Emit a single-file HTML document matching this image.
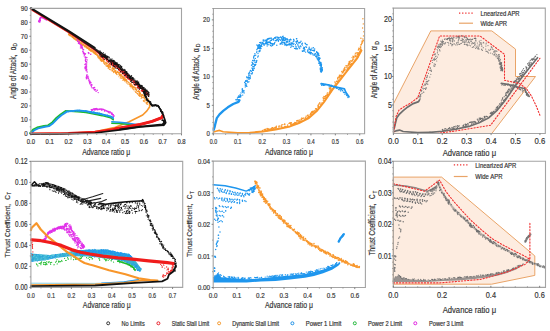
<!DOCTYPE html><html><head><meta charset="utf-8"><style>html,body{margin:0;padding:0;background:#fff;overflow:hidden}svg{display:block}text{stroke:#333;stroke-width:0.18px}</style></head><body><svg xmlns="http://www.w3.org/2000/svg" width="550" height="331" viewBox="0 0 550 331" font-family="Liberation Sans, sans-serif">
<rect width="550" height="331" fill="#fff"/>
<path d="M393.4 133.5 L393.4 103.9 L430.8 30.9 L491.8 30.9 L515.5 49.1 L515.5 76.5 L535.5 76.5 L491.8 133.5Z" fill="#fdece0" stroke="#e9a468" stroke-width="1.0" opacity="1"/>
<path d="M393.4 131.8 L395.8 130.9 L399.5 130.1 L403.2 131.5 L417.8 132.6 L430.0 132.4" fill="none" stroke="#6e6e6e" stroke-width="1.6" stroke-linejoin="round" stroke-linecap="round" opacity="1"/>
<path d="M430.0 132.4 L442.7 131.2 L455.7 129.2 L470.1 126.1 L479.1 122.7 L488.4 118.1 L497.4 110.1 L504.3 101.6 L513.3 88.5 L528.4 69.1 L537.5 57.7" fill="none" stroke="#6e6e6e" stroke-width="1.6" stroke-linejoin="round" stroke-linecap="round" opacity="1"/>
<path d="M471.8 123.6h0M487.2 117.1h0M508.4 89.7h0M444.1 130.6h0M474.1 121.3h0M536.9 54.6h0M524.6 70.5h0M509.3 89.0h0M509.2 93.6h0M500.9 104.4h0M511.8 84.8h0M518.5 79.2h0M479.2 118.2h0M526.9 67.5h0M515.4 85.0h0M515.1 85.7h0M489.6 116.3h0M494.5 112.5h0M527.8 63.8h0M459.3 125.8h0M534.7 57.1h0M508.5 91.1h0M499.7 104.2h0M484.9 118.1h0M505.7 98.8h0M512.6 89.0h0M526.2 71.9h0M511.8 85.4h0M526.6 71.3h0M530.0 64.2h0M515.1 81.2h0M524.1 71.8h0M477.3 119.2h0M525.9 72.2h0M453.5 129.0h0M491.4 112.2h0M478.4 121.9h0M527.5 63.8h0M507.6 90.8h0M515.4 81.6h0M528.1 69.4h0M499.7 107.3h0M480.1 118.0h0M506.4 92.4h0M466.7 124.6h0M507.3 91.9h0M447.6 130.1h0M480.7 121.7h0M529.3 63.7h0M496.1 109.4h0M509.8 91.0h0M503.7 100.0h0M532.7 60.2h0M493.2 112.8h0M471.8 122.6h0M535.6 56.5h0M502.8 97.7h0M491.7 113.5h0M445.0 130.0h0M509.0 88.9h0M508.5 92.1h0M512.4 85.8h0M514.5 85.3h0M444.7 128.8h0M512.4 89.6h0M473.2 122.6h0M506.0 94.8h0M486.4 116.3h0M487.2 117.1h0M479.2 119.8h0M519.6 74.1h0M504.5 99.6h0M480.1 118.7h0M522.0 72.3h0M465.6 125.0h0M513.8 82.1h0M481.8 118.4h0M524.4 70.5h0M526.0 66.7h0M483.4 119.1h0M528.4 65.4h0M470.4 122.4h0M501.4 100.8h0M522.2 76.0h0M465.1 124.5h0M522.3 74.6h0M522.3 72.6h0M458.4 126.3h0M521.2 73.6h0M484.5 117.5h0M492.3 112.4h0M531.1 59.8h0M443.2 131.0h0M527.8 69.8h0M493.3 113.5h0M531.7 59.5h0M517.5 82.0h0M511.2 88.5h0M477.8 120.2h0M470.4 122.2h0M505.7 95.0h0M522.6 70.2h0M529.7 65.3h0M531.2 64.8h0M529.5 64.9h0M444.1 130.5h0M463.6 125.0h0M511.2 88.5h0M491.4 115.2h0M507.4 92.9h0M473.7 124.1h0M497.5 109.0h0M485.1 116.4h0M501.8 103.6h0M463.6 126.8h0M531.2 64.2h0M523.6 68.7h0M508.9 94.0h0M448.3 128.5h0M475.5 122.0h0M492.6 112.4h0M519.9 73.5h0M449.1 128.0h0M457.9 125.7h0M535.3 59.4h0M453.1 128.2h0M480.9 118.7h0M484.9 118.3h0M505.6 95.6h0M466.1 124.4h0M457.5 127.4h0M515.2 82.1h0M452.0 127.4h0M487.7 116.9h0M520.3 75.5h0M521.8 75.1h0M493.4 111.3h0M499.1 106.6h0M492.3 113.5h0M496.2 108.2h0M501.9 102.9h0M451.1 128.3h0M492.6 113.9h0M532.4 59.7h0M529.3 66.5h0M474.6 122.1h0M457.6 128.2h0M511.2 90.8h0M521.2 76.1h0M516.6 81.5h0M455.1 128.0h0M442.8 129.4h0M519.6 74.2h0M453.5 126.9h0M528.1 63.9h0M445.2 130.5h0M457.6 128.3h0M512.0 89.3h0M533.7 59.5h0M521.7 71.3h0M519.1 77.9h0M515.1 80.6h0M517.9 82.2h0M449.8 128.3h0M504.0 100.8h0M472.3 121.9h0M473.2 123.3h0M518.1 78.4h0M486.8 116.4h0M485.0 117.3h0M452.6 128.3h0M535.3 56.1h0M517.5 77.7h0M513.2 87.1h0M512.0 87.4h0M497.9 107.9h0M529.3 62.1h0M454.1 128.7h0M530.9 62.7h0M494.3 111.8h0M465.6 124.3h0M467.0 125.2h0M480.9 118.4h0M513.2 88.3h0M478.5 121.6h0M491.5 114.8h0M505.4 95.3h0M469.5 122.4h0M497.6 107.0h0M463.8 125.1h0M481.7 120.4h0M460.1 128.2h0M497.6 108.1h0M496.7 110.0h0M523.4 72.7h0M497.8 108.3h0M526.3 67.8h0M516.6 84.0h0M496.7 107.4h0M471.4 124.5h0M512.1 90.0h0M526.0 67.1h0M465.7 124.3h0M465.5 126.0h0M526.2 71.2h0M473.7 124.1h0M480.6 119.4h0M516.3 78.8h0M454.1 129.0h0M478.1 120.1h0M505.3 98.0h0M442.9 129.8h0M493.9 111.3h0M468.5 124.8h0M533.8 58.0h0M502.5 98.7h0M476.0 122.4h0M456.6 128.7h0M530.2 60.6h0M532.7 59.3h0M519.7 78.7h0M478.5 121.4h0M510.6 91.2h0M475.1 123.1h0M534.4 59.2h0M502.0 99.5h0M498.9 105.3h0M515.4 83.8h0M504.2 96.6h0M510.0 91.0h0M464.5 126.9h0M510.7 86.8h0M532.0 58.5h0M482.6 119.7h0M506.5 95.5h0M510.1 89.7h0M480.6 118.3h0M451.0 129.2h0M518.1 79.3h0M516.9 79.8h0M475.1 121.6h0M527.5 63.8h0M499.8 103.5h0M519.3 76.5h0M482.9 118.2h0M502.4 102.6h0M485.3 119.0h0M456.1 126.8h0M454.5 126.7h0M520.0 78.1h0M465.2 124.2h0M491.9 114.0h0M522.9 74.6h0M505.9 93.9h0M490.2 113.3h0M501.3 103.0h0M467.5 123.8h0M520.2 73.3h0M521.9 76.7h0M533.3 58.5h0M503.3 100.4h0M509.2 94.3h0M513.0 84.6h0M526.4 68.2h0M506.9 96.1h0M442.6 130.8h0M511.1 88.5h0M501.0 102.8h0M466.3 125.1h0M446.9 129.4h0M509.9 89.9h0M504.4 101.2h0M529.0 62.4h0M521.2 75.9h0M448.6 128.7h0M471.3 121.9h0M502.2 103.8h0M481.7 120.9h0M513.5 82.7h0M526.3 69.2h0M531.6 63.1h0M516.9 79.7h0M522.2 76.6h0M526.6 67.7h0M518.4 78.6h0M455.9 126.2h0M452.1 127.5h0M462.4 126.0h0M513.8 84.9h0M492.3 113.3h0M479.7 120.0h0M518.4 78.0h0M465.0 126.8h0M515.4 81.8h0M487.2 116.8h0M506.2 93.9h0M442.3 129.6h0M520.5 73.7h0M496.1 108.1h0M468.1 123.3h0M490.9 112.6h0M445.7 128.7h0M463.4 125.7h0M449.6 127.6h0M495.1 110.0h0M514.1 81.4h0M490.7 113.7h0M445.7 130.7h0M469.5 122.6h0M497.4 106.4h0M508.2 91.8h0M457.4 125.8h0M516.0 80.4h0M520.7 75.4h0M532.1 59.6h0M473.2 121.8h0M522.9 73.8h0M484.2 116.3h0M512.7 89.2h0M505.8 93.1h0" stroke="#6e6e6e" stroke-width="1.20" stroke-linecap="round" fill="none" opacity="1"/>
<path d="M393.6 129.7 L394.6 126.9 L395.4 123.3 L396.8 117.8 L399.5 114.1 L403.2 110.6 L407.8 106.9 L413.2 103.6 L418.6 101.6 L419.5 99.9" fill="none" stroke="#6e6e6e" stroke-width="1.7" stroke-linejoin="round" stroke-linecap="round" opacity="1"/>
<path d="M416.8 98.6h0M421.2 91.3h0M420.1 97.3h0M437.1 49.5h0M440.1 45.3h0M438.3 54.7h0M437.4 47.2h0M426.5 83.7h0M437.8 46.7h0M427.4 84.2h0M420.8 94.3h0M427.5 81.8h0M437.8 47.6h0M436.4 58.6h0M437.3 52.8h0M438.4 48.1h0M427.3 77.1h0M436.0 56.1h0M423.9 85.6h0M435.5 59.5h0M434.2 60.5h0M428.5 73.3h0M432.6 60.5h0M430.8 74.3h0M432.4 62.5h0M426.1 87.5h0M435.3 64.4h0M437.6 50.9h0M439.5 49.5h0M426.2 81.8h0M419.5 96.4h0M438.1 46.2h0M430.3 68.7h0M420.9 96.0h0M422.8 87.0h0M423.3 92.2h0M430.2 67.7h0M426.5 88.0h0M424.5 88.5h0M429.8 77.1h0M434.2 66.3h0M429.9 70.5h0M421.5 90.8h0M435.1 53.7h0M420.4 99.0h0M425.6 89.4h0M420.4 95.6h0M425.7 88.5h0M433.8 65.8h0M437.4 57.1h0M427.4 81.3h0M427.4 75.7h0M437.5 52.8h0M435.3 54.2h0M431.3 70.1h0M433.3 59.1h0M426.8 81.3h0M420.2 96.4h0M434.8 59.1h0M434.2 63.9h0M423.4 88.9h0M440.1 43.9h0M427.1 76.1h0M422.8 88.5h0M440.2 47.6h0M440.0 50.9h0M435.0 65.8h0M430.9 70.5h0M441.4 46.7h0M439.6 46.7h0M435.5 56.6h0M442.7 43.9h0M427.8 84.2h0M421.8 90.3h0M434.1 59.5h0M431.4 71.5h0M420.0 98.2h0M425.2 85.1h0M428.0 81.3h0M434.5 58.1h0M420.2 94.7h0M426.5 77.6h0M423.8 92.2h0M436.7 61.0h0M442.1 44.8h0M426.1 79.4h0M426.0 83.2h0M431.2 71.0h0M428.8 80.4h0M425.5 84.7h0M439.6 50.0h0M424.7 84.2h0M434.3 54.7h0M422.0 93.4h0M429.8 70.5h0M418.1 97.3h0M435.7 56.6h0M441.7 44.8h0M438.4 44.8h0M421.4 90.3h0" stroke="#6e6e6e" stroke-width="1.20" stroke-linecap="round" fill="none" opacity="0.85"/>
<path d="M471.2 41.6h0M441.0 44.3h0M443.5 41.5h0M456.7 43.5h0M470.4 41.0h0M440.2 44.2h0M485.7 49.1h0M499.9 64.6h0M456.2 38.2h0M494.7 54.2h0M476.4 47.3h0M480.8 42.9h0M449.2 38.5h0M486.0 51.2h0M500.4 63.4h0M487.8 52.2h0M498.0 56.5h0M469.6 42.9h0M449.8 39.6h0M488.6 53.0h0M480.2 44.0h0M465.0 40.7h0M498.0 55.4h0M501.9 67.1h0M461.9 40.3h0M469.1 45.2h0M497.7 58.5h0M486.3 43.0h0M481.9 46.3h0M476.0 40.9h0M490.7 53.1h0M445.1 43.6h0M466.3 41.8h0M499.3 63.9h0M488.0 45.6h0M501.3 63.7h0M467.2 44.4h0M462.1 38.3h0M500.3 67.9h0M462.4 39.2h0M459.1 37.7h0M457.3 44.8h0M442.5 41.5h0M452.2 38.5h0M477.7 46.8h0M498.5 58.5h0M499.2 54.6h0M459.3 44.3h0M441.7 42.2h0M475.6 40.8h0M481.0 40.3h0M455.8 44.9h0M448.7 45.1h0M451.9 45.7h0M489.2 50.3h0M447.2 39.1h0M496.3 51.2h0M452.2 44.4h0M500.5 59.6h0M501.3 68.2h0M467.4 39.3h0M467.6 45.7h0M459.1 37.7h0M447.4 39.6h0M464.8 44.1h0M442.0 41.6h0M500.0 67.0h0M502.0 69.1h0M464.8 44.4h0M474.7 45.3h0M462.0 36.3h0M464.4 42.7h0M496.5 54.3h0M473.6 43.4h0M472.0 43.3h0M499.2 56.7h0M482.5 50.5h0M499.7 58.0h0M500.7 68.7h0M449.6 40.3h0M452.2 38.3h0M501.7 69.3h0M500.3 59.8h0M439.4 47.1h0M496.1 56.8h0M490.5 49.7h0M496.9 51.2h0M479.6 44.2h0M448.5 42.9h0M462.9 40.1h0M466.7 40.5h0M465.4 42.0h0M500.7 70.3h0M498.7 61.1h0M459.8 44.3h0M458.2 37.8h0M476.1 46.0h0M464.0 41.7h0M459.3 44.3h0M472.8 42.8h0M477.8 48.4h0M501.5 69.9h0M471.8 44.0h0M442.1 42.9h0M498.4 59.6h0M442.4 45.2h0M467.1 45.4h0M466.0 39.4h0M479.2 49.0h0M470.6 45.8h0M492.8 49.4h0M460.9 40.4h0M468.5 41.7h0M487.0 51.4h0M483.7 42.9h0M454.1 40.5h0M486.0 44.0h0M442.7 42.0h0M459.6 36.8h0M478.1 49.0h0M478.5 47.1h0M497.8 58.2h0M500.6 63.8h0M491.3 46.6h0M500.0 61.0h0M473.9 47.1h0M459.6 38.1h0M498.3 57.3h0M442.4 40.1h0M465.2 37.4h0M499.3 56.6h0M458.7 39.8h0M477.4 43.0h0M485.7 49.0h0M472.0 39.6h0M501.1 69.6h0M443.0 42.7h0M493.8 54.8h0M440.8 41.2h0M474.8 42.4h0M499.4 63.2h0M463.4 39.7h0M481.6 49.7h0M452.6 40.9h0M443.9 43.6h0M440.4 46.8h0M478.0 45.0h0M442.8 41.3h0M473.4 46.6h0M479.9 42.5h0M501.2 69.9h0M479.3 41.2h0M460.8 43.5h0M447.3 42.5h0M485.9 46.1h0M494.8 55.1h0M498.8 60.3h0M452.6 38.2h0M471.3 41.4h0M452.7 44.7h0M454.2 44.1h0M501.7 65.1h0M500.7 63.7h0M453.3 39.1h0M439.9 44.8h0M467.2 44.6h0M499.5 56.2h0M468.8 42.0h0M450.6 40.1h0M458.1 42.4h0M464.3 37.7h0M454.4 41.0h0M481.8 43.0h0M492.3 47.9h0M488.8 49.8h0M451.1 43.8h0M467.9 42.6h0M483.3 47.7h0M472.6 39.2h0M496.1 55.9h0M475.4 44.1h0M458.3 44.0h0M491.4 47.5h0M497.4 58.2h0M464.3 44.5h0M475.8 39.9h0M493.1 49.5h0M493.5 51.9h0M445.3 42.7h0M499.1 59.0h0M478.3 48.4h0M472.3 42.9h0M481.8 49.2h0M452.2 38.6h0M495.3 53.0h0M461.3 43.4h0M499.8 61.9h0M501.0 70.7h0M495.3 51.1h0M438.5 46.6h0M494.4 50.8h0M474.5 43.8h0M456.8 42.6h0M481.4 44.3h0M445.4 42.8h0M462.4 41.9h0M450.3 41.2h0M452.1 41.1h0M483.4 42.3h0M441.1 43.9h0M452.7 41.8h0M449.3 39.1h0M478.1 49.1h0M499.5 60.6h0M468.7 39.7h0M458.8 39.2h0M501.8 65.6h0M501.2 66.8h0M471.3 41.0h0M501.9 67.6h0M481.8 45.9h0M452.4 39.6h0M501.0 70.2h0M492.6 53.8h0M444.7 43.9h0M495.6 50.8h0M472.3 47.4h0M462.9 42.2h0M450.3 43.3h0M458.2 40.9h0M466.2 44.3h0M494.5 52.0h0M490.8 49.0h0M498.4 54.6h0M479.5 45.8h0M467.8 39.1h0M450.4 43.0h0M454.1 43.6h0M475.7 48.4h0M498.5 59.5h0" stroke="#6e6e6e" stroke-width="1.20" stroke-linecap="round" fill="none" opacity="0.85"/>
<path d="M458.7 36.9h0M453.8 37.7h0M444.5 39.2h0M470.7 39.2h0M467.3 38.3h0M467.4 39.1h0M474.8 38.4h0M458.4 36.2h0M451.2 38.2h0M448.3 38.4h0M449.5 37.9h0M451.5 37.9h0M475.8 38.4h0M445.9 38.9h0M464.3 36.4h0M461.7 35.7h0M475.2 38.0h0M456.2 36.8h0M449.5 38.0h0M447.4 38.5h0M466.6 37.7h0M457.7 36.9h0M472.0 39.5h0M468.9 39.9h0M474.3 38.4h0M450.2 38.6h0M453.9 37.4h0M448.6 38.2h0M447.0 39.4h0M469.3 39.4h0" stroke="#6e6e6e" stroke-width="1.20" stroke-linecap="round" fill="none" opacity="1"/>
<path d="M500.8 66.2h0M502.7 69.6h0M500.6 64.6h0M501.1 65.1h0M501.4 66.4h0M501.7 69.2h0M500.9 66.6h0M500.4 64.2h0M500.6 63.0h0M502.4 68.3h0M501.4 63.6h0M502.2 67.7h0M501.6 65.2h0M502.5 70.7h0M501.3 67.7h0M501.5 62.7h0M501.1 62.9h0M500.7 62.8h0M502.2 67.6h0M502.0 70.2h0" stroke="#6e6e6e" stroke-width="1.40" stroke-linecap="round" fill="none" opacity="1"/>
<path d="M509.4 85.1h0M508.9 84.7h0M520.9 90.0h0M527.6 95.9h0M507.4 84.4h0M502.9 83.5h0M519.2 88.4h0M508.4 84.2h0M504.4 83.6h0M516.8 86.7h0M526.2 94.1h0M511.9 85.6h0M502.3 84.6h0M523.3 90.7h0M522.5 89.8h0M507.9 84.2h0M507.4 85.1h0M520.4 89.6h0M504.4 85.0h0M515.8 86.7h0M516.8 87.2h0M507.4 84.6h0M520.9 89.9h0M526.8 93.9h0M526.5 95.2h0M522.5 91.8h0M505.4 85.2h0M526.5 93.2h0M519.2 89.4h0M510.4 86.4h0M526.8 94.5h0M505.9 83.9h0M525.4 92.4h0M510.9 85.3h0M527.1 94.5h0M501.8 85.0h0M510.9 85.2h0M527.9 95.8h0M503.9 85.3h0M508.9 84.3h0" stroke="#6e6e6e" stroke-width="1.20" stroke-linecap="round" fill="none" opacity="1"/>
<path d="M501.3 83.3 L508.2 84.5 L516.2 86.8 L524.5 88.5 L526.0 91.9 L529.2 96.4" fill="none" stroke="#6e6e6e" stroke-width="1.7" stroke-linejoin="round" stroke-linecap="round" opacity="1"/>
<path d="M539.9 115.3 L536.3 106.1 L531.4 96.0 L526.5 88.8 L519.4 83.5 L504.5 80.3 L504.5 54.3 L480.1 36.0 L439.6 36.0 L417.8 97.6 L410.3 103.3 L404.1 106.7 L399.0 110.1 L396.1 116.4 L394.4 126.7 L393.4 133.5 L437.4 133.5 L459.3 130.4 L490.6 125.3 L539.9 58.3" fill="none" stroke="#f03030" stroke-width="1.1" stroke-linejoin="round" stroke-linecap="round" opacity="1" stroke-dasharray="1.3 1.8" stroke-linecap="butt"/>
<line x1="459" y1="13.1" x2="473" y2="13.1" stroke="#f03030" stroke-width="1.1" stroke-dasharray="1.3 1.8"/>
<line x1="459" y1="23.2" x2="473" y2="23.2" stroke="#e9a468" stroke-width="1.2"/>
<text x="480.40" y="16.10" font-size="6.5" text-anchor="start" fill="#333" textLength="39.20" lengthAdjust="spacingAndGlyphs">Lnearized APR</text>
<text x="480.40" y="25.70" font-size="6.5" text-anchor="start" fill="#333" textLength="26.70" lengthAdjust="spacingAndGlyphs">Wide APR</text>
<path d="M393.3 284.2 L393.3 177.1 L441.6 177.1 L534.8 255.9 L534.8 275.4 L491.6 284.2Z" fill="#fdece0" stroke="#e9a468" stroke-width="1.0" opacity="1"/>
<path d="M393.3 184.9 L405.5 185.9 L416.5 188.1 L427.4 191.2 L430.6 190.0 L435.3 187.2 L436.7 185.9" fill="none" stroke="#6e6e6e" stroke-width="1.5" stroke-linejoin="round" stroke-linecap="round" opacity="0.8"/>
<path d="M398.1 188.5h0M400.6 189.1h0M402.7 189.5h0M405.3 190.3h0M407.7 190.7h0M410.1 191.5h0M413.1 191.9h0M415.5 191.9h0M417.6 192.5h0M420.0 193.6h0M423.0 194.0h0M425.2 194.0h0" stroke="#6e6e6e" stroke-width="1.56" stroke-linecap="round" fill="none" opacity="1"/>
<path d="M398.8 189.3h0M402.1 190.1h0M404.6 191.2h0M407.5 191.8h0M410.6 192.2h0M413.4 193.0h0M416.6 193.2h0M419.8 194.0h0M422.5 194.2h0M425.7 194.7h0" stroke="#6e6e6e" stroke-width="1.40" stroke-linecap="round" fill="none" opacity="1"/>
<path d="M399.7 190.8h0M401.6 191.4h0M404.1 191.9h0M406.8 192.5h0M409.2 193.0h0M411.8 193.9h0M414.2 194.4h0M416.7 194.4h0M419.0 195.3h0M421.7 195.5h0M424.2 196.2h0" stroke="#6e6e6e" stroke-width="1.56" stroke-linecap="round" fill="none" opacity="1"/>
<path d="M400.3 191.8h0M403.2 192.2h0M406.3 193.2h0M409.3 193.8h0M412.2 194.7h0M415.0 195.6h0M417.9 196.0h0M421.0 196.5h0M424.0 196.4h0" stroke="#6e6e6e" stroke-width="1.40" stroke-linecap="round" fill="none" opacity="1"/>
<path d="M394.7 198.1h0M397.4 198.3h0M400.0 197.9h0M402.1 198.0h0M404.9 198.4h0M407.5 198.9h0M410.2 199.1h0M412.6 199.2h0M414.5 199.7h0M417.1 199.4h0M420.1 199.8h0M422.5 199.9h0M424.7 200.6h0M427.1 200.7h0" stroke="#6e6e6e" stroke-width="1.56" stroke-linecap="round" fill="none" opacity="1"/>
<path d="M396.0 198.6h0M398.8 199.2h0M401.8 199.4h0M404.9 199.0h0M407.5 199.6h0M411.2 199.7h0M413.9 199.9h0M417.1 200.4h0M419.9 200.9h0M422.6 201.3h0M426.1 201.7h0" stroke="#6e6e6e" stroke-width="1.40" stroke-linecap="round" fill="none" opacity="1"/>
<path d="M402.4 199.9h0M404.8 200.7h0M407.5 200.8h0M410.1 201.4h0M412.5 201.5h0M415.3 202.2h0M417.5 202.1h0M420.4 202.9h0" stroke="#6e6e6e" stroke-width="1.56" stroke-linecap="round" fill="none" opacity="1"/>
<path d="M403.6 200.9h0M406.9 201.4h0M409.3 201.6h0M412.4 202.5h0M415.5 203.2h0M418.7 203.3h0M421.7 203.9h0" stroke="#6e6e6e" stroke-width="1.40" stroke-linecap="round" fill="none" opacity="1"/>
<path d="M399.5 206.1h0M402.5 206.4h0M405.8 206.5h0M408.9 207.0h0M412.0 207.1h0" stroke="#6e6e6e" stroke-width="1.56" stroke-linecap="round" fill="none" opacity="1"/>
<path d="M400.4 207.0h0M404.1 207.2h0M407.4 207.5h0M411.2 208.3h0" stroke="#6e6e6e" stroke-width="1.40" stroke-linecap="round" fill="none" opacity="1"/>
<path d="M395.9 210.3h0M399.1 211.1h0M402.3 211.1h0M405.3 211.4h0" stroke="#6e6e6e" stroke-width="1.56" stroke-linecap="round" fill="none" opacity="1"/>
<path d="M397.5 211.6h0M400.4 211.7h0M404.3 211.7h0M408.2 212.2h0" stroke="#6e6e6e" stroke-width="1.40" stroke-linecap="round" fill="none" opacity="1"/>
<path d="M396.1 215.3h0M399.4 215.4h0M402.7 215.6h0M405.4 215.5h0" stroke="#6e6e6e" stroke-width="1.56" stroke-linecap="round" fill="none" opacity="1"/>
<path d="M397.2 216.0h0M400.8 216.3h0M404.0 216.3h0" stroke="#6e6e6e" stroke-width="1.40" stroke-linecap="round" fill="none" opacity="1"/>
<path d="M394.4 219.3h0M398.0 220.3h0M400.6 221.0h0" stroke="#6e6e6e" stroke-width="1.56" stroke-linecap="round" fill="none" opacity="1"/>
<path d="M395.7 220.2h0M399.4 221.1h0M403.2 221.7h0" stroke="#6e6e6e" stroke-width="1.40" stroke-linecap="round" fill="none" opacity="1"/>
<path d="M435.8 188.6h0M434.1 189.9h0M434.6 187.6h0M434.8 188.3h0M434.5 190.1h0M433.3 194.1h0M431.0 189.8h0M432.2 191.0h0M434.0 190.1h0M429.0 193.9h0M430.4 189.9h0M433.4 189.7h0M428.9 193.5h0M430.0 195.7h0M436.5 187.9h0M432.2 189.6h0M436.9 187.3h0M433.4 190.0h0M432.8 194.6h0M426.9 192.7h0M434.6 192.9h0M431.6 193.5h0M432.6 189.9h0M428.3 194.5h0M432.6 189.9h0M432.0 191.3h0M434.4 189.7h0M431.1 195.4h0M431.6 191.0h0M427.5 195.0h0M436.1 189.1h0M433.5 189.0h0M433.0 192.1h0M430.7 191.2h0M435.4 188.3h0M432.7 189.5h0M428.1 193.0h0M436.0 190.8h0M435.3 187.3h0M435.9 188.9h0M433.5 189.1h0M432.8 188.5h0M435.6 188.7h0M436.0 188.4h0M433.2 193.7h0" stroke="#6e6e6e" stroke-width="1.40" stroke-linecap="round" fill="none" opacity="0.8"/>
<path d="M398.1 242.6h0M396.5 213.8h0M396.6 248.5h0M398.9 225.1h0M396.5 215.0h0M394.4 269.5h0M400.8 229.8h0M397.0 246.8h0M397.3 217.0h0M400.7 231.1h0M395.0 256.6h0M396.4 213.5h0M399.4 228.6h0M395.6 260.3h0M394.7 255.7h0M398.7 238.2h0M400.6 231.7h0M395.3 264.8h0M400.7 229.3h0M394.4 259.1h0M394.7 267.4h0M394.2 264.3h0M399.6 237.1h0M397.8 244.2h0M397.3 212.5h0M397.1 214.2h0" stroke="#6e6e6e" stroke-width="1.50" stroke-linecap="round" fill="none" opacity="0.8"/>
<path d="M394.4 268.1h0M394.7 268.0h0" stroke="#6e6e6e" stroke-width="1.80" stroke-linecap="round" fill="none" opacity="0.8"/>
<path d="M394.6 271.2h0M394.5 270.8h0" stroke="#6e6e6e" stroke-width="1.80" stroke-linecap="round" fill="none" opacity="0.8"/>
<path d="M395.3 256.5h0M395.6 256.5h0" stroke="#6e6e6e" stroke-width="1.80" stroke-linecap="round" fill="none" opacity="0.8"/>
<path d="M395.8 207.9h0M396.1 207.8h0" stroke="#6e6e6e" stroke-width="1.80" stroke-linecap="round" fill="none" opacity="0.8"/>
<path d="M393.3 279.5 L396.0 276.7 L398.9 275.1 L402.1 278.6 L412.6 279.5 L427.7 280.5 L442.6 279.5 L457.7 277.9 L472.6 276.7 L488.2 275.1 L497.4 273.2 L507.0 270.7 L516.2 267.5 L522.6 264.4 L524.5 263.8 L524.5 263.4 L522.6 265.3 L516.2 269.4 L507.0 272.9 L497.4 275.7 L488.2 277.3 L472.6 279.2 L457.7 280.5 L442.6 281.1 L427.7 282.0 L412.6 282.0 L402.1 282.0 L398.9 282.0 L396.0 282.0 L393.3 282.0Z" fill="#6e6e6e" stroke="none" stroke-width="0" opacity="0.7"/>
<path d="M434.3 279.9h0M512.5 268.3h0M513.5 268.1h0M400.8 277.4h0M498.6 272.4h0M467.8 276.2h0M438.8 278.9h0M414.2 278.8h0M506.8 270.7h0M474.3 276.2h0M393.6 279.4h0M447.3 279.2h0M398.3 274.9h0M504.4 270.9h0M478.3 275.2h0M496.1 272.9h0M491.7 273.9h0M442.8 278.7h0M469.8 276.6h0M459.3 277.0h0M431.7 279.4h0M508.2 270.2h0M464.3 276.8h0M423.7 279.5h0M488.2 274.6h0M518.6 266.2h0M429.7 280.3h0M518.1 265.9h0M483.2 275.5h0M466.8 276.5h0M458.8 277.5h0M490.2 274.3h0M499.5 272.7h0M459.8 277.2h0M445.3 278.8h0M519.0 265.3h0M501.5 272.0h0M432.7 279.3h0M513.9 267.9h0M447.3 279.0h0M430.2 280.6h0M451.8 278.3h0M473.3 276.3h0M507.3 270.4h0M487.2 274.5h0M449.8 277.8h0M508.7 270.4h0M482.3 275.1h0M408.7 279.3h0M488.2 274.2h0M445.8 278.7h0M499.0 272.9h0M448.8 277.9h0M492.7 273.7h0M507.8 270.0h0M423.2 280.3h0M482.8 275.5h0M405.2 278.6h0M513.0 268.8h0M513.9 268.3h0M437.3 278.9h0M439.3 278.8h0M504.4 270.8h0M434.8 279.1h0M441.8 279.5h0M511.6 269.3h0M517.2 266.1h0M423.7 279.7h0M454.8 277.9h0M444.3 278.9h0M395.0 277.3h0M520.4 265.2h0M480.8 275.2h0M449.3 278.5h0M400.1 276.6h0M423.7 279.3h0M483.7 275.0h0M497.1 272.4h0M420.7 279.2h0M405.2 278.7h0M485.7 274.9h0M503.4 271.7h0M413.2 279.8h0M438.8 279.5h0M511.6 269.3h0M414.2 278.8h0M503.4 271.1h0M402.7 278.9h0M453.8 277.8h0M453.3 277.8h0M403.2 277.8h0M404.2 277.9h0M508.2 269.6h0M433.2 280.0h0M413.7 279.9h0M489.7 274.8h0M461.3 277.6h0M506.8 270.0h0M476.3 275.8h0M515.4 267.2h0M480.8 275.1h0M487.7 274.5h0M428.2 279.9h0M440.8 279.9h0M440.3 279.4h0M435.8 279.7h0M467.3 277.3h0M403.2 278.2h0M487.7 275.1h0M425.2 280.5h0M420.7 279.6h0M486.7 275.2h0M520.4 265.6h0M454.8 277.5h0M457.8 277.2h0M480.3 275.0h0M399.5 275.5h0M393.3 278.9h0M440.3 279.0h0M471.8 276.7h0M523.1 263.7h0M522.6 264.2h0M460.3 277.7h0M508.7 269.7h0M486.7 275.3h0M421.7 280.4h0M406.7 278.8h0M496.1 273.6h0M460.3 277.4h0M425.2 279.8h0M418.2 279.4h0M490.7 274.8h0M406.2 278.5h0M497.1 273.5h0M488.2 274.3h0M458.8 277.2h0M434.8 279.6h0M519.9 265.3h0M394.0 278.9h0M465.3 276.7h0M518.1 265.9h0M503.4 270.7h0M490.7 273.9h0M497.1 273.1h0M400.8 276.2h0M445.8 279.1h0M460.8 277.3h0M402.7 278.7h0M476.8 276.0h0M395.7 276.8h0M466.3 277.3h0M470.8 276.6h0M477.8 276.0h0M493.2 274.1h0M457.8 277.9h0M412.7 279.0h0M401.8 278.4h0M424.2 280.0h0M432.7 279.9h0M395.7 276.7h0" stroke="#6e6e6e" stroke-width="1.10" stroke-linecap="round" fill="none" opacity="1"/>
<path d="M525.9 240.7h0M529.3 236.4h0M525.2 240.7h0M526.4 238.6h0M528.3 236.3h0M526.7 238.7h0M528.4 237.2h0M528.1 237.0h0M525.4 240.9h0M528.9 235.7h0M526.8 238.8h0M526.4 238.5h0M525.6 241.5h0M526.8 237.8h0" stroke="#6e6e6e" stroke-width="1.50" stroke-linecap="round" fill="none" opacity="0.8"/>
<path d="M525.3 241.7 L527.2 237.9 L530.4 234.4" fill="none" stroke="#6e6e6e" stroke-width="2.2" stroke-linejoin="round" stroke-linecap="round" opacity="0.8"/>
<path d="M437.4 181.5 L439.2 185.9 L442.1 192.2 L446.7 199.1 L452.6 207.3 L457.2 212.1 L461.8 216.5 L466.5 220.9 L471.1 225.3 L475.7 229.4 L480.6 233.5 L485.3 237.3 L489.9 240.7 L494.5 243.6 L499.2 246.1 L507.0 250.5 L514.5 254.6 L522.6 258.7 L531.4 262.8 L537.7 265.0 L544.5 267.2" fill="none" stroke="#6e6e6e" stroke-width="2.0" stroke-linejoin="round" stroke-linecap="round" opacity="0.45"/>
<path d="M502.5 247.6h0M540.2 266.2h0M484.1 235.1h0M465.1 217.9h0M476.4 229.5h0M471.9 227.2h0M531.8 262.0h0M457.9 214.6h0M438.3 182.2h0M499.8 246.3h0M438.2 184.4h0M515.1 253.3h0M491.1 241.4h0M444.2 195.2h0M471.7 225.3h0M513.4 254.5h0M523.1 258.7h0M469.5 225.8h0M487.6 238.4h0M445.5 198.3h0M449.2 201.5h0M510.6 253.5h0M530.5 261.7h0M446.9 200.7h0M475.7 228.8h0M446.1 198.6h0M453.1 209.1h0M449.0 202.8h0M516.8 256.8h0M534.8 263.5h0M520.3 257.0h0M512.0 254.0h0M454.1 209.9h0M507.3 249.7h0M454.3 210.8h0M526.7 260.0h0M492.1 242.7h0M523.0 257.9h0M496.1 245.2h0M469.9 224.8h0M458.8 212.5h0M525.7 260.5h0M505.3 250.5h0M470.9 227.0h0M511.6 254.4h0M470.2 225.0h0M476.7 230.5h0M519.2 256.7h0M544.2 266.5h0M476.0 229.1h0M527.7 262.0h0M511.1 252.6h0M503.9 249.6h0M520.3 258.6h0M529.6 261.0h0M537.9 265.7h0M455.1 211.0h0M479.8 231.5h0M477.5 231.4h0M449.2 200.2h0M468.2 222.8h0M517.7 257.7h0M467.3 219.9h0M536.8 263.8h0M455.8 210.8h0M485.0 237.2h0M514.3 254.1h0M479.1 231.5h0M491.3 242.2h0M529.3 261.5h0M492.2 243.0h0M445.8 198.0h0M443.8 194.1h0M438.8 184.2h0M488.1 238.4h0M525.2 259.8h0M488.7 240.2h0M489.7 241.4h0M538.2 263.7h0M516.0 254.3h0M501.3 248.9h0M490.6 239.6h0M477.3 231.9h0M468.6 223.0h0M492.2 243.0h0M476.6 231.5h0M439.8 187.5h0M537.3 264.8h0M464.7 218.5h0M451.2 204.7h0M448.0 199.5h0M439.7 190.5h0M443.7 195.0h0M440.7 189.3h0M468.0 220.9h0M478.9 233.1h0M490.7 240.5h0M503.9 248.5h0M493.5 241.6h0M511.6 253.6h0M532.4 264.3h0M535.0 263.3h0M471.5 227.2h0M437.6 183.2h0M543.7 265.8h0M438.0 182.5h0M457.5 212.2h0M470.6 226.0h0M511.2 252.4h0M517.3 257.0h0M490.1 242.0h0M469.7 225.0h0M537.5 264.5h0M507.6 251.0h0M479.1 234.1h0M460.0 214.8h0M515.8 253.7h0M473.4 225.5h0M482.6 236.9h0M477.2 231.3h0M542.7 267.0h0M455.6 210.9h0M520.7 258.1h0M539.7 266.4h0M496.6 246.0h0M526.5 260.2h0M461.0 215.8h0M455.7 210.0h0M498.7 245.3h0M457.4 213.6h0M447.9 202.9h0M544.2 267.8h0M441.5 192.7h0M532.4 263.2h0M464.4 218.8h0M534.7 263.6h0M544.3 267.8h0M491.3 241.7h0M470.4 223.5h0M523.6 258.7h0M448.4 202.2h0M500.2 246.2h0M494.2 242.2h0M446.7 200.2h0M485.5 238.9h0M522.8 259.8h0M479.1 234.2h0M529.8 262.7h0M492.7 243.5h0M469.0 223.1h0M460.8 216.6h0M439.7 187.5h0M495.9 243.4h0M445.4 196.8h0M463.9 218.5h0M443.6 194.7h0M461.8 216.9h0M537.1 264.3h0M479.2 234.1h0M438.4 184.9h0M538.9 265.0h0M489.9 240.3h0M449.4 202.1h0M480.8 234.9h0M524.3 260.0h0M532.7 263.9h0M440.5 189.7h0M445.8 199.9h0M532.4 263.5h0M498.1 246.7h0M540.1 266.8h0M494.9 242.6h0M518.2 257.5h0M486.8 238.0h0M474.4 227.5h0M439.9 187.4h0M515.2 253.3h0M470.2 225.9h0M448.2 200.6h0M439.0 182.9h0M514.2 256.2h0M466.6 220.5h0M517.9 257.5h0M513.7 254.8h0M478.0 231.9h0M465.6 220.8h0M463.7 217.2h0M527.9 260.0h0M444.1 197.1h0M508.9 250.6h0M477.7 230.5h0M502.2 248.1h0M532.4 263.0h0M511.7 253.9h0M442.1 193.0h0M493.3 243.5h0M464.5 219.2h0M506.7 249.4h0M444.1 193.5h0M478.9 233.8h0M504.6 248.4h0M519.4 256.1h0M489.0 239.3h0M522.6 259.1h0M444.1 195.5h0M438.4 182.7h0M470.6 225.6h0M472.5 227.2h0M474.6 227.0h0M518.8 256.0h0M471.0 226.1h0M483.2 235.2h0M512.6 253.0h0M537.4 264.1h0M448.6 204.0h0M470.9 223.9h0M478.6 230.9h0M467.1 220.6h0M516.4 254.3h0M463.6 217.2h0" stroke="#6e6e6e" stroke-width="1.30" stroke-linecap="round" fill="none" opacity="1"/>
<path d="M393.3 183.7 L424.5 191.2 L439.6 180.2 L446.0 191.6 L453.1 200.7 L462.1 210.8 L470.9 220.3 L480.9 229.4 L491.8 238.5 L502.6 244.8 L513.5 250.5 L524.3 255.9 L529.9 259.3 L529.9 223.4" fill="none" stroke="#f03030" stroke-width="1.1" stroke-linejoin="round" stroke-linecap="round" opacity="1" stroke-dasharray="1.3 1.8" stroke-linecap="butt"/>
<path d="M393.3 282.9 L439.6 282.9 L479.9 279.5 L489.6 277.0 L509.2 271.3 L525.0 264.4 L529.9 259.3" fill="none" stroke="#f03030" stroke-width="1.1" stroke-linejoin="round" stroke-linecap="round" opacity="1" stroke-dasharray="1.3 1.8" stroke-linecap="butt"/>
<line x1="453.8" y1="164.9" x2="467.6" y2="164.9" stroke="#f03030" stroke-width="1.1" stroke-dasharray="1.3 1.8"/>
<line x1="453.8" y1="176.5" x2="467.6" y2="176.5" stroke="#e9a468" stroke-width="1.2"/>
<text x="475.30" y="168.10" font-size="6.6" text-anchor="start" fill="#333" textLength="41.10" lengthAdjust="spacingAndGlyphs">Linearized APR</text>
<text x="475.30" y="179.00" font-size="6.6" text-anchor="start" fill="#333" textLength="27.20" lengthAdjust="spacingAndGlyphs">Wide APR</text>
<path d="M68.5 33.8 L94.9 51.9 L100.0 56.9 L100.0 58.3 L94.9 53.0 L68.5 34.3Z" fill="#f8962a" stroke="none" stroke-width="0" opacity="0.7"/>
<path d="M126.5 81.7h0M73.9 37.7h0M88.2 48.3h0M130.2 85.1h0M148.2 100.6h0M72.2 37.0h0M72.2 37.2h0M88.9 47.8h0M90.5 50.8h0M119.1 72.7h0M146.2 100.2h0M131.8 88.1h0M117.3 74.7h0M89.5 49.7h0M123.3 79.7h0M124.7 80.4h0M75.9 39.6h0M72.6 37.5h0M91.2 50.9h0M147.4 101.0h0M116.5 73.8h0M124.3 79.7h0M129.3 84.2h0M70.4 35.6h0M116.6 72.5h0M118.8 76.5h0M136.5 90.0h0M123.5 78.1h0M79.8 41.8h0M143.8 101.2h0M131.2 86.1h0M104.4 61.9h0M103.7 60.0h0M85.2 46.3h0M118.3 72.1h0M112.6 67.8h0M120.9 74.4h0M132.5 88.5h0M116.5 74.1h0M137.1 92.2h0M139.0 92.1h0M77.9 41.6h0M139.5 93.8h0M117.6 71.5h0M121.1 78.0h0M147.0 100.9h0M134.4 90.7h0M126.4 79.6h0M94.8 52.9h0M109.8 66.4h0M90.3 49.9h0M106.4 66.1h0M101.2 60.0h0M78.2 40.7h0M103.3 59.7h0M74.5 38.5h0M123.7 78.9h0M77.2 40.4h0M75.9 39.9h0M71.9 36.1h0M83.5 44.1h0M83.5 44.8h0M98.3 57.2h0M75.1 38.9h0M75.1 39.1h0M97.8 56.3h0M96.2 54.5h0M103.6 62.9h0M126.4 80.0h0M82.1 43.9h0M122.0 75.6h0M98.3 56.9h0M136.8 92.9h0M106.1 65.7h0M93.7 51.8h0M112.1 70.9h0M128.7 82.5h0M104.0 60.6h0M144.8 98.9h0M76.5 39.8h0M109.5 64.8h0M91.5 50.0h0M139.8 93.2h0M105.8 64.9h0M120.8 76.4h0M87.2 48.4h0M92.7 50.4h0M78.6 41.8h0M99.2 56.9h0M123.8 77.6h0M146.9 103.9h0M70.8 36.1h0M124.5 77.6h0M122.8 77.2h0M120.6 74.1h0M136.4 89.9h0M126.2 81.9h0M107.9 63.9h0M86.0 47.1h0M107.1 63.6h0M94.4 53.3h0M142.0 94.8h0M101.4 60.2h0M75.8 40.0h0M136.8 92.6h0M139.1 93.2h0M79.9 43.1h0M129.3 84.3h0M106.1 65.8h0M117.5 72.4h0M117.5 71.8h0M85.6 45.9h0M107.3 65.9h0M145.8 100.0h0M84.4 46.5h0M88.9 47.8h0M76.1 39.5h0M132.0 87.4h0M117.6 72.2h0M104.3 63.3h0M135.7 88.6h0M132.3 87.2h0M135.3 87.5h0M121.2 76.2h0M119.5 72.6h0M123.2 78.2h0M94.8 51.9h0M115.0 71.5h0M125.6 79.2h0M105.9 63.7h0M108.4 66.8h0M84.6 45.9h0M78.6 42.0h0M132.2 87.7h0M141.6 94.7h0M70.2 35.6h0M85.2 45.7h0M102.1 59.1h0M88.9 49.3h0M101.4 60.8h0M82.3 44.6h0M110.3 66.3h0M143.4 95.9h0M88.8 49.5h0M113.7 72.5h0M68.5 34.0h0M126.8 80.6h0M133.2 87.6h0M73.5 37.9h0M85.2 45.9h0M73.1 36.9h0M74.0 37.9h0M74.7 38.7h0M121.0 77.8h0M91.9 50.8h0M109.0 66.0h0M114.3 68.8h0M111.0 69.6h0M134.2 87.8h0M69.0 35.0h0M123.4 76.8h0M97.4 54.9h0M134.2 87.8h0M124.6 79.0h0M96.8 55.1h0M132.4 87.7h0M144.5 96.8h0M124.9 78.2h0M142.0 95.8h0M121.3 74.4h0M130.9 84.3h0M89.2 49.8h0M130.7 86.2h0M79.0 41.1h0M83.1 44.6h0M78.6 41.4h0M141.2 96.5h0M146.1 103.0h0M147.2 100.8h0M142.2 97.6h0M135.3 90.9h0M81.1 43.8h0M145.1 100.2h0M77.4 40.9h0M123.5 76.9h0M90.3 49.4h0M141.3 98.4h0M139.3 95.1h0M135.6 88.0h0M70.2 34.9h0M122.8 77.1h0M81.4 42.8h0M115.7 73.3h0M137.3 91.7h0M125.8 81.1h0M109.3 66.1h0M72.0 36.7h0M93.9 51.3h0M71.4 36.1h0M102.9 59.9h0M136.8 92.3h0M93.6 52.8h0M81.9 43.9h0M98.0 55.3h0M108.6 64.7h0M122.9 80.2h0M146.2 97.1h0M108.2 68.2h0M123.8 78.5h0M105.6 62.3h0M136.6 91.0h0M79.1 42.2h0M143.8 100.4h0M148.2 98.9h0M102.1 60.2h0M74.6 39.2h0M96.2 53.3h0M93.7 52.0h0M103.3 60.0h0M77.9 41.5h0M146.9 102.3h0M92.8 52.0h0M93.2 51.0h0M89.4 48.5h0M70.6 35.4h0M136.5 89.7h0M101.0 58.8h0M134.3 90.2h0M143.0 95.3h0M91.8 49.8h0M101.4 60.9h0M99.9 58.3h0M73.6 37.7h0M95.9 53.0h0M138.7 91.2h0M134.9 90.1h0M73.1 36.9h0M141.6 95.0h0M113.9 69.3h0M103.2 61.3h0M121.3 75.6h0M135.7 91.3h0M129.9 85.9h0M114.6 71.7h0M113.1 68.0h0M85.4 46.7h0M99.7 58.2h0M117.9 72.3h0M139.6 95.0h0M141.6 97.5h0M99.7 58.7h0M102.1 60.8h0M135.9 90.0h0M102.1 59.0h0M139.1 92.8h0M111.8 68.5h0M110.6 69.3h0M112.2 67.8h0M108.6 67.9h0M108.6 67.4h0M115.4 71.6h0M122.0 76.0h0M123.0 80.3h0M143.4 97.6h0M140.5 93.0h0M80.3 43.1h0M142.0 95.1h0M78.2 40.7h0M137.5 93.8h0M131.3 84.8h0M84.4 45.2h0M146.6 98.3h0M116.2 72.1h0M135.8 92.4h0M132.9 86.9h0M107.3 65.6h0M81.0 42.7h0M113.1 68.5h0M99.3 58.8h0M122.8 77.1h0M129.0 82.4h0M139.7 91.5h0M133.3 89.3h0M95.9 53.7h0M132.0 85.3h0M131.2 84.0h0M139.8 94.7h0M95.5 53.6h0M138.3 90.8h0M99.0 58.5h0M69.8 35.7h0M94.2 52.5h0M93.6 51.8h0M113.5 68.8h0M127.2 81.7h0M122.0 76.1h0M130.1 83.7h0M119.7 75.4h0M126.2 81.7h0M94.8 53.6h0M86.8 47.5h0M69.4 35.3h0M119.1 73.8h0M89.4 48.6h0M92.7 50.5h0M73.8 38.7h0M85.3 46.0h0M77.0 40.4h0M106.3 63.4h0M100.4 60.2h0M125.5 81.3h0M113.1 67.6h0M115.0 71.6h0M75.1 38.8h0M88.9 48.9h0M68.5 34.0h0M130.3 86.3h0M117.2 71.7h0M86.7 47.7h0M136.0 88.3h0M79.1 42.3h0M94.8 52.2h0M133.7 87.6h0M98.1 55.9h0M128.0 83.9h0M86.0 46.1h0M113.3 71.4h0M126.9 81.4h0M139.3 91.5h0M125.1 81.5h0M71.0 35.7h0M98.0 55.2h0M119.4 73.0h0M95.5 52.6h0M118.6 73.3h0M123.1 77.1h0M127.5 81.4h0M115.7 73.3h0M135.4 91.5h0M119.0 74.2h0M110.1 69.6h0M94.5 53.7h0M84.4 46.3h0M76.6 40.1h0M120.6 75.8h0M91.2 51.5h0M128.3 82.2h0M91.5 50.0h0M91.5 50.7h0M95.2 53.5h0M123.4 77.0h0M100.6 57.9h0M99.4 57.1h0M122.3 78.0h0M141.5 97.9h0M148.2 98.9h0M138.0 91.3h0M113.3 71.4h0M85.3 46.1h0M108.0 66.3h0M119.5 74.2h0M148.2 100.2h0M133.2 87.9h0M74.9 38.5h0M87.5 48.4h0M141.7 96.9h0M140.5 94.0h0M81.1 43.7h0M97.6 55.9h0M136.3 91.4h0M138.6 95.2h0M93.5 51.3h0M146.9 103.1h0M78.2 40.9h0M138.0 91.4h0M102.5 60.4h0M89.2 50.0h0M146.2 100.1h0M130.1 83.3h0M120.3 77.9h0M136.8 89.5h0M69.0 34.5h0M101.9 61.1h0M143.4 100.6h0M113.8 70.7h0M89.7 50.0h0M106.0 62.2h0M142.6 94.7h0M69.4 34.6h0M96.6 54.1h0M121.2 75.9h0M144.2 97.9h0M140.0 96.0h0M115.4 72.5h0M143.8 101.3h0M123.0 80.3h0M127.2 81.8h0M74.5 38.9h0M93.5 51.5h0M118.4 73.2h0M109.1 64.7h0M95.6 54.4h0M139.3 95.7h0M113.5 69.4h0M81.1 43.6h0M115.9 70.7h0M112.2 70.2h0M126.0 79.7h0M83.7 44.8h0M68.5 34.6h0M132.3 85.2h0M125.8 80.5h0M147.3 104.3h0M86.4 46.1h0M81.1 42.9h0M131.3 85.0h0M144.9 101.8h0M90.1 49.8h0M111.0 68.7h0M109.1 67.7h0M75.2 38.6h0M132.1 85.9h0M121.4 78.1h0M86.4 47.7h0M138.6 90.7h0M87.7 47.2h0M94.0 53.1h0M93.5 51.5h0M135.0 88.0h0M127.0 83.2h0M114.8 68.7h0M118.8 76.5h0M112.6 70.5h0M100.2 57.3h0M147.8 99.7h0M76.9 39.6h0M90.1 50.2h0M83.1 44.6h0M69.0 35.0h0M127.4 83.6h0M96.8 55.2h0M80.3 43.3h0M100.7 59.6h0M73.1 37.2h0M134.2 87.0h0M107.9 65.5h0M107.5 66.5h0M144.2 98.0h0M81.5 43.9h0M143.4 97.6h0M137.9 94.2h0M86.0 45.8h0M70.6 35.4h0M106.2 64.8h0M100.5 58.2h0M94.8 53.4h0M139.3 95.4h0M102.1 60.9h0M75.9 40.1h0M111.8 68.3h0M137.5 93.3h0M136.6 90.4h0M86.2 46.7h0M136.5 92.7h0M106.5 65.5h0M95.9 53.3h0M72.7 37.2h0M74.1 38.1h0M93.5 51.0h0M109.0 65.4h0M105.9 63.0h0M138.7 91.4h0M135.5 89.3h0M117.0 73.1h0M115.1 70.3h0M120.5 75.2h0M100.4 59.7h0M69.0 34.7h0M79.3 41.8h0M69.4 34.9h0M135.3 90.9h0M142.9 97.6h0M140.3 95.7h0M77.0 40.4h0M110.2 66.8h0M90.6 49.2h0M131.4 86.9h0M81.5 44.3h0M73.5 37.6h0M120.2 74.8h0M131.1 87.8h0M124.8 80.5h0M85.0 46.3h0M73.8 38.7h0M72.3 36.5h0M94.8 52.0h0M114.7 70.3h0M125.7 79.7h0M82.5 44.1h0M98.0 57.6h0M135.8 92.2h0M137.2 93.2h0M98.1 55.4h0M106.3 62.7h0M144.2 96.9h0M90.7 50.2h0M143.1 97.7h0M77.0 40.4h0M92.8 51.7h0M102.1 60.6h0M88.3 48.8h0M83.1 45.4h0M113.9 69.4h0M81.5 44.3h0M123.2 78.2h0M133.2 86.5h0M113.5 68.1h0M86.4 46.1h0M137.0 92.0h0M126.9 82.6h0M100.4 60.2h0M143.8 95.8h0M147.8 102.5h0M143.4 100.7h0M101.7 59.6h0M103.3 60.0h0M110.4 67.6h0M73.9 38.0h0M86.4 47.2h0M98.8 56.9h0M109.3 69.1h0M121.0 75.4h0M123.3 80.0h0M139.7 96.3h0M87.3 46.9h0M104.0 62.0h0M95.5 53.1h0M123.3 80.0h0M82.7 45.4h0M112.1 70.5h0M96.9 54.6h0M119.2 74.7h0M84.4 46.5h0M104.6 64.2h0M79.4 42.3h0M110.7 65.9h0M139.4 92.6h0M122.4 76.5h0M112.7 68.8h0M76.1 39.3h0M85.2 46.9h0M106.8 63.7h0M101.8 61.4h0M70.6 35.3h0M101.1 60.9h0M141.6 97.5h0M77.9 41.5h0M131.8 87.3h0M88.1 47.9h0M69.8 35.2h0" stroke="#f8962a" stroke-width="1.30" stroke-linecap="round" fill="none" opacity="1"/>
<path d="M117.8 73.5h0M106.0 65.1h0M136.4 91.8h0M117.6 75.1h0M135.0 90.5h0M131.5 88.0h0M127.8 83.2h0M113.8 70.4h0M127.1 82.2h0M142.2 99.1h0M118.8 76.3h0M141.9 98.1h0M131.8 88.4h0M125.5 81.8h0M110.6 68.9h0M135.3 90.9h0M134.7 90.8h0M137.5 92.5h0M111.7 69.0h0M110.9 68.5h0" stroke="#fff" stroke-width="1.00" stroke-linecap="round" fill="none" opacity="1"/>
<path d="M30.9 9.0 L78.0 37.9" fill="none" stroke="#f8962a" stroke-width="1.4" stroke-linejoin="round" stroke-linecap="round" opacity="1"/>
<path d="M30.9 133.5 L68.5 133.4 L94.9 131.7 L115.4 127.3 L129.2 121.8 L142.7 115.0 L146.9 110.9 L149.7 106.8 L149.5 103.1" fill="none" stroke="#f8962a" stroke-width="1.6" stroke-linejoin="round" stroke-linecap="round" opacity="1"/>
<path d="M39.6 20.9 L40.1 18.2 L41.6 17.1 L43.9 18.2 L46.5 19.8" fill="none" stroke="#e030e8" stroke-width="1.8" stroke-linejoin="round" stroke-linecap="round" opacity="1"/>
<path d="M39.6 21.8h0M39.4 21.9h0M39.6 21.9h0M39.9 20.3h0M39.6 20.4h0M40.2 20.4h0M39.4 20.4h0M38.8 21.2h0" stroke="#e030e8" stroke-width="1.80" stroke-linecap="round" fill="none" opacity="1"/>
<path d="M82.2 47.9h0M90.0 81.1h0M86.8 70.1h0M83.2 52.3h0M84.9 64.5h0M78.5 43.4h0M85.8 63.8h0M95.6 89.9h0M84.4 53.4h0M86.5 61.7h0M94.6 87.4h0M90.9 85.2h0M89.9 83.1h0M85.4 68.9h0M79.4 43.5h0M94.2 89.4h0M86.6 66.8h0M95.3 89.5h0M85.2 57.6h0M84.9 68.1h0M81.0 45.4h0M86.1 68.4h0M89.2 81.7h0M86.7 64.0h0M86.8 76.6h0M86.0 70.3h0M77.1 39.6h0M83.6 49.8h0M89.8 83.7h0M87.0 74.7h0M97.3 90.2h0M79.1 41.9h0M90.7 82.9h0M91.4 85.2h0M98.2 92.6h0M91.4 84.9h0M80.5 46.1h0M83.4 52.0h0M80.5 47.9h0M86.3 61.8h0M86.1 64.3h0M86.0 57.7h0M92.1 84.9h0M88.0 76.3h0M85.5 53.8h0M89.9 82.3h0M77.7 40.7h0M87.2 59.9h0M91.4 86.8h0M85.8 59.7h0M87.1 77.4h0M86.5 67.3h0M85.4 59.1h0M85.1 57.6h0M86.7 78.5h0M86.2 62.0h0M80.5 44.5h0M85.6 66.1h0M86.8 75.5h0M83.3 49.4h0M85.6 66.9h0M79.4 41.9h0M96.1 91.4h0M92.2 87.9h0M82.5 47.0h0M79.1 43.2h0M84.9 67.3h0M88.8 80.3h0M91.1 84.8h0M89.2 80.1h0M89.5 81.5h0M78.5 42.0h0M86.6 69.3h0M81.9 45.3h0M85.7 61.4h0M82.1 48.2h0M81.6 46.7h0M86.9 62.1h0M82.2 48.6h0M89.2 80.0h0M79.5 43.9h0M84.0 52.6h0M86.2 70.7h0M77.5 41.1h0M87.2 72.0h0M79.5 43.6h0M86.4 66.2h0M86.2 77.2h0M89.7 82.4h0M86.6 68.9h0M86.6 77.8h0M85.5 57.0h0M86.5 65.6h0M91.3 84.5h0M86.6 76.5h0M89.9 81.4h0M86.3 67.2h0M86.7 69.2h0M88.5 77.9h0M85.4 54.1h0M93.8 88.4h0M83.4 53.8h0M84.2 55.9h0M82.4 48.7h0M88.0 76.5h0M84.6 54.7h0M94.5 90.0h0M85.4 60.4h0M85.6 68.0h0M86.9 57.5h0M93.5 87.7h0M82.4 48.1h0M86.6 75.6h0M83.7 53.6h0M90.9 82.5h0M81.3 47.8h0M86.4 78.7h0M77.7 41.2h0M88.2 78.8h0M82.7 51.2h0" stroke="#e030e8" stroke-width="1.44" stroke-linecap="round" fill="none" opacity="1"/>
<path d="M88.9 53.5h0M88.4 52.8h0M90.7 54.4h0M90.8 54.1h0M88.3 52.7h0M88.9 53.0h0" stroke="#e030e8" stroke-width="1.40" stroke-linecap="round" fill="none" opacity="1"/>
<path d="M91.6 109.5h0M91.6 109.6h0M109.0 111.4h0M97.2 109.0h0M103.7 109.4h0M105.0 110.8h0M107.2 111.4h0M104.6 110.4h0M94.7 109.0h0M104.6 110.8h0M104.4 111.1h0M95.2 108.6h0M99.0 109.5h0M103.2 109.4h0M92.7 110.3h0M105.0 111.0h0M100.1 109.3h0M112.0 114.5h0M105.0 111.2h0M101.2 108.9h0M96.5 108.8h0M112.9 114.4h0M112.0 113.1h0M113.1 115.5h0M108.8 111.7h0M101.7 109.0h0M93.2 109.2h0M96.0 109.1h0M112.2 113.0h0M104.9 110.3h0M96.9 109.3h0M94.2 108.8h0M104.0 109.8h0M104.0 109.7h0M108.8 112.7h0M92.7 109.8h0M94.8 109.8h0M104.2 109.5h0M102.7 109.3h0M107.7 111.5h0M95.6 108.7h0M104.6 110.2h0M106.5 110.6h0M92.1 109.5h0M111.6 113.1h0M97.3 109.5h0M112.8 115.1h0M93.7 109.2h0M111.1 112.6h0M93.7 108.9h0M91.1 109.6h0M104.8 110.4h0M96.6 108.5h0M108.6 112.1h0M94.2 110.0h0M109.9 111.8h0M94.2 109.8h0M91.6 109.5h0M102.7 109.1h0M110.5 111.8h0M97.7 108.9h0M101.7 109.2h0M112.2 113.7h0M96.7 108.5h0M107.4 111.0h0M100.1 108.9h0M108.7 112.0h0M101.5 110.1h0M111.4 113.5h0M113.4 114.7h0M100.0 109.4h0M102.0 110.3h0M102.2 109.0h0M96.6 108.4h0M99.6 108.9h0M103.7 109.7h0M94.2 108.7h0M110.8 112.9h0M99.6 109.1h0M113.5 116.6h0M109.0 112.5h0M106.7 111.3h0M93.7 109.2h0M109.4 112.9h0M91.7 110.5h0M91.7 110.4h0M98.6 109.0h0M104.8 110.5h0M97.8 109.9h0M108.0 112.0h0M105.6 110.1h0M97.8 109.9h0M113.4 116.0h0M95.2 109.6h0M114.3 115.9h0M112.2 114.0h0M108.6 112.2h0M96.8 109.7h0M92.2 109.9h0M100.0 109.6h0M108.0 112.1h0M101.1 109.3h0M95.6 108.7h0M112.2 114.3h0M95.3 110.0h0M94.7 110.1h0M111.6 114.2h0M107.9 111.2h0M92.1 109.4h0M100.7 109.0h0" stroke="#e030e8" stroke-width="1.20" stroke-linecap="round" fill="none" opacity="1"/>
<path d="M30.0 133.0 L33.0 129.6 L37.1 127.5 L44.1 126.0 L48.0 125.3 L52.2 122.4 L56.3 117.9 L60.5 114.4 L65.9 110.8 L77.8 111.6 L85.9 112.3 L92.6 113.7 L102.2 115.5 L110.5 117.6 L113.2 119.6" fill="none" stroke="#1dbb2c" stroke-width="1.8" stroke-linejoin="round" stroke-linecap="round" opacity="1"/>
<path d="M30.9 133.8 L33.9 130.5 L38.1 128.4 L45.0 126.8 L49.0 126.1 L53.1 123.2 L57.3 118.8 L61.4 115.3 L66.9 111.6 L77.8 110.4 L85.9 111.1 L92.6 112.5 L102.2 114.3 L110.5 116.4 L113.2 118.3" fill="none" stroke="#1e96ee" stroke-width="1.9" stroke-linejoin="round" stroke-linecap="round" opacity="1"/>
<path d="M74.1 111.1h0M82.6 111.2h0M99.6 113.2h0M100.4 113.9h0M85.8 111.7h0M80.6 110.5h0M85.5 110.5h0M79.9 111.2h0M113.1 117.5h0M84.7 111.2h0M76.7 111.0h0M70.6 110.8h0M73.5 111.4h0M105.8 115.0h0M94.5 113.4h0M78.5 110.9h0M68.1 111.8h0M106.8 115.9h0M103.6 115.2h0M103.8 114.7h0M93.4 111.8h0M109.4 116.6h0M88.6 112.2h0M79.8 110.2h0M67.6 111.4h0M111.6 117.4h0M99.9 113.3h0M71.5 110.7h0M93.1 113.0h0M91.5 111.6h0M94.4 112.2h0M66.5 111.2h0M105.7 115.4h0M70.7 111.2h0M112.0 116.5h0M96.9 113.1h0M76.8 110.7h0M87.1 111.3h0M71.7 110.9h0M90.3 112.5h0M95.8 113.1h0M90.5 112.0h0M111.7 117.5h0M110.7 116.5h0M98.9 113.0h0M91.1 112.8h0M81.6 110.6h0M85.1 110.8h0M91.1 111.9h0M91.5 112.2h0M86.8 110.8h0M76.2 110.5h0M78.3 111.0h0M73.1 111.1h0M69.3 111.5h0M107.6 115.1h0M71.3 111.5h0M83.6 111.1h0M97.4 112.9h0M83.6 111.0h0" stroke="#1e96ee" stroke-width="1.20" stroke-linecap="round" fill="none" opacity="1"/>
<path d="M111.8 123.2 L119.4 123.6 L126.9 124.3 L136.3 125.9" fill="none" stroke="#1dbb2c" stroke-width="1.5" stroke-linejoin="round" stroke-linecap="round" opacity="1"/>
<path d="M111.8 121.8 L119.4 122.2 L126.9 122.9 L136.3 124.5" fill="none" stroke="#1e96ee" stroke-width="1.5" stroke-linejoin="round" stroke-linecap="round" opacity="1"/>
<path d="M30.9 133.7 L68.5 133.2 L94.9 132.0 L115.6 128.8 L140.1 124.5 L152.1 121.4 L161.9 117.6 L162.9 115.5" fill="none" stroke="#f01c1c" stroke-width="2.3" stroke-linejoin="round" stroke-linecap="round" opacity="1"/>
<path d="M115.6 128.8 L140.1 124.5 L152.1 121.4 L161.9 117.6 L162.9 115.5" fill="none" stroke="#f01c1c" stroke-width="3.0" stroke-linejoin="round" stroke-linecap="round" opacity="1"/>
<path d="M30.9 9.4 L68.5 32.4 L94.9 50.2 L100.0 54.4" fill="none" stroke="#f01c1c" stroke-width="1.6" stroke-linejoin="round" stroke-linecap="round" opacity="1"/>
<path d="M30.9 8.0 L68.5 30.7 L94.9 47.7 L100.0 51.3 L109.0 57.7 L118.1 63.9 L125.0 70.5 L134.1 78.8 L143.1 87.3 L149.5 92.6 L149.1 95.3 L143.1 90.6 L134.1 82.2 L125.0 73.9 L118.1 67.3 L109.0 61.1 L100.0 54.4 L94.9 50.2 L68.5 32.4 L30.9 9.4Z" fill="#111" stroke="none" stroke-width="0" opacity="0.9"/>
<path d="M120.0 66.6h0M147.3 92.9h0M114.5 61.7h0M135.1 82.9h0M135.6 82.5h0M147.3 92.9h0M106.1 57.2h0M120.3 68.0h0M108.1 59.2h0M135.0 80.6h0M131.0 77.2h0M133.5 79.8h0M147.0 92.0h0M102.0 53.0h0M134.4 79.4h0M137.7 83.9h0M118.0 65.2h0M141.4 87.5h0M121.2 68.5h0M129.0 75.7h0M135.1 81.2h0M114.9 62.1h0M123.2 69.4h0M110.2 59.1h0M118.4 67.4h0M125.7 72.1h0M124.0 71.1h0M102.4 55.6h0M125.4 74.2h0M131.7 77.5h0M148.3 91.9h0M108.6 57.9h0M107.8 57.3h0M144.4 88.8h0M124.7 70.7h0M116.1 62.9h0M119.1 65.9h0M135.8 83.8h0M109.8 59.8h0M130.6 79.0h0M103.2 55.7h0M120.7 68.1h0M134.7 81.8h0M119.9 68.4h0M129.1 75.0h0M109.8 59.0h0M139.9 87.1h0M108.1 59.1h0M103.7 54.1h0M133.8 80.4h0M121.8 68.9h0M123.1 70.0h0M114.7 64.8h0M103.3 55.5h0M109.0 58.9h0M102.0 53.2h0M130.7 75.8h0M121.2 68.9h0M128.8 74.3h0M121.4 68.2h0" stroke="#fff" stroke-width="0.90" stroke-linecap="round" fill="none" opacity="1"/>
<path d="M139.4 88.9h0M129.3 79.4h0M120.7 72.2h0M135.3 85.2h0M108.1 61.4h0M132.8 82.2h0M143.9 90.5h0M106.0 59.3h0M111.2 64.7h0M144.6 92.0h0M139.6 88.1h0M144.8 92.4h0M109.9 63.9h0M114.0 63.2h0M138.1 86.9h0M142.4 89.2h0M145.2 93.8h0M132.2 78.8h0M137.6 85.3h0M106.9 59.1h0M146.6 93.0h0M123.0 74.0h0M135.3 83.1h0M117.1 67.2h0M126.7 76.8h0M132.1 79.4h0M142.4 91.5h0M125.4 73.1h0M122.6 73.5h0M113.9 64.0h0M133.9 83.4h0M140.8 88.4h0M136.2 83.4h0M102.4 57.0h0M112.0 64.9h0M116.8 66.1h0M141.8 87.8h0M147.8 94.0h0M102.0 55.5h0M106.1 58.2h0M125.1 74.6h0M109.5 63.6h0M107.4 58.6h0M114.1 62.8h0M143.2 89.6h0M100.8 55.5h0M117.8 65.8h0M123.9 71.9h0M103.6 57.3h0M112.2 63.0h0M124.4 75.7h0M130.1 79.2h0M115.5 65.7h0M113.3 65.7h0M145.6 94.1h0M120.8 71.2h0M115.0 66.7h0M146.7 92.5h0M103.9 59.2h0M128.3 78.4h0M141.3 90.5h0M105.3 57.6h0M118.6 69.7h0M136.1 83.3h0M106.8 60.7h0M143.3 89.2h0M117.3 65.5h0M122.2 69.6h0M120.0 68.1h0M102.8 58.2h0M107.5 61.8h0M135.8 83.5h0M119.4 68.3h0M114.0 65.1h0M106.6 59.8h0M125.0 73.0h0M147.0 93.2h0M130.9 80.6h0M136.3 84.9h0M123.1 72.2h0M136.6 83.1h0M127.8 78.3h0M122.7 72.0h0M133.9 83.5h0M116.7 67.1h0M139.9 88.4h0M110.3 64.2h0M117.5 67.9h0M102.4 56.9h0M127.4 78.2h0M112.0 61.5h0M117.0 66.6h0M133.9 81.5h0M137.6 87.2h0M101.6 57.3h0M103.2 56.2h0M104.0 58.6h0M146.6 92.9h0M128.1 79.1h0M138.0 85.1h0M123.0 74.1h0M142.6 90.4h0M129.2 76.3h0M120.1 70.8h0M102.0 55.1h0M128.5 75.4h0M108.8 62.1h0M109.3 61.5h0M145.7 93.1h0M134.4 81.0h0M126.2 75.5h0M124.2 73.4h0M103.2 57.3h0M117.9 68.4h0M112.8 65.6h0M123.0 73.8h0M126.1 74.4h0M122.1 70.6h0M126.5 75.0h0M113.2 66.3h0M147.7 94.6h0M127.9 78.2h0M131.3 79.7h0M124.9 75.4h0M103.2 56.7h0M104.0 57.8h0M101.2 55.2h0M106.5 58.8h0M147.8 93.7h0M119.0 69.8h0M110.6 61.4h0M121.2 71.1h0M110.6 61.5h0M102.8 55.9h0M119.8 69.7h0M115.1 65.6h0M138.7 85.9h0M135.3 84.7h0M145.2 93.5h0M131.4 80.6h0M119.3 70.5h0M109.7 61.3h0M106.2 59.3h0M144.1 92.2h0M100.8 56.3h0M102.8 55.7h0M124.4 71.7h0M138.8 87.7h0M147.3 94.7h0M121.8 70.0h0M116.3 66.9h0M140.9 87.7h0M126.1 75.9h0M111.7 64.0h0M114.3 64.4h0M110.3 64.0h0M102.0 55.4h0M130.3 79.2h0M111.3 63.0h0M123.6 73.1h0M122.5 70.5h0M134.6 82.3h0M139.8 87.1h0M142.5 89.3h0M131.9 82.5h0M115.4 67.0h0M127.7 74.7h0M129.3 77.7h0M103.2 57.9h0M134.1 84.4h0M106.5 58.9h0M128.7 77.0h0M106.3 58.8h0M121.8 71.2h0M122.4 71.5h0M125.0 75.0h0M112.6 63.7h0M141.3 90.3h0M138.3 88.1h0M124.1 74.9h0M139.0 86.5h0M137.6 85.8h0M128.4 75.9h0M136.4 84.0h0M121.8 71.3h0M137.1 87.3h0M142.5 91.0h0M115.1 65.7h0M131.0 79.1h0M144.7 91.4h0M125.9 77.1h0M110.8 62.3h0M144.7 93.8h0M122.3 72.5h0M128.8 76.0h0M144.8 93.6h0M145.1 91.4h0M127.0 77.5h0M142.0 91.3h0M102.4 56.9h0M118.1 66.2h0M125.5 72.9h0M115.5 65.6h0M120.5 69.2h0M124.4 73.7h0M107.7 59.4h0M117.4 65.2h0M125.9 76.8h0M112.4 65.2h0M118.9 68.3h0M138.4 86.3h0M124.8 75.8h0M103.2 56.8h0M115.5 65.8h0M127.2 77.1h0M114.9 67.2h0M146.4 94.5h0M130.0 80.1h0M102.4 56.7h0M122.7 71.3h0M133.8 81.8h0M144.0 90.1h0M113.4 64.3h0M107.0 58.4h0M133.5 81.0h0M106.5 60.2h0M141.8 90.1h0M131.0 78.8h0M144.4 93.0h0M139.6 87.8h0M111.8 63.1h0M119.5 69.6h0M107.3 58.9h0M127.7 75.2h0M108.0 60.8h0M122.3 73.0h0M148.1 95.1h0M131.9 80.2h0M130.1 78.4h0M142.6 90.5h0M112.5 63.4h0M141.8 87.8h0M148.8 96.3h0M125.3 73.6h0M112.9 63.4h0M135.7 84.6h0M125.0 73.8h0M121.4 69.4h0M119.1 69.4h0M100.8 56.5h0M100.8 55.0h0M115.1 65.7h0M113.4 64.8h0M102.0 57.3h0M144.8 93.6h0M134.7 81.6h0M130.9 80.0h0M139.3 87.2h0M138.7 86.0h0M101.2 54.4h0" stroke="#f01c1c" stroke-width="1.30" stroke-linecap="round" fill="none" opacity="1"/>
<path d="M149.0 94.6h0M106.9 58.1h0M146.8 94.9h0M122.2 69.2h0M139.6 85.1h0M136.9 84.5h0M118.6 65.5h0M132.3 82.4h0M122.6 73.5h0M109.3 60.5h0M121.8 69.4h0M148.5 95.0h0M100.0 54.7h0M107.6 59.3h0M140.1 87.1h0M113.3 65.7h0M113.2 66.0h0M101.6 53.8h0M148.9 95.7h0M127.4 77.6h0M114.9 66.9h0M114.1 66.3h0M124.8 75.7h0M147.2 95.1h0M107.3 59.6h0M144.6 91.6h0M110.5 62.0h0M106.6 57.4h0M129.6 75.9h0M120.6 68.9h0M139.4 86.5h0M122.1 71.9h0M108.5 60.5h0M109.7 61.1h0M139.4 89.2h0M146.4 94.5h0M102.0 55.5h0M118.8 67.4h0M123.1 73.1h0M100.0 54.6h0M102.8 57.3h0M145.7 93.4h0M137.9 88.0h0M145.1 91.3h0M130.4 78.8h0M125.9 74.5h0M100.8 54.2h0M101.2 56.6h0M138.8 84.6h0M131.6 81.8h0M131.2 80.4h0M124.2 72.7h0M117.4 64.9h0M116.0 64.5h0M121.7 70.2h0M115.7 68.0h0M111.8 62.5h0M140.5 87.6h0M102.4 56.3h0M117.4 68.3h0M117.2 66.0h0M125.4 75.0h0M106.6 57.4h0M137.7 84.4h0M145.6 93.9h0M126.9 73.8h0M113.6 62.0h0M129.0 77.9h0M135.8 83.2h0M144.0 92.9h0M134.1 82.3h0M145.3 92.4h0M100.0 55.7h0M104.4 57.1h0M118.6 69.6h0M129.8 78.6h0M148.4 96.4h0M131.9 80.0h0M111.6 64.6h0M134.5 84.6h0M120.4 71.7h0M103.6 56.2h0M146.0 94.1h0M108.9 60.3h0M111.3 63.2h0M134.0 82.7h0M120.7 67.8h0M117.0 68.6h0M136.2 84.7h0M129.3 77.4h0M100.8 53.8h0M116.1 63.7h0M118.3 66.7h0M120.9 69.7h0M138.3 86.3h0M143.7 91.4h0M116.8 66.2h0M134.0 80.5h0M134.5 84.8h0M135.8 84.7h0M141.1 86.5h0M127.8 76.0h0M109.3 60.8h0M102.0 56.5h0M104.9 57.4h0M104.3 59.5h0M111.7 63.2h0M100.8 54.1h0M121.1 68.0h0M142.9 91.1h0M101.6 55.3h0M106.1 58.5h0M138.1 84.6h0M140.8 88.4h0M130.7 81.5h0M108.8 61.9h0M145.0 92.1h0M111.6 64.1h0M123.3 70.2h0M144.4 90.1h0" stroke="#111" stroke-width="1.20" stroke-linecap="round" fill="none" opacity="1"/>
<path d="M136.9 82.1h0M123.0 70.4h0M114.0 63.0h0M148.6 92.8h0M130.2 78.5h0M107.3 59.4h0M144.9 90.8h0M102.0 53.6h0M111.7 61.3h0M110.2 61.7h0M147.9 91.5h0M140.3 86.0h0M126.0 73.0h0M118.5 66.0h0M129.4 75.6h0M111.9 60.9h0M109.4 60.1h0M127.4 75.2h0M131.7 78.8h0M111.9 61.1h0M105.3 57.6h0M144.9 90.9h0M125.5 72.0h0M127.0 74.9h0M125.1 72.5h0M104.0 54.9h0M127.6 75.9h0M114.6 63.2h0M117.0 63.5h0M114.9 64.1h0M119.2 66.5h0M126.3 73.7h0M130.6 78.0h0M143.3 89.6h0M128.0 76.3h0M122.5 69.9h0M104.1 56.2h0M129.1 77.4h0M103.3 54.4h0M137.4 84.6h0M133.6 79.1h0M145.4 90.9h0M141.3 88.4h0M132.9 79.4h0M132.9 78.1h0M136.9 84.6h0M130.4 77.6h0M136.7 83.5h0M106.9 59.0h0M139.1 84.3h0M127.7 73.4h0M112.7 61.5h0M124.8 72.9h0M146.1 92.2h0M116.5 63.9h0M104.9 56.6h0M119.6 67.3h0M121.4 69.3h0M137.5 83.5h0M124.8 72.6h0M110.2 60.6h0M105.3 56.1h0M122.5 69.8h0M119.9 68.6h0M113.9 63.8h0M135.9 81.2h0M114.5 63.9h0M128.4 75.7h0M142.5 87.2h0M108.9 61.0h0M116.0 64.6h0M114.8 62.1h0M140.0 86.9h0M115.3 62.3h0M138.0 83.4h0M137.6 83.0h0M148.7 92.3h0M117.3 64.1h0M131.0 78.6h0M106.3 57.6h0M145.8 90.8h0M135.5 82.6h0M115.1 64.9h0M139.4 85.3h0M110.7 59.2h0M142.3 88.4h0M126.2 73.0h0M100.4 52.2h0M103.2 56.4h0M145.8 90.9h0M131.0 78.0h0M147.5 94.0h0M106.5 59.0h0M130.7 76.9h0M138.9 83.4h0M139.8 87.2h0M104.1 55.1h0M148.0 94.2h0M130.6 78.9h0M104.1 55.5h0M141.8 86.2h0M117.3 63.8h0M129.1 77.6h0M124.7 73.0h0M103.3 55.0h0M147.2 93.7h0M112.8 60.8h0M113.9 64.2h0M106.1 56.5h0M116.3 64.2h0M138.6 84.8h0M139.0 85.0h0M140.5 86.0h0M130.2 76.5h0M121.1 67.4h0M142.1 87.5h0M146.1 91.9h0M105.3 57.9h0M141.5 87.8h0M113.6 63.7h0M114.7 64.7h0M143.2 87.6h0M117.6 67.0h0M139.5 84.7h0M121.4 70.1h0M100.4 52.1h0M135.1 81.1h0M132.1 78.5h0M125.1 72.8h0M136.6 81.5h0M129.1 77.6h0M147.1 90.9h0M126.5 72.6h0M148.6 92.7h0M144.3 89.5h0M145.2 89.3h0M126.3 73.7h0M121.1 67.8h0M140.6 85.3h0M141.0 88.3h0M140.4 86.9h0M121.0 68.3h0M112.8 61.2h0M126.6 72.1h0M100.0 53.4h0M147.3 93.0h0M104.1 54.6h0M102.8 55.2h0M137.2 83.2h0M102.4 56.0h0M138.5 83.5h0M142.1 89.4h0M115.4 64.0h0M100.0 52.4h0M110.2 61.6h0M136.2 81.6h0M136.6 81.6h0M103.3 54.9h0M140.2 87.7h0M115.7 63.2h0" stroke="#111" stroke-width="1.20" stroke-linecap="round" fill="none" opacity="1"/>
<path d="M131.6 75.6h0M127.6 73.7h0M111.9 59.2h0M147.6 91.8h0M133.0 77.5h0M100.0 50.8h0M117.9 64.6h0M120.7 65.3h0M138.1 83.6h0M105.6 55.4h0M105.7 55.5h0M113.4 60.3h0M128.9 75.0h0M113.5 61.1h0M119.1 65.0h0M114.8 61.5h0M103.5 52.8h0M107.3 57.3h0M137.3 81.2h0M126.6 72.7h0M144.0 87.5h0M123.6 70.1h0M121.1 66.6h0M124.5 70.3h0M121.6 67.7h0M145.3 88.8h0M134.7 79.0h0M108.0 56.6h0M144.3 88.1h0M114.2 60.5h0M143.4 88.2h0M113.5 61.1h0M144.1 88.1h0M102.4 53.3h0M106.1 55.7h0M136.3 81.0h0M104.8 54.5h0M117.1 62.9h0M107.2 56.0h0M137.4 81.1h0M126.2 71.6h0M128.8 74.6h0M138.4 82.4h0M105.6 55.5h0M105.0 54.2h0M124.9 71.2h0M141.4 85.5h0M113.2 60.9h0M137.3 81.3h0M131.6 77.0h0M121.8 66.7h0M116.0 62.6h0M137.7 83.4h0M115.7 62.9h0M107.4 56.7h0M124.9 70.2h0M108.8 57.0h0M109.3 57.3h0M112.1 59.1h0M142.8 87.0h0M118.2 64.3h0M142.1 85.7h0M124.1 69.3h0M146.1 90.0h0M119.3 64.6h0M143.2 87.5h0M117.0 62.9h0M130.6 76.4h0M125.9 71.3h0M136.6 81.3h0M138.8 82.1h0M108.1 57.1h0M111.7 60.5h0M120.5 66.1h0M101.6 52.3h0M138.1 82.5h0M105.7 55.6h0M138.3 82.1h0M141.2 85.4h0M105.1 54.2h0M146.9 90.1h0M137.1 82.1h0M114.0 60.8h0M124.6 70.3h0M107.2 56.8h0M125.3 70.0h0M132.1 77.6h0M131.8 77.0h0M126.9 71.9h0M100.0 51.5h0" stroke="#111" stroke-width="1.20" stroke-linecap="round" fill="none" opacity="1"/>
<path d="M30.9 8.0 L68.5 30.7 L94.9 47.7" fill="none" stroke="#111" stroke-width="1.6" stroke-linejoin="round" stroke-linecap="round" opacity="1"/>
<path d="M143.8 92.0 L144.8 95.0 L147.2 99.8 L149.7 102.2 L152.1 105.9 L154.6 105.2 L158.2 105.9 L160.4 109.6 L162.9 114.3 L164.7 119.2 L165.7 122.8 L163.8 125.2 L140.1 127.0 L119.9 129.8 L94.9 133.0 L60.1 133.8 L30.9 133.8" fill="none" stroke="#111" stroke-width="1.7" stroke-linejoin="round" stroke-linecap="round" opacity="1"/>
<path d="M144.8 94.0h0M155.3 104.7h0M163.0 114.4h0M157.0 105.4h0M148.2 101.1h0M162.6 111.6h0M158.0 105.4h0M145.2 94.8h0M160.6 111.5h0M147.4 99.8h0M161.9 112.1h0M154.1 105.1h0M151.9 104.6h0M156.8 105.9h0M150.5 103.0h0M163.2 112.9h0M158.9 107.3h0M152.9 105.9h0M161.4 112.6h0M149.4 101.5h0M151.0 103.5h0M157.0 106.1h0M150.5 104.6h0M162.8 112.8h0M154.8 105.4h0M152.4 104.8h0M144.4 94.6h0M153.8 104.8h0M146.9 98.0h0M158.8 106.9h0M154.3 105.8h0M158.2 106.1h0M161.1 109.7h0M160.5 109.7h0M147.3 100.5h0M156.3 105.2h0M153.8 105.2h0M150.6 101.7h0M155.3 104.6h0M151.2 103.1h0M160.9 111.5h0M160.8 111.3h0M160.3 108.6h0M145.5 94.8h0M145.0 95.4h0M155.2 105.0h0M162.3 113.2h0M145.3 96.9h0M146.3 96.4h0M148.7 100.4h0M146.4 99.5h0M159.1 106.5h0M146.9 100.1h0M156.6 105.9h0M144.8 95.1h0M160.9 110.5h0M147.0 100.1h0M160.5 109.4h0M144.6 93.3h0M147.8 100.8h0" stroke="#111" stroke-width="1.20" stroke-linecap="round" fill="none" opacity="1"/>
<path d="M165.1 122.0 L162.7 124.3 L140.1 126.6 L119.9 129.3" fill="none" stroke="#111" stroke-width="1.8" stroke-linejoin="round" stroke-linecap="round" opacity="1"/>
<path d="M165.4 122.6h0M162.1 120.3h0M163.6 121.6h0M164.0 122.7h0M164.9 121.5h0M163.9 123.5h0M163.1 120.3h0M162.4 120.1h0M162.6 120.2h0M163.3 120.5h0M164.4 120.5h0M164.7 123.7h0M163.9 122.8h0M164.1 124.1h0M163.7 121.6h0M164.3 123.0h0M163.3 123.4h0M164.6 123.6h0M163.5 124.2h0M164.2 121.7h0M164.7 123.3h0M164.9 122.5h0M163.4 125.5h0M163.9 120.6h0M165.1 123.3h0" stroke="#111" stroke-width="1.60" stroke-linecap="round" fill="none" opacity="1"/>
<path d="M213.4 132.1 L215.8 131.2 L219.5 130.4 L223.2 131.8 L237.8 132.9 L250.0 132.7" fill="none" stroke="#f8962a" stroke-width="1.6" stroke-linejoin="round" stroke-linecap="round" opacity="1"/>
<path d="M250.0 132.7 L262.7 131.5 L275.6 129.5 L290.0 126.4 L299.0 123.0 L308.3 118.4 L317.3 110.4 L324.1 101.9 L333.1 88.8 L348.3 69.4 L357.3 58.1 L361.4 50.6" fill="none" stroke="#f8962a" stroke-width="2.0" stroke-linejoin="round" stroke-linecap="round" opacity="1"/>
<path d="M301.5 119.8h0M329.3 88.3h0M309.0 117.3h0M298.3 120.9h0M284.2 124.4h0M349.7 66.1h0M319.8 103.8h0M353.7 57.5h0M311.8 112.5h0M301.0 119.2h0M284.6 124.0h0M343.3 70.2h0M267.4 129.9h0M302.8 118.6h0M292.7 124.3h0M294.8 122.4h0M358.4 54.6h0M305.6 117.8h0M330.7 86.3h0M350.0 61.2h0M338.5 80.1h0M285.8 126.4h0M340.3 75.3h0M351.0 60.6h0M285.0 126.5h0M351.5 63.4h0M342.8 72.3h0M358.6 49.5h0M348.0 65.6h0M265.8 129.5h0M294.4 123.5h0M270.1 129.7h0M269.3 129.2h0M346.8 67.3h0M272.6 127.7h0M268.2 128.7h0M359.4 53.0h0M347.0 65.7h0M306.5 118.2h0M305.1 118.8h0M347.7 65.9h0M313.3 111.9h0M293.9 123.4h0M319.8 102.8h0M338.9 76.9h0M330.0 89.4h0M331.0 91.8h0M272.1 127.8h0M352.8 60.0h0M341.5 76.2h0M323.1 97.8h0M264.9 130.0h0M265.6 130.9h0M308.3 116.2h0M342.8 72.9h0M316.7 108.9h0M335.7 83.2h0M329.9 90.9h0M264.2 129.5h0M299.2 120.0h0M343.6 71.8h0M340.7 78.7h0M310.6 114.6h0M352.9 59.0h0M350.0 61.1h0M335.5 85.5h0M271.7 128.3h0M344.3 70.4h0M275.0 127.4h0M338.2 80.9h0M271.6 129.4h0M360.4 47.0h0M308.7 116.5h0M290.5 122.6h0M278.8 126.2h0M344.2 68.8h0M358.7 53.7h0M291.0 123.4h0M293.0 124.0h0M321.0 104.2h0M332.3 88.5h0M354.9 55.1h0M329.3 93.4h0M330.3 89.9h0M327.4 92.9h0M340.9 77.0h0M318.6 106.7h0M282.4 127.3h0M342.2 72.9h0M290.8 124.5h0M293.6 124.4h0M267.1 128.5h0M308.3 117.7h0M348.3 64.6h0M329.2 92.8h0M359.4 53.1h0M295.5 123.4h0M313.5 111.3h0M328.0 94.6h0M342.9 75.7h0M346.5 70.1h0M347.8 69.3h0M269.4 129.7h0M358.5 55.0h0M279.8 125.9h0M353.9 59.1h0M329.3 94.0h0M339.4 75.2h0M348.5 63.7h0M350.6 64.5h0M358.7 52.8h0M357.3 52.7h0M266.1 130.9h0M324.8 98.4h0M287.7 125.0h0M284.4 127.0h0M353.7 56.7h0M311.4 113.1h0M327.0 94.3h0M330.8 87.9h0M352.9 59.2h0M306.1 116.3h0M334.9 81.9h0M285.4 127.2h0M308.7 117.1h0M346.0 65.6h0M293.6 124.6h0M301.9 118.0h0M328.4 94.8h0M312.5 112.2h0M300.6 121.0h0M327.3 96.8h0M316.9 109.2h0M345.8 69.9h0M276.4 127.2h0M330.1 92.6h0M318.9 103.9h0M352.3 60.6h0M315.6 108.7h0M355.6 55.1h0M347.1 68.0h0M296.2 122.4h0M297.4 123.5h0M359.2 52.5h0M311.2 113.4h0M330.7 91.7h0M315.1 111.8h0M352.1 57.6h0M337.2 81.8h0M358.8 48.2h0M300.1 121.5h0M356.7 52.9h0M344.0 68.9h0M349.4 64.2h0M289.5 123.0h0M351.3 64.9h0M325.7 95.6h0M354.0 57.2h0M291.6 124.8h0M327.3 96.5h0M309.1 115.0h0M297.3 120.5h0M360.7 46.9h0M337.7 78.5h0M274.2 128.2h0M343.4 71.4h0M341.7 77.0h0M282.2 124.8h0M316.2 109.9h0M276.4 127.2h0M266.1 130.8h0M344.0 70.7h0M330.5 88.8h0M268.5 130.0h0M349.1 67.6h0M291.4 122.7h0M326.7 97.3h0M360.4 49.4h0M329.8 91.8h0M335.3 82.9h0M321.9 102.9h0M318.0 105.4h0M360.9 50.4h0M318.9 108.3h0M318.4 106.1h0M312.9 111.4h0M303.8 118.0h0M284.2 124.5h0M344.8 67.5h0M318.9 104.0h0M275.0 127.7h0M348.4 68.0h0M338.1 80.2h0M290.5 123.5h0M339.4 77.1h0M325.4 98.3h0M353.0 56.3h0M301.9 118.6h0M278.9 127.0h0M307.8 117.5h0M307.8 117.9h0M343.8 70.7h0M269.9 129.3h0M316.4 108.6h0M350.1 62.4h0M298.3 123.0h0M339.3 77.9h0M340.8 78.8h0M268.1 130.4h0M275.9 126.9h0M314.9 111.1h0M340.9 76.6h0M310.5 116.3h0M328.1 95.0h0M335.1 85.2h0M330.0 91.4h0M270.6 129.0h0M314.8 110.5h0M265.7 129.2h0M296.6 120.9h0M334.8 85.3h0M307.5 115.3h0M318.1 106.2h0M330.3 90.4h0M276.4 126.3h0M357.5 54.2h0M318.3 104.9h0M311.8 111.7h0M339.2 76.5h0M287.3 126.1h0M351.9 61.4h0M337.9 77.4h0M325.5 96.2h0M275.5 127.8h0M275.6 129.2h0M332.2 85.8h0M348.6 64.2h0M267.6 130.7h0M323.9 96.4h0M357.0 53.1h0M342.3 76.5h0M359.9 51.8h0M356.2 56.2h0M349.7 63.5h0M355.4 53.3h0M279.3 126.1h0M337.9 80.0h0M292.5 124.1h0M327.9 95.6h0M307.9 117.0h0M326.0 97.1h0M331.9 90.1h0M267.9 129.8h0M262.4 130.5h0M299.2 121.1h0M347.0 66.1h0M285.1 124.1h0M325.2 96.4h0M309.4 116.8h0M345.1 67.2h0M360.9 45.0h0M358.3 50.1h0M358.7 52.8h0M344.9 68.0h0M311.2 113.5h0M324.4 98.0h0M313.2 113.3h0M349.4 62.0h0M360.9 49.1h0M330.2 87.6h0M298.0 121.2h0M355.2 56.6h0M349.0 65.9h0M341.8 71.5h0M312.5 111.5h0M356.3 58.0h0M341.9 75.6h0M344.0 70.8h0M311.7 114.6h0M318.0 107.2h0M359.1 48.8h0M330.4 90.9h0M339.9 76.5h0M311.0 112.9h0M272.1 129.6h0M360.9 50.0h0M349.1 62.5h0M268.6 130.4h0M341.1 75.5h0M338.2 81.2h0M273.5 128.3h0M277.0 128.8h0M326.8 95.4h0M310.6 113.4h0M357.7 56.7h0M281.7 124.9h0M358.1 54.0h0M310.6 113.9h0M323.5 98.8h0M290.6 124.2h0M304.7 119.8h0M323.3 100.3h0M339.3 78.1h0M263.1 131.2h0M292.1 124.4h0M281.9 127.7h0M349.1 61.7h0M331.8 89.5h0M281.3 126.2h0M354.4 61.2h0M336.5 81.2h0M339.6 76.9h0M289.0 123.4h0M299.2 121.2h0M343.4 71.3h0M356.0 59.3h0M341.6 75.1h0M273.0 128.9h0M341.7 77.8h0M344.7 69.7h0" stroke="#f8962a" stroke-width="1.44" stroke-linecap="round" fill="none" opacity="1"/>
<path d="M362.8 41.3h0M359.8 48.6h0M358.0 54.5h0M360.9 49.2h0M361.9 42.9h0M357.1 56.0h0M358.0 56.9h0M363.3 40.4h0M357.5 54.4h0M358.1 56.4h0M362.8 41.8h0M359.2 53.5h0M362.2 41.2h0M361.7 43.3h0M358.6 54.4h0M362.0 43.4h0M359.9 51.0h0M358.7 53.8h0M357.1 56.2h0M361.3 44.5h0M362.0 42.6h0M362.9 39.0h0M359.3 54.3h0M362.0 41.3h0M360.6 47.6h0" stroke="#f8962a" stroke-width="1.44" stroke-linecap="round" fill="none" opacity="1"/>
<path d="M363.5 35.9h0" stroke="#f8962a" stroke-width="1.44" stroke-linecap="round" fill="none" opacity="1"/>
<path d="M363.9 31.8h0" stroke="#f8962a" stroke-width="1.44" stroke-linecap="round" fill="none" opacity="1"/>
<path d="M362.6 28.0h0" stroke="#f8962a" stroke-width="1.44" stroke-linecap="round" fill="none" opacity="1"/>
<path d="M363.3 23.9h0" stroke="#f8962a" stroke-width="1.44" stroke-linecap="round" fill="none" opacity="1"/>
<path d="M362.9 18.7h0" stroke="#f8962a" stroke-width="1.44" stroke-linecap="round" fill="none" opacity="1"/>
<path d="M360.9 38.2h0" stroke="#f8962a" stroke-width="1.44" stroke-linecap="round" fill="none" opacity="1"/>
<path d="M213.6 130.0 L214.6 127.2 L215.4 123.6 L216.8 118.1 L219.5 114.4 L223.2 110.9 L227.8 107.3 L233.2 104.0 L238.5 101.9 L239.5 100.2" fill="none" stroke="#1e96ee" stroke-width="2.3" stroke-linejoin="round" stroke-linecap="round" opacity="1"/>
<path d="M252.7 69.0h0M244.0 90.7h0M235.9 99.8h0M237.4 98.1h0M259.7 51.2h0M250.5 70.4h0M248.9 79.3h0M252.8 66.7h0M253.8 64.3h0M258.2 47.1h0M253.6 58.0h0M260.2 48.9h0M257.5 48.5h0M253.9 60.9h0M250.1 75.6h0M250.2 78.4h0M239.9 95.9h0M244.2 92.9h0M253.5 66.7h0M249.0 74.2h0M237.7 99.8h0M247.1 80.3h0M252.8 63.3h0M242.2 89.7h0M258.3 56.0h0M242.2 91.2h0M243.0 90.7h0M253.1 70.4h0M242.6 90.7h0M256.9 49.4h0M261.0 48.5h0M254.9 55.5h0M252.6 70.4h0M249.3 72.7h0M254.5 65.2h0M252.6 63.3h0M239.1 96.8h0M254.8 60.4h0M259.6 44.7h0M254.9 53.6h0M242.3 88.8h0M256.7 60.9h0M246.1 81.2h0M240.1 94.6h0M245.3 81.7h0M251.9 68.1h0M240.8 96.8h0M248.2 77.0h0M256.9 51.2h0M254.8 55.1h0M257.8 47.1h0M259.9 51.2h0M247.4 81.2h0M255.0 64.7h0M246.5 85.0h0M246.6 77.0h0M256.1 62.3h0M248.8 75.6h0M253.4 70.4h0M254.8 65.2h0M253.7 57.0h0M255.8 64.3h0M252.3 64.7h0M254.2 68.5h0M247.3 77.9h0M260.8 46.6h0M246.8 80.7h0M237.9 97.2h0M258.0 53.6h0M256.4 62.3h0M248.9 81.7h0M252.7 60.4h0M251.1 73.7h0M250.3 70.9h0M259.8 46.1h0M247.3 81.2h0M245.5 83.6h0M252.1 62.3h0M241.0 92.9h0M246.0 83.6h0M242.7 95.1h0M238.7 95.9h0M254.3 59.9h0M245.3 86.9h0M236.9 99.8h0M252.1 73.7h0M249.5 77.4h0M251.5 65.2h0M254.2 66.7h0M259.3 48.5h0M251.6 71.3h0M259.0 51.7h0M260.1 50.8h0M249.8 78.8h0M255.3 65.2h0M255.0 62.3h0M255.3 58.4h0M256.8 60.4h0M243.8 91.2h0M253.6 66.7h0M255.8 55.1h0M238.8 97.2h0M260.3 48.0h0M260.1 46.6h0M258.6 48.0h0M253.0 69.0h0M245.7 80.7h0M242.8 92.5h0M245.2 85.0h0M259.3 50.8h0M239.9 97.2h0M249.5 72.3h0M242.5 89.3h0M257.7 57.0h0M250.3 77.0h0M244.6 82.6h0M256.7 52.6h0M246.8 80.7h0M258.9 45.2h0M240.9 95.5h0M254.0 56.0h0M252.4 72.7h0M248.6 73.7h0M247.8 82.6h0M248.4 77.9h0M246.8 86.4h0M252.6 69.9h0M245.8 85.5h0M238.4 99.8h0M249.2 73.2h0" stroke="#1e96ee" stroke-width="1.44" stroke-linecap="round" fill="none" opacity="1"/>
<path d="M270.4 43.5h0M309.2 52.6h0M310.9 54.0h0M287.0 38.8h0M298.3 42.7h0M303.8 47.3h0M320.3 69.8h0M314.2 51.0h0M283.0 38.4h0M269.9 42.4h0M310.2 49.5h0M296.0 41.9h0M285.1 44.7h0M287.0 38.9h0M304.2 47.9h0M262.2 43.7h0M317.9 54.4h0M283.8 42.1h0M303.4 50.8h0M278.4 40.5h0M271.3 46.1h0M286.2 44.2h0M301.0 41.3h0M320.7 62.8h0M260.0 47.4h0M278.6 37.5h0M267.1 43.9h0M312.0 50.4h0M293.8 41.3h0M321.0 62.9h0M264.4 45.1h0M319.0 61.8h0M320.8 71.7h0M283.9 38.1h0M305.0 43.1h0M293.6 39.5h0M318.6 53.6h0M317.2 57.9h0M266.2 42.6h0M262.1 42.2h0M262.9 42.9h0M268.7 42.5h0M317.1 55.3h0M320.8 70.5h0M320.7 63.9h0M312.7 53.8h0M320.9 71.7h0M286.5 45.6h0M296.2 47.9h0M261.5 44.6h0M310.0 53.5h0M313.2 50.2h0M293.2 44.6h0M266.7 41.5h0M322.1 70.9h0M314.7 49.0h0M275.2 38.4h0M289.6 41.0h0M258.6 48.2h0M285.7 39.6h0M267.0 40.2h0M282.9 40.2h0M263.8 43.9h0M267.6 44.0h0M274.8 42.5h0M312.0 48.1h0M319.3 62.0h0M282.4 39.6h0M290.8 47.3h0M317.7 52.4h0M318.6 58.6h0M318.8 55.4h0M282.7 44.1h0M319.1 60.9h0M297.6 41.3h0M286.3 42.1h0M291.5 43.2h0M308.2 52.6h0M309.9 52.3h0M267.0 43.0h0M285.7 39.0h0M280.2 43.8h0M321.7 71.2h0M263.6 43.5h0M268.8 42.0h0M265.4 43.5h0M279.6 39.3h0M273.4 40.0h0M314.4 54.8h0M273.7 38.8h0M301.7 44.0h0M267.2 44.4h0M305.9 46.7h0M320.5 64.8h0M304.5 47.8h0M315.7 56.6h0M270.5 42.6h0M309.8 52.5h0M319.0 55.1h0M268.9 44.8h0M281.7 43.8h0M297.8 44.8h0M284.8 37.8h0M290.2 44.2h0M270.9 40.4h0M300.9 46.7h0M306.1 44.5h0M317.4 54.8h0M322.1 69.4h0M261.4 45.9h0M321.2 65.1h0M290.7 44.3h0M304.4 48.9h0M320.6 71.3h0M256.9 45.0h0M299.0 43.1h0M270.5 42.6h0M284.6 44.9h0M320.7 71.2h0M287.6 45.1h0M296.7 38.6h0M311.4 52.8h0M271.9 43.4h0M316.7 52.5h0M285.2 44.1h0M321.4 65.5h0M296.5 41.8h0M318.1 60.1h0M278.4 41.3h0M287.6 41.6h0M317.9 53.0h0M274.4 43.5h0M296.7 43.3h0M275.3 40.4h0M295.7 48.1h0M318.9 61.8h0M299.1 47.0h0M302.3 50.9h0M316.0 56.1h0M315.5 53.7h0M291.1 42.8h0M319.6 65.1h0M270.7 45.5h0M266.0 42.2h0M259.6 42.6h0M292.0 46.2h0M272.8 39.3h0M316.5 56.3h0M320.4 67.9h0M278.1 39.1h0M281.3 42.6h0M320.2 62.8h0M320.9 71.1h0M282.8 42.4h0M286.1 44.8h0M307.6 50.1h0M302.4 45.1h0M304.4 51.1h0M273.0 43.8h0M310.4 50.3h0M286.8 41.5h0M280.2 44.2h0M266.4 40.2h0M309.0 52.1h0M260.9 43.3h0M318.8 63.3h0M309.5 49.3h0M293.5 46.6h0M321.2 69.3h0M309.4 52.2h0M318.5 57.3h0M261.8 46.5h0M290.6 44.7h0M307.1 44.7h0M259.8 45.1h0M320.5 65.4h0M318.8 57.4h0M299.7 48.6h0M280.2 40.0h0M321.2 64.7h0M268.8 42.0h0M282.3 42.0h0M288.7 44.1h0M273.0 44.1h0M320.8 63.8h0M295.6 48.7h0M260.6 42.4h0M280.7 40.2h0M290.3 39.6h0M280.6 37.0h0M287.3 41.2h0M289.3 43.8h0M258.5 47.2h0M305.4 43.4h0M294.6 48.4h0M320.2 68.2h0M272.1 44.7h0M299.0 47.4h0M307.7 51.2h0M294.0 40.3h0M319.1 55.6h0M280.7 43.4h0M282.4 40.2h0M320.4 68.0h0M304.9 49.7h0M281.9 41.6h0M319.6 58.3h0M287.0 42.5h0M272.7 45.5h0M319.8 57.9h0M292.5 43.4h0M259.3 47.2h0M289.6 41.2h0M281.6 37.8h0M302.7 51.4h0M293.7 39.4h0M318.4 60.4h0M291.7 44.9h0M274.1 44.3h0M322.2 70.4h0M289.0 42.0h0M265.4 40.1h0M285.3 37.9h0M302.4 43.2h0M296.5 48.9h0M317.7 53.4h0M262.0 44.5h0M257.9 46.3h0M265.2 43.5h0M293.9 43.6h0M313.2 50.2h0M285.1 40.3h0M263.6 41.0h0M275.9 40.9h0M259.8 47.1h0M316.8 57.7h0M320.0 58.4h0M310.8 53.1h0M319.3 63.4h0M320.3 65.0h0M284.1 40.4h0M308.2 49.9h0M313.4 47.7h0M284.3 43.3h0M309.0 48.5h0M297.2 40.4h0M310.6 52.3h0M277.3 39.8h0M289.1 45.0h0M260.0 47.4h0M320.8 70.5h0M306.5 47.2h0M319.8 57.9h0M265.5 43.7h0M276.8 39.3h0M263.7 44.9h0M318.9 59.8h0M260.8 45.8h0M313.8 50.8h0M270.0 41.1h0M278.2 38.4h0M320.5 67.9h0M296.0 41.7h0M265.8 43.2h0M284.7 43.2h0M267.8 42.2h0M298.3 45.9h0M281.6 39.0h0M317.1 56.2h0M300.4 45.9h0M276.8 45.2h0M263.1 43.4h0M259.6 42.6h0M315.9 54.1h0M285.7 44.1h0M258.8 45.0h0M320.6 69.5h0M296.0 46.5h0M321.0 65.5h0M264.3 45.1h0M297.6 48.8h0M309.2 47.2h0M259.2 46.0h0M292.9 42.1h0M311.1 49.2h0M318.9 55.1h0M258.5 45.4h0M270.6 45.4h0M305.6 52.1h0M280.2 43.6h0M320.6 70.1h0M316.6 51.6h0M320.9 62.4h0M285.2 39.1h0M267.2 45.9h0M304.3 51.1h0M286.4 41.2h0M317.4 59.0h0M314.8 55.3h0M318.3 59.9h0M319.8 64.9h0M257.1 45.3h0M283.9 38.9h0M320.5 69.1h0M300.2 42.5h0M263.8 40.0h0M271.4 40.4h0M319.4 59.3h0M295.4 44.7h0M320.9 69.8h0M278.4 40.9h0M283.4 38.6h0M315.1 53.4h0M284.7 42.4h0M266.4 43.4h0M317.2 57.9h0M299.7 42.4h0M313.2 55.0h0M283.4 39.4h0M270.2 41.1h0M315.5 53.7h0M271.5 40.0h0M270.7 43.4h0M265.1 41.0h0M287.6 44.7h0M320.0 62.3h0M318.4 54.7h0M276.4 40.5h0M303.4 48.8h0M314.5 50.4h0" stroke="#1e96ee" stroke-width="1.44" stroke-linecap="round" fill="none" opacity="1"/>
<path d="M267.0 39.6h0M271.1 38.0h0M271.2 38.5h0M268.1 39.3h0M269.1 38.7h0M267.5 39.0h0M288.0 40.0h0M290.5 39.3h0M296.5 38.7h0M289.6 39.9h0M286.7 39.1h0M279.9 37.4h0M274.6 37.7h0M263.0 40.1h0M268.3 38.5h0M291.0 39.8h0M283.5 37.7h0M267.2 39.3h0M287.7 39.4h0M277.0 37.0h0M271.2 38.5h0M271.2 38.7h0M271.1 38.2h0M275.7 37.3h0M277.4 37.2h0M269.8 38.2h0M283.1 36.2h0M282.4 36.8h0M282.7 36.9h0M268.3 39.0h0" stroke="#1e96ee" stroke-width="1.44" stroke-linecap="round" fill="none" opacity="1"/>
<path d="M321.2 65.3h0M322.1 68.3h0M322.3 69.9h0M320.5 63.6h0M320.8 66.2h0M321.4 72.1h0M321.1 71.1h0M322.2 68.2h0M321.3 66.5h0M321.8 70.3h0M320.1 62.6h0M321.3 71.2h0M322.3 69.4h0M321.9 70.1h0M321.4 68.3h0M321.5 64.3h0M322.3 67.7h0M321.2 65.3h0M321.4 71.0h0M321.8 67.5h0" stroke="#1e96ee" stroke-width="1.40" stroke-linecap="round" fill="none" opacity="1"/>
<path d="M338.5 89.6h0M344.8 94.1h0M346.6 95.2h0M348.0 97.5h0M324.2 85.0h0M339.5 88.0h0M343.9 92.6h0M347.2 95.8h0M337.1 88.1h0M343.5 92.3h0M323.2 85.2h0M325.7 84.4h0M324.2 85.3h0M321.7 85.3h0M331.2 85.1h0M340.7 90.9h0M342.3 90.5h0M331.7 86.6h0M328.8 84.8h0M341.1 88.8h0M339.9 89.8h0M346.1 93.9h0M340.3 89.1h0M339.9 88.7h0M333.6 87.6h0M329.2 86.8h0M336.6 86.9h0M331.2 85.1h0M342.7 90.7h0M323.2 84.3h0M344.8 92.4h0M321.2 84.0h0M337.1 88.4h0M328.3 84.7h0M336.1 88.0h0M348.0 97.2h0M325.2 84.8h0M322.7 84.5h0M341.5 89.3h0M330.7 86.1h0" stroke="#1e96ee" stroke-width="1.44" stroke-linecap="round" fill="none" opacity="1"/>
<path d="M321.2 83.7 L328.0 84.8 L336.1 87.1 L344.4 88.8 L345.8 92.2 L349.0 96.8" fill="none" stroke="#1e96ee" stroke-width="1.7" stroke-linejoin="round" stroke-linecap="round" opacity="1"/>
<path d="M30.9 283.2 L95.1 283.4 L111.9 282.9 L124.0 281.9 L138.6 279.7" fill="none" stroke="#22a8cc" stroke-width="1.0" stroke-linejoin="round" stroke-linecap="round" opacity="0.55"/>
<path d="M101.7 283.1 L124.0 281.8 L138.6 279.6" fill="none" stroke="#1e96ee" stroke-width="1.2" stroke-linejoin="round" stroke-linecap="round" opacity="0.9"/>
<path d="M30.9 284.9 L95.1 284.1 L124.0 282.6 L141.4 280.5 L152.3 280.3" fill="none" stroke="#f8962a" stroke-width="1.3" stroke-linejoin="round" stroke-linecap="round" opacity="1"/>
<path d="M30.9 253.6 L49.9 255.0 L64.1 252.9 L75.0 250.4 L90.0 249.4 L107.4 249.4 L113.9 251.4 L128.7 253.8 L132.1 257.1 L137.0 262.8 L141.8 269.4 L140.2 271.8 L139.2 271.6 L137.0 270.2 L135.3 267.8 L130.5 264.5 L122.0 261.0 L110.0 259.0 L90.0 256.5 L70.8 256.3 L57.2 257.7 L43.7 260.4 L30.9 261.8Z" fill="#22a8cc" stroke="none" stroke-width="0" opacity="0.9"/>
<path d="M80.1 251.6h0M98.7 252.6h0M112.8 251.1h0M98.5 251.7h0M101.8 250.7h0M99.7 253.4h0M104.3 252.9h0M93.7 251.3h0M118.5 253.6h0M129.4 255.6h0M122.7 255.8h0M79.1 251.6h0M88.2 251.8h0M130.1 256.8h0M105.8 250.4h0M94.8 249.4h0M124.8 253.3h0M115.3 251.9h0M105.9 252.6h0M107.3 253.0h0M84.6 253.9h0M131.2 258.5h0M93.7 251.5h0M130.9 257.5h0M114.8 251.7h0M89.7 250.3h0M89.2 252.3h0M87.3 252.7h0M131.7 257.7h0M79.6 253.2h0M130.6 256.3h0M130.0 257.6h0M104.2 250.7h0M106.0 251.9h0M89.1 253.6h0M112.7 253.3h0M131.7 257.2h0M101.1 251.0h0M117.7 255.4h0M78.6 250.6h0M87.9 252.1h0M121.2 255.7h0M111.1 252.0h0M111.6 252.1h0M76.5 251.1h0M101.0 251.9h0M115.7 254.2h0M78.1 251.2h0M83.6 251.8h0M120.9 254.8h0M105.9 249.7h0M98.4 252.2h0M84.4 251.7h0M99.3 250.5h0M99.5 251.6h0M127.3 256.2h0M103.8 253.1h0M110.4 252.9h0M110.2 253.7h0M105.7 250.9h0M120.0 254.0h0M95.2 253.0h0M114.3 251.7h0M105.9 251.7h0M96.7 253.6h0M78.1 252.2h0M123.0 254.4h0M100.3 253.0h0M113.9 253.7h0M120.2 253.0h0M113.8 251.5h0M84.7 253.1h0M122.2 255.8h0M85.9 251.9h0M81.1 250.4h0M112.3 251.0h0M76.0 253.6h0M93.2 251.3h0M95.1 250.6h0M104.3 253.1h0M120.8 252.7h0M95.1 250.9h0M114.7 254.7h0M131.7 256.8h0M88.1 253.7h0M120.3 255.2h0M92.7 249.5h0M113.3 251.2h0M87.7 250.6h0M85.6 251.1h0M116.6 253.0h0M121.0 254.0h0M96.3 251.2h0M108.8 253.3h0M87.7 250.7h0M118.2 255.4h0M129.5 254.9h0M103.9 249.6h0M93.8 250.3h0M89.7 249.8h0M87.6 253.9h0M113.9 253.8h0M89.5 250.9h0M123.7 256.0h0M102.9 249.8h0M103.8 252.1h0M118.3 254.8h0M131.0 256.3h0M128.5 255.3h0M108.4 251.8h0M109.6 251.7h0M122.6 254.0h0M88.7 250.6h0M92.7 250.9h0M131.3 257.4h0M93.5 251.2h0M109.7 251.4h0M95.2 252.3h0M114.3 253.9h0M118.2 253.4h0M88.4 252.1h0M81.1 253.1h0M125.3 255.6h0M81.1 253.2h0M95.3 249.8h0M129.7 256.0h0M79.4 252.0h0M111.2 254.0h0M80.1 253.7h0M82.6 250.5h0M81.1 253.1h0M118.7 254.7h0M86.6 252.5h0M103.4 250.9h0M101.8 253.1h0M87.0 250.7h0M82.3 252.6h0M76.5 252.7h0M114.7 253.1h0M78.1 251.9h0M116.2 254.0h0M118.1 253.4h0M130.6 255.7h0M108.7 251.0h0M80.8 252.3h0M111.8 251.4h0M124.9 255.1h0M90.2 250.9h0M110.9 253.3h0M76.5 251.5h0M100.2 253.0h0M106.9 251.0h0M106.7 250.9h0M88.7 250.4h0M82.1 254.3h0M87.9 252.0h0M110.3 250.9h0M86.2 250.0h0M105.9 250.0h0M115.7 254.9h0M76.0 254.3h0M117.7 252.5h0M109.2 251.3h0M91.7 250.9h0M129.7 256.0h0M100.9 249.9h0M126.1 254.4h0M90.6 250.5h0M124.2 253.5h0M97.2 252.0h0M91.3 252.3h0M129.8 255.3h0M125.5 255.0h0M126.2 254.0h0M80.1 254.1h0M87.1 253.5h0M86.1 253.5h0M124.2 253.6h0M126.7 255.2h0M121.2 253.3h0M109.1 251.7h0M85.6 251.2h0M131.7 257.3h0M129.7 256.0h0M93.7 252.2h0M113.0 252.6h0M92.7 252.3h0M83.1 251.1h0M129.0 255.1h0M105.8 253.1h0M88.2 249.8h0M111.4 253.0h0M119.2 255.5h0M108.0 252.2h0M117.3 252.1h0M129.8 255.3h0M88.2 250.2h0M122.2 255.8h0M107.9 249.8h0M79.6 250.7h0M89.1 250.3h0M129.3 255.9h0M83.1 254.3h0M95.2 249.7h0M77.6 251.8h0M111.2 253.4h0M106.8 253.1h0M115.2 254.7h0M102.2 250.8h0M85.6 253.0h0M81.1 251.7h0M98.3 250.7h0M110.3 251.7h0M81.1 251.6h0M79.6 252.5h0M80.6 251.2h0M101.4 249.7h0M85.4 251.5h0M93.9 251.8h0M101.8 252.0h0M85.1 252.2h0M79.6 254.2h0M85.1 250.3h0M130.1 256.5h0M79.1 250.9h0M83.6 252.3h0M89.2 251.9h0M127.8 256.3h0M92.4 252.0h0M114.7 254.6h0M117.2 255.3h0M128.4 255.9h0M99.7 252.8h0M123.1 254.1h0M117.7 255.0h0M108.7 251.2h0M82.1 253.0h0M91.1 250.3h0M80.1 253.8h0M122.2 253.4h0M90.2 250.9h0M107.9 249.8h0M83.6 253.0h0M128.8 254.0h0M103.3 252.0h0M95.2 252.9h0M77.0 253.3h0M90.8 252.3h0M112.7 254.5h0M116.8 252.9h0M82.1 253.4h0M124.0 254.8h0M96.0 251.8h0M92.2 253.3h0M118.7 252.9h0M77.0 251.2h0M104.3 251.9h0M119.4 254.4h0M102.9 250.7h0M119.3 254.9h0" stroke="#1e96ee" stroke-width="1.20" stroke-linecap="round" fill="none" opacity="1"/>
<path d="M37.5 260.8h0M80.6 251.6h0M55.0 256.9h0M100.0 257.0h0M52.0 256.6h0M122.2 255.2h0M103.1 258.0h0M49.8 258.0h0M134.3 264.5h0M115.3 253.8h0M128.2 257.2h0M31.9 261.1h0M112.5 259.4h0M49.4 257.3h0M137.3 266.5h0M105.6 256.1h0M131.7 265.2h0M42.2 256.1h0M105.2 255.9h0M107.7 257.8h0M114.9 257.4h0M73.0 252.7h0M104.4 252.9h0M112.1 252.2h0M89.8 251.4h0M115.8 257.8h0M33.1 258.8h0M119.4 260.6h0M82.7 254.4h0M62.5 253.6h0M55.5 257.7h0M125.7 255.2h0M88.3 251.5h0M53.4 257.0h0M91.7 255.7h0M31.9 253.8h0M100.3 254.5h0M70.0 255.1h0M127.2 263.0h0M36.4 254.7h0M48.1 255.9h0M94.6 256.9h0M134.8 267.2h0M38.9 254.8h0M90.6 255.7h0M127.4 262.4h0M116.0 255.8h0M136.6 267.0h0M100.5 254.3h0M80.8 250.6h0M138.4 269.5h0M60.6 255.3h0M37.2 257.0h0M139.6 267.4h0M79.9 251.3h0M117.4 252.7h0M92.0 254.3h0M67.1 255.4h0M134.1 260.5h0M106.2 256.1h0M124.1 260.3h0M133.0 260.6h0M124.4 256.5h0M67.3 255.1h0M58.8 256.7h0M101.0 256.3h0M32.9 261.2h0M121.2 252.8h0M83.1 252.1h0M55.6 254.7h0M139.1 269.8h0M30.9 253.6h0M114.7 258.4h0M83.0 254.7h0M60.3 254.2h0M139.9 271.0h0M132.0 264.1h0M133.2 263.0h0M81.0 250.3h0M63.9 256.0h0M77.2 253.4h0M79.0 252.0h0M137.0 269.8h0M37.4 260.9h0M103.6 254.3h0M80.6 252.5h0M80.2 253.0h0M81.1 254.6h0M121.5 260.3h0M66.9 252.8h0M110.7 256.4h0M51.8 256.9h0M130.5 258.2h0M31.9 259.6h0M92.6 256.6h0M98.6 251.0h0M135.1 267.5h0M139.2 270.2h0M128.0 255.4h0M55.8 256.1h0M52.2 257.9h0M84.7 252.8h0M135.8 265.2h0M77.2 254.2h0M75.1 255.2h0M43.9 257.9h0M48.8 258.2h0M31.9 256.5h0M101.8 253.7h0M51.0 258.5h0M141.0 268.5h0M96.4 252.0h0M136.6 265.4h0M135.6 266.6h0M47.9 259.4h0M49.4 257.7h0M129.0 263.8h0M40.0 256.8h0M94.1 250.9h0M137.6 270.5h0" stroke="#1e96ee" stroke-width="1.20" stroke-linecap="round" fill="none" opacity="1"/>
<path d="M30.9 256.9h0M51.6 257.7h0M37.1 260.2h0M51.2 256.6h0M65.3 253.5h0M53.2 255.1h0M69.4 252.4h0M37.8 259.3h0M45.6 259.9h0M37.8 258.8h0M49.3 255.6h0M52.0 254.8h0M71.6 254.0h0M37.0 257.2h0M58.4 256.5h0M36.2 257.4h0M69.4 255.5h0M46.4 255.4h0M40.8 259.2h0M34.8 255.4h0M30.9 256.7h0M69.9 254.2h0M41.0 254.5h0M72.3 253.0h0M53.5 255.4h0M55.7 257.7h0M53.7 255.9h0M71.3 251.6h0M49.8 258.7h0M48.4 256.5h0M66.6 255.1h0M61.1 255.0h0M41.5 258.0h0M69.1 253.5h0M46.8 259.3h0M41.4 255.4h0M48.3 259.1h0M52.9 255.7h0M43.4 257.3h0M70.8 252.1h0M55.6 257.9h0M67.0 254.5h0M73.1 252.5h0M33.8 256.4h0M44.7 259.8h0M40.4 255.0h0M44.9 257.2h0M70.0 252.8h0M44.7 256.0h0M39.5 254.3h0M58.7 254.8h0M45.0 258.5h0M37.8 255.2h0M34.0 260.7h0M57.3 255.5h0M31.4 258.2h0M34.5 260.2h0M72.4 252.9h0M45.8 255.6h0M69.5 252.4h0" stroke="#5ac8e0" stroke-width="1.20" stroke-linecap="round" fill="none" opacity="1"/>
<path d="M75.3 257.2h0M105.9 260.8h0M48.2 261.8h0M46.4 263.6h0M59.0 262.1h0M75.3 259.1h0M45.5 262.6h0M78.2 259.1h0M111.4 260.8h0M46.9 264.2h0M66.2 260.5h0M51.7 262.3h0M81.0 256.8h0M43.5 262.6h0M75.4 257.9h0M81.4 257.7h0M71.1 257.1h0M99.7 260.3h0M41.6 262.9h0M56.5 261.2h0M67.6 257.6h0M44.9 264.3h0M91.5 257.7h0M57.2 263.9h0M67.6 257.6h0M80.3 258.3h0M108.2 260.5h0M113.6 262.1h0M82.4 256.6h0M46.5 261.8h0M45.7 264.2h0M89.2 257.2h0M57.0 259.6h0M36.4 263.8h0M111.6 259.5h0M64.6 258.3h0M74.2 257.3h0M43.7 264.3h0M78.8 258.4h0M89.6 259.7h0M60.6 261.7h0M98.9 258.6h0M105.5 259.9h0M58.6 262.1h0M76.2 259.3h0M68.0 258.9h0M71.0 258.9h0M54.1 264.5h0M41.6 261.8h0M61.7 260.4h0M80.9 256.5h0M58.6 261.0h0M45.3 264.8h0M105.0 259.2h0M46.9 264.6h0M44.7 262.3h0M50.4 263.0h0M106.8 259.7h0M92.2 259.1h0M111.1 260.7h0M43.6 264.2h0M40.5 262.8h0M73.5 259.7h0M81.1 258.4h0M99.6 259.1h0M50.6 262.5h0M65.6 260.5h0M86.6 257.7h0M49.4 261.8h0M59.3 261.4h0M79.3 258.1h0M106.2 260.3h0M90.1 257.3h0M74.0 257.4h0M109.2 259.5h0M88.2 258.3h0M54.0 264.8h0M55.6 262.2h0M104.3 258.9h0M48.3 262.6h0M37.0 264.7h0M37.9 265.9h0M40.9 264.7h0M40.2 263.4h0M90.2 257.6h0M62.0 261.5h0M68.5 259.1h0M39.1 263.3h0M92.6 258.6h0M50.7 264.3h0" stroke="#1dbb2c" stroke-width="1.20" stroke-linecap="round" fill="none" opacity="1"/>
<path d="M117.9 261.1 L128.7 264.5 L133.5 267.7 L135.1 270.3" fill="none" stroke="#1dbb2c" stroke-width="1.6" stroke-linejoin="round" stroke-linecap="round" opacity="1"/>
<path d="M130.8 266.8h0M129.8 264.8h0M125.7 263.4h0M122.7 262.0h0M132.1 267.1h0M133.8 268.8h0M122.6 262.6h0M133.9 269.3h0M132.3 266.1h0M118.8 260.9h0M128.1 264.9h0M119.8 262.7h0M132.3 267.5h0M128.3 264.8h0M122.1 262.0h0M135.2 269.5h0M121.9 261.9h0M126.6 263.4h0M129.5 265.4h0M117.5 261.5h0" stroke="#1dbb2c" stroke-width="1.20" stroke-linecap="round" fill="none" opacity="1"/>
<path d="M82.3 243.7h0M72.1 234.4h0M69.5 228.9h0M75.3 241.6h0M55.7 229.1h0M49.0 232.4h0M72.8 239.7h0M69.0 228.8h0M51.5 232.5h0M72.3 230.8h0M53.2 229.4h0M70.1 224.9h0M74.6 240.0h0M63.2 228.3h0M82.8 248.1h0M58.8 227.5h0M67.1 232.8h0M75.1 243.1h0M69.7 224.8h0M73.6 234.8h0M70.2 232.8h0M46.0 235.7h0M61.4 227.2h0M59.8 227.4h0M75.1 237.0h0M82.3 243.1h0M51.2 231.9h0M60.5 227.6h0M56.9 228.7h0M59.0 227.8h0M56.9 228.0h0M84.1 245.4h0M54.1 230.7h0M76.4 245.2h0M50.0 233.0h0M71.3 234.7h0M52.3 231.8h0M46.3 235.4h0M77.2 244.6h0M74.0 233.4h0M46.5 235.5h0M71.0 229.4h0M54.7 230.9h0M64.8 225.8h0M69.0 231.0h0M75.3 239.4h0M82.8 247.4h0M57.9 227.7h0M74.6 237.1h0M51.9 232.2h0M57.9 228.5h0M84.7 247.0h0M71.1 232.1h0M65.6 224.2h0M84.4 246.4h0M48.4 233.9h0M63.6 227.2h0M81.0 242.1h0M68.7 234.7h0M77.4 237.3h0M45.3 236.4h0M69.0 230.8h0M69.4 234.8h0M56.6 228.4h0M83.1 248.3h0M66.2 230.4h0M82.2 245.4h0M47.1 234.9h0M81.8 246.6h0M65.1 229.5h0M79.3 240.5h0M48.5 233.2h0M48.9 233.0h0M55.3 229.6h0M65.8 226.6h0M68.9 231.4h0M52.6 230.8h0M59.4 227.4h0M84.2 246.5h0M73.6 235.0h0M84.4 246.3h0M50.6 231.0h0M76.3 237.9h0M80.1 240.8h0M46.4 235.5h0M49.8 231.8h0M47.2 235.0h0M60.3 227.0h0M70.2 231.9h0M64.3 229.1h0M78.0 240.1h0M50.1 233.0h0M54.7 230.8h0M48.0 233.9h0M79.9 239.8h0M47.4 234.4h0M55.5 230.2h0M77.4 239.5h0M71.1 235.5h0M71.7 236.7h0M64.7 228.8h0M74.8 238.1h0M69.4 231.0h0M55.7 229.2h0M72.9 238.2h0M83.0 246.1h0M57.0 228.0h0M73.2 233.1h0M57.3 229.2h0M68.7 230.5h0M78.4 239.6h0M56.5 228.6h0M78.0 237.7h0M61.8 227.3h0M66.9 228.5h0M49.8 231.7h0M60.9 227.0h0M67.2 229.9h0M46.7 234.9h0M62.2 227.7h0M51.8 231.6h0M51.5 232.5h0M50.2 233.2h0M47.0 234.5h0M73.9 231.9h0M73.8 240.3h0M69.7 225.0h0M82.4 247.5h0M68.6 232.8h0M46.5 235.2h0M59.3 227.7h0M58.8 227.3h0M58.8 228.1h0M64.8 228.9h0M60.9 227.2h0M51.3 231.7h0M82.4 248.0h0M60.0 227.6h0M76.2 237.6h0M82.8 247.9h0M81.2 248.1h0M61.3 227.7h0M82.5 244.3h0M62.1 228.3h0M70.9 236.9h0M73.2 239.7h0M83.5 247.8h0M81.2 243.1h0M73.3 232.4h0M72.2 238.3h0M63.2 228.1h0M77.4 243.3h0M73.3 238.5h0M54.9 229.9h0M46.0 235.6h0M81.2 245.3h0M71.1 227.9h0M72.1 230.3h0M65.2 224.5h0M60.9 227.1h0M71.5 230.2h0M74.5 234.6h0M74.9 240.3h0M83.5 246.3h0M55.6 229.6h0M77.8 247.7h0M71.4 230.5h0M54.3 229.8h0M82.4 247.0h0M61.7 228.0h0M60.2 228.5h0M79.6 243.2h0M49.5 233.0h0M77.3 237.8h0M50.1 232.1h0M81.5 244.4h0M59.2 228.8h0M75.1 237.0h0M64.4 227.0h0M83.1 245.1h0M45.8 236.0h0M57.4 229.3h0M80.7 242.0h0M79.9 241.6h0M50.0 232.7h0M53.6 229.2h0M46.7 235.1h0M66.5 224.8h0M48.4 234.1h0M47.9 233.2h0M55.1 230.6h0M57.4 227.9h0M66.1 224.7h0M75.8 237.9h0M63.6 226.9h0M47.6 234.2h0M58.3 228.4h0M79.3 242.2h0M74.1 232.7h0M48.0 233.9h0M50.4 232.1h0M58.3 227.6h0M63.2 227.3h0M84.0 246.2h0M72.8 239.0h0M80.8 241.5h0M75.0 233.8h0M66.4 229.0h0M55.2 229.0h0M72.8 233.7h0M77.0 241.7h0M69.3 231.2h0M66.0 225.3h0M58.2 228.6h0M53.0 230.6h0M78.9 242.7h0M61.8 226.6h0M69.8 229.8h0M59.3 228.7h0M69.7 227.0h0M64.8 225.0h0M45.6 236.1h0M45.6 235.9h0M72.8 236.0h0M45.3 236.3h0M83.0 246.3h0M69.1 232.6h0M53.7 229.4h0M84.4 246.7h0M80.3 247.4h0M67.8 228.3h0M76.5 242.8h0M83.3 246.4h0M61.3 227.3h0M78.5 244.5h0M69.5 236.1h0M79.9 241.8h0M55.7 229.1h0M75.0 233.9h0M76.9 237.6h0M72.6 230.8h0M53.0 230.4h0M45.9 235.6h0M50.7 231.3h0M52.8 229.7h0M64.8 226.6h0M47.9 233.3h0M51.7 231.3h0M52.4 232.0h0M60.3 227.5h0M48.4 234.2h0M75.4 233.8h0M73.1 236.4h0M82.8 247.1h0M73.9 234.6h0M54.1 230.7h0M66.9 226.6h0M78.0 241.9h0M52.2 231.1h0M49.9 232.3h0M67.5 229.5h0M63.6 226.7h0M54.2 229.5h0M54.2 229.2h0M64.0 226.7h0M61.3 227.1h0M55.4 229.8h0M62.2 228.5h0M74.8 236.1h0M53.0 230.5h0M68.7 225.3h0M75.1 235.6h0M78.0 243.9h0M79.0 238.4h0M73.8 239.6h0M78.5 241.3h0M75.6 239.7h0M49.0 232.3h0M72.2 231.6h0M57.1 228.3h0M68.5 229.2h0M71.7 228.8h0M78.5 244.4h0M48.3 233.5h0M73.1 231.7h0M55.2 230.7h0M46.6 234.8h0M75.1 238.6h0M73.7 235.5h0M45.3 236.6h0M75.4 240.8h0M53.6 230.7h0M63.6 227.5h0M66.4 229.7h0M65.2 225.5h0M70.4 227.9h0M61.3 227.5h0M76.0 240.6h0M78.2 238.7h0M71.8 232.0h0M78.6 245.9h0M70.8 227.6h0M60.0 227.7h0M79.1 242.9h0M78.1 243.9h0M56.9 228.3h0M63.2 227.8h0M83.0 246.3h0M67.5 232.6h0M49.9 232.2h0M77.6 240.3h0M70.6 234.6h0M70.1 227.6h0M56.5 228.6h0M57.4 228.2h0M60.2 228.4h0M69.1 231.9h0M69.8 228.7h0M73.3 234.7h0M71.2 227.8h0M58.1 228.1h0M80.6 248.0h0M66.5 225.7h0M66.8 232.4h0M47.9 233.7h0M46.8 235.5h0M60.7 228.5h0M59.3 227.7h0M46.5 235.7h0M81.5 248.4h0M80.6 248.5h0M54.6 229.0h0M66.3 228.1h0M69.8 226.4h0M56.0 229.3h0M72.3 231.0h0M77.8 247.8h0M50.4 232.1h0M47.1 234.9h0M66.9 231.5h0M57.5 228.0h0M63.6 228.3h0M76.8 242.6h0M47.6 234.8h0M60.1 228.1h0M51.2 231.3h0M64.7 230.2h0M77.8 242.7h0M77.0 245.4h0M83.9 247.3h0M84.1 245.4h0M64.4 227.5h0M53.4 229.9h0M48.0 234.2h0M48.5 233.3h0M58.0 228.0h0M76.7 238.9h0M68.9 226.8h0M62.2 228.9h0M57.9 228.5h0M74.4 240.9h0M79.9 247.0h0M75.5 240.2h0M70.3 226.4h0M54.2 229.2h0M63.6 229.1h0M55.3 229.3h0M78.1 246.7h0M74.9 242.1h0M78.8 239.8h0M77.6 244.2h0M48.7 232.8h0M77.3 245.6h0M54.5 230.4h0M72.6 231.2h0M73.2 239.5h0M66.7 228.3h0M83.5 244.6h0M52.0 230.7h0M81.7 246.1h0M54.1 230.7h0M69.4 232.7h0M52.4 230.1h0M74.3 238.6h0M82.7 247.6h0M56.5 228.1h0M53.6 229.1h0M71.8 230.1h0M58.7 228.6h0M70.1 235.0h0M82.2 246.3h0M61.2 228.6h0M63.2 226.6h0M67.6 232.0h0M53.8 231.4h0M71.3 227.3h0M55.1 228.7h0M51.2 231.0h0M52.3 230.0h0M80.8 245.3h0M80.0 243.3h0M67.6 231.9h0M76.8 238.7h0M64.7 228.9h0M68.5 231.5h0M56.0 228.2h0M55.7 229.2h0M74.4 237.1h0M72.4 230.5h0M50.3 231.6h0M55.1 229.7h0M47.3 234.0h0M76.9 235.5h0M71.1 226.2h0M57.4 228.2h0M70.6 228.8h0M68.5 229.0h0M61.2 228.1h0M48.7 233.5h0M76.0 240.9h0" stroke="#e030e8" stroke-width="1.20" stroke-linecap="round" fill="none" opacity="1"/>
<path d="M66.8 223.1h0M50.3 231.8h0M50.3 231.2h0M46.7 235.8h0M60.7 227.3h0M67.8 223.4h0M61.1 226.7h0M60.2 226.4h0M62.0 226.0h0M65.3 224.6h0M54.3 228.2h0M65.5 223.7h0M51.1 230.2h0M56.0 228.8h0M46.7 234.5h0M52.8 228.9h0M48.5 232.3h0M54.4 229.1h0M49.8 231.4h0M60.0 227.3h0M58.1 227.4h0M58.9 226.7h0M60.5 226.3h0M64.1 225.8h0M48.6 231.9h0M45.3 235.9h0M53.3 229.3h0M67.0 224.3h0M62.7 226.1h0M48.6 233.6h0M51.7 230.5h0M51.1 230.9h0M57.3 227.9h0M57.6 227.3h0M62.3 226.8h0M51.2 230.6h0M51.5 231.4h0M47.8 232.4h0M48.7 232.6h0M62.6 226.7h0M58.8 227.3h0M46.0 235.1h0M45.9 234.9h0M59.0 226.5h0M50.4 231.8h0M49.0 232.0h0M54.2 228.5h0M54.4 228.9h0M57.5 227.3h0M47.2 234.8h0M48.6 232.8h0M65.0 223.8h0M62.7 226.9h0M62.8 226.7h0M49.2 231.7h0M67.6 223.9h0M52.9 229.5h0M56.9 228.1h0M64.3 224.9h0M66.5 223.9h0M56.4 228.5h0M62.7 226.9h0M64.7 224.7h0M65.6 223.7h0M49.7 230.9h0M47.5 233.1h0M58.9 227.1h0M62.7 226.5h0M64.8 225.0h0M57.7 227.5h0" stroke="#e030e8" stroke-width="1.20" stroke-linecap="round" fill="none" opacity="1"/>
<path d="M43.1 240.2h0M45.2 238.4h0M45.7 237.9h0M43.2 241.0h0M44.6 238.4h0M44.6 239.6h0M44.1 239.4h0M44.1 239.1h0M45.1 238.8h0M44.6 238.6h0M45.8 239.1h0M42.9 239.9h0M44.6 239.4h0M45.4 238.4h0M43.3 240.5h0M45.1 239.3h0M45.4 238.2h0M46.2 238.0h0M41.4 241.3h0M42.4 240.3h0M44.1 238.9h0M44.7 239.2h0M45.4 239.4h0M43.7 240.2h0M45.4 238.2h0M44.4 240.1h0M43.0 240.9h0M46.5 237.3h0M42.6 240.5h0M43.1 240.7h0M42.7 241.4h0M45.3 239.5h0M43.8 239.4h0M46.3 237.2h0M44.7 239.8h0" stroke="#e030e8" stroke-width="1.50" stroke-linecap="round" fill="none" opacity="1"/>
<path d="M30.9 230.2 L31.7 227.7 L36.4 223.2 L40.8 229.5 L48.1 236.8 L57.2 244.1 L66.3 251.4 L76.4 257.9 L81.1 261.1 L84.5 263.0 L89.6 264.5 L92.6 265.3 L109.0 270.2 L125.4 274.3 L138.6 278.3 L150.3 280.0 L157.4 280.5" fill="none" stroke="#f8962a" stroke-width="2.2" stroke-linejoin="round" stroke-linecap="round" opacity="1"/>
<path d="M31.7 239.9 L41.0 240.7 L50.3 242.5 L61.3 245.4 L71.4 249.6 L80.5 252.2 L90.0 254.0 L102.8 256.1 L117.9 257.8 L130.1 258.9 L148.7 260.9 L167.3 262.6 L173.6 263.5" fill="none" stroke="#f01c1c" stroke-width="3.2" stroke-linejoin="round" stroke-linecap="round" opacity="1"/>
<path d="M171.9 267.2h0M170.4 272.4h0M168.5 273.2h0M172.0 269.6h0M163.6 274.8h0M170.7 270.3h0M173.1 267.3h0M164.4 275.7h0M170.7 272.1h0M173.1 269.2h0M172.1 268.6h0M170.4 271.5h0M171.4 270.1h0M165.6 275.6h0M173.0 263.7h0M163.7 277.0h0M171.7 269.9h0M172.8 263.7h0M171.0 272.0h0M163.5 277.0h0M168.8 271.5h0M166.5 274.1h0M173.0 270.5h0M173.1 264.1h0M173.6 266.3h0M172.0 270.4h0M163.2 277.1h0M163.2 275.5h0M171.7 269.7h0M169.8 272.4h0M173.1 265.3h0M171.6 271.0h0M172.1 263.8h0M162.7 276.4h0M172.4 265.3h0M162.9 275.1h0M165.0 275.7h0M172.5 266.9h0M170.5 270.5h0M172.3 268.0h0" stroke="#f01c1c" stroke-width="1.10" stroke-linecap="round" fill="none" opacity="1"/>
<path d="M167.0 270.0h0M167.8 269.0h0M168.5 269.3h0M162.1 267.5h0M163.9 265.4h0M166.9 267.1h0M166.9 273.4h0M170.0 272.7h0M163.7 264.8h0M162.5 266.8h0M164.8 268.2h0M166.6 266.9h0M160.4 264.5h0M168.5 269.9h0M167.4 269.2h0M170.9 272.5h0M167.9 273.0h0M171.8 270.9h0M161.8 265.2h0M168.2 271.9h0M169.2 271.7h0M168.5 268.2h0M166.8 272.7h0M161.6 265.8h0M167.5 273.6h0" stroke="#f01c1c" stroke-width="1.00" stroke-linecap="round" fill="none" opacity="1"/>
<path d="M32.9 251.9h0M32.5 254.8h0M32.4 247.2h0M32.6 244.4h0M32.2 245.9h0M32.4 246.8h0M31.7 243.8h0M32.6 248.3h0M32.3 245.7h0M31.9 242.4h0" stroke="#f01c1c" stroke-width="1.20" stroke-linecap="round" fill="none" opacity="1"/>
<path d="M31.3 185.3 L37.0 184.0 L43.0 182.9 L46.9 182.3 L56.0 185.0 L63.9 188.2 L69.0 190.8 L76.8 195.4 L82.1 198.0 L87.2 199.9 L91.6 201.8 L91.6 205.7 L88.4 205.0 L83.9 203.2 L76.8 200.2 L70.0 196.9 L63.9 193.1 L56.0 189.5 L49.9 187.4 L43.0 186.6 L37.0 186.4 L31.3 186.0Z" fill="#222" stroke="none" stroke-width="0" opacity="0.7"/>
<path d="M44.4 185.5h0M52.6 184.6h0M56.6 189.0h0M86.2 202.0h0M76.1 198.4h0M82.6 199.8h0M36.7 184.2h0M46.5 186.9h0M47.5 186.9h0M90.7 202.5h0M32.3 185.2h0M46.7 183.4h0M64.4 191.1h0M60.6 188.1h0M39.7 183.5h0M90.2 201.6h0M34.8 184.8h0M43.8 184.2h0M31.8 185.4h0M69.7 195.6h0M75.5 198.0h0M78.9 198.9h0M56.3 188.6h0M77.9 199.3h0M86.9 200.8h0M59.8 189.8h0M79.0 196.9h0M81.2 199.5h0M60.0 190.3h0M68.9 190.9h0M36.3 185.3h0M82.3 199.9h0M90.2 202.5h0M84.5 199.9h0M31.8 186.0h0M73.9 196.8h0M78.6 197.8h0M40.4 186.4h0M34.3 185.4h0M78.8 200.4h0M71.9 197.1h0M63.2 192.0h0M33.3 185.1h0M76.1 198.6h0M36.3 185.4h0M70.6 192.8h0M45.3 184.3h0M85.9 201.2h0M47.1 183.5h0M84.5 200.4h0M33.8 185.3h0M69.8 195.1h0M32.8 185.3h0M34.8 186.0h0M58.8 186.3h0M34.8 185.3h0M53.8 188.3h0M88.7 203.5h0M50.5 187.5h0M87.8 202.7h0M51.4 187.6h0M83.1 199.0h0M43.9 185.7h0M57.0 187.7h0M58.9 188.8h0M68.8 194.1h0M91.1 203.7h0M74.2 198.2h0M32.3 185.9h0M48.3 184.1h0M63.3 190.5h0M55.4 185.6h0M56.2 189.4h0M42.1 184.4h0M50.0 187.4h0M73.7 196.4h0M66.3 193.0h0M82.1 202.1h0M55.9 186.6h0M85.0 201.3h0M49.8 185.3h0M43.9 186.3h0M59.0 189.8h0M76.3 195.8h0M72.4 195.9h0M87.9 200.3h0M57.7 188.4h0M63.9 188.4h0M34.1 185.2h0M67.2 193.6h0M76.7 196.7h0M85.0 201.4h0M66.5 190.8h0M72.8 193.7h0M68.9 192.7h0M36.8 184.8h0M40.8 185.4h0M63.5 189.7h0M68.9 192.1h0M72.1 195.7h0M84.0 200.2h0M85.5 200.7h0M86.4 202.4h0M34.8 185.1h0M81.7 198.7h0M36.3 184.6h0M83.0 201.6h0M58.9 189.6h0M42.8 184.6h0M54.6 186.4h0M88.3 201.3h0M33.8 185.3h0M45.7 182.6h0M36.4 185.9h0M67.2 194.0h0M87.8 203.3h0M48.2 183.1h0M36.8 185.6h0M51.0 185.1h0M82.6 201.6h0M72.5 196.6h0M67.9 194.0h0M80.3 198.7h0M61.4 190.8h0M71.9 197.6h0M69.3 193.4h0M64.3 189.0h0M86.5 200.6h0M67.1 191.8h0M41.3 184.0h0M62.1 189.6h0M35.3 184.8h0M53.1 184.6h0M61.6 187.5h0M46.0 186.5h0M68.4 195.7h0M64.2 191.5h0M85.9 200.8h0M58.2 187.3h0M79.4 198.0h0M90.2 203.8h0M42.4 186.3h0M60.2 187.3h0M76.8 197.8h0M84.1 198.9h0M58.8 186.7h0M54.9 185.3h0M41.8 184.3h0M76.5 199.9h0M54.5 185.4h0M33.3 185.1h0M75.5 195.3h0M67.5 191.6h0M85.4 201.3h0M51.7 184.9h0M34.8 185.2h0M55.5 185.6h0M63.4 189.0h0M74.2 197.1h0M74.9 195.4h0M61.2 188.9h0M89.7 201.7h0M76.2 196.4h0M47.0 186.4h0M33.8 185.8h0M81.3 198.8h0M58.0 188.4h0M65.6 191.1h0M43.3 184.1h0M70.4 194.1h0M80.8 199.6h0M47.3 183.3h0M49.3 184.9h0M45.2 183.0h0M58.3 186.9h0M51.4 187.3h0M84.5 201.4h0M43.2 183.3h0M68.0 195.1h0M38.3 185.1h0M64.5 193.4h0M44.3 184.1h0M58.6 189.8h0M52.9 186.3h0M40.4 186.4h0M47.2 182.5h0M75.9 195.8h0M51.9 187.4h0M75.5 198.3h0M61.1 187.9h0M88.7 203.9h0M48.7 183.3h0M74.4 196.1h0M38.8 185.2h0M84.5 200.9h0M38.4 186.0h0M37.8 185.6h0M46.4 186.2h0M43.3 184.8h0M57.6 189.4h0M32.3 185.1h0M82.2 198.9h0M32.3 185.4h0M48.1 184.3h0M42.9 185.7h0M55.4 186.4h0M78.9 199.4h0M57.7 188.8h0M32.3 185.9h0M75.3 196.1h0M60.0 189.2h0M83.0 201.5h0M43.8 183.6h0M41.3 184.9h0M46.4 186.2h0M68.9 192.4h0M77.6 197.3h0M83.0 201.8h0M72.4 193.1h0M62.9 189.1h0M76.2 196.6h0M78.4 199.0h0M81.2 201.3h0M57.0 188.4h0M64.0 192.0h0M65.3 189.2h0M81.1 201.6h0M51.3 185.8h0M55.1 186.1h0M71.5 196.6h0M85.0 199.9h0M49.5 186.7h0M53.0 184.7h0M46.2 182.6h0M44.4 186.1h0M44.4 185.2h0M76.0 199.4h0M75.7 198.0h0M81.1 201.3h0M89.8 201.1h0M41.4 185.4h0M84.0 201.6h0M39.8 185.6h0M39.4 186.0h0M78.1 197.0h0M33.3 185.9h0M49.4 186.8h0M49.4 186.2h0M64.0 189.1h0M91.1 205.5h0M80.7 201.4h0M77.1 197.2h0M75.8 196.3h0M71.6 195.8h0M59.5 190.6h0M84.1 199.8h0M74.8 196.7h0M38.9 186.3h0M81.2 200.2h0M61.7 189.8h0" stroke="#111" stroke-width="1.20" stroke-linecap="round" fill="none" opacity="1"/>
<path d="M36.9 186.3h0M59.9 191.1h0M81.8 198.7h0M87.2 204.2h0M39.8 184.1h0M80.3 198.5h0M65.3 191.0h0M33.8 184.7h0M84.5 200.5h0M87.3 203.4h0M90.7 202.8h0M67.2 193.4h0M76.1 198.6h0M31.3 185.4h0M41.5 185.8h0M46.9 185.6h0M85.4 202.2h0M66.5 191.5h0M41.4 186.5h0M80.1 199.4h0M68.0 190.6h0M40.8 184.5h0M40.6 184.8h0M51.5 185.2h0M65.3 189.1h0" stroke="#fff" stroke-width="0.80" stroke-linecap="round" fill="none" opacity="1"/>
<path d="M65.3 196.1h0M54.2 190.9h0M69.6 197.3h0M52.3 190.8h0M89.1 207.6h0M49.9 189.0h0M58.5 192.8h0M59.4 191.8h0M82.0 204.3h0M73.2 199.9h0M83.0 203.8h0M68.8 197.3h0M66.6 196.4h0M57.1 190.5h0M73.2 200.0h0M67.5 197.8h0M87.7 204.9h0M68.8 197.7h0M77.8 202.7h0M81.6 203.2h0M49.9 189.7h0M58.9 191.1h0M67.9 196.6h0M53.3 191.2h0M60.8 192.0h0M61.7 192.7h0M74.6 199.4h0M76.9 201.4h0M55.2 191.6h0M56.2 190.2h0M89.6 206.7h0M61.7 193.2h0M76.4 202.3h0M65.7 195.3h0M80.6 203.8h0M80.2 204.2h0M71.0 197.8h0M71.0 197.6h0M58.9 190.9h0M58.0 190.7h0M82.0 202.5h0M56.2 192.2h0M55.7 192.0h0M63.6 194.6h0M58.5 193.3h0M64.4 194.1h0M90.1 207.2h0M54.2 189.0h0M71.9 199.2h0M65.3 194.2h0" stroke="#111" stroke-width="1.10" stroke-linecap="round" fill="none" opacity="1"/>
<path d="M119.4 208.1h0M114.2 205.6h0M114.1 209.6h0M117.9 208.1h0M131.7 210.1h0M108.8 206.0h0M92.2 203.4h0M103.9 204.4h0M119.8 212.2h0M94.2 205.8h0M135.7 208.6h0M110.7 205.2h0M129.7 207.0h0M129.6 202.7h0M129.8 211.3h0M101.9 206.1h0M126.6 202.7h0M103.1 208.6h0M91.5 202.3h0M120.7 209.9h0M99.4 207.8h0M122.1 209.9h0M124.7 204.7h0M117.3 206.5h0M134.4 209.4h0M141.7 201.2h0M130.6 201.7h0M121.0 203.0h0M137.2 203.3h0M137.0 211.5h0M93.5 202.8h0M110.7 206.2h0M127.2 210.3h0M125.0 208.6h0M95.4 204.9h0M136.0 211.4h0M101.7 206.1h0M137.8 202.8h0M121.4 207.3h0M141.3 210.6h0M105.7 205.6h0M125.7 204.4h0M101.2 209.6h0M112.1 209.7h0M102.0 206.6h0M131.9 210.4h0M104.4 208.6h0M116.1 204.9h0M132.2 202.6h0M102.0 208.7h0M109.8 211.1h0M103.1 205.8h0M142.3 209.6h0M139.2 201.4h0M142.2 209.8h0M93.2 207.5h0M117.7 210.8h0M115.2 206.1h0M106.8 210.6h0M118.7 205.7h0M110.5 209.4h0M113.6 210.5h0M119.0 202.6h0M124.3 206.1h0M132.3 208.2h0M119.0 203.2h0M92.8 207.5h0M127.9 213.2h0M128.7 209.9h0M141.3 205.5h0M131.2 206.2h0M94.4 206.4h0M130.2 206.1h0M139.7 203.1h0M108.9 207.9h0M115.0 208.8h0M138.9 209.0h0M127.2 208.2h0M138.6 206.5h0M101.9 204.1h0M113.1 204.9h0M93.7 205.5h0M138.4 207.6h0M120.2 205.0h0M87.8 201.0h0M92.1 206.8h0M103.5 208.3h0M96.5 207.1h0M107.0 208.9h0M125.4 213.4h0M89.2 206.3h0M92.8 207.7h0M112.9 208.2h0M122.8 212.7h0M112.5 209.2h0M103.2 207.7h0M116.7 210.1h0M118.6 204.3h0M97.7 206.8h0M115.6 205.1h0M95.8 206.5h0M112.7 211.1h0M93.2 207.5h0M136.4 208.3h0M135.5 213.0h0M96.7 208.4h0M99.5 208.3h0M117.3 206.4h0M88.9 202.2h0M112.2 211.0h0M139.0 210.9h0M113.1 210.2h0M126.3 212.6h0M138.8 205.6h0M94.9 204.7h0M101.3 207.9h0M119.8 212.1h0M89.4 203.3h0M118.3 207.2h0M93.3 206.1h0M104.1 205.3h0M90.1 204.0h0M90.7 204.4h0M91.1 202.3h0M108.6 205.0h0M116.3 212.0h0M117.6 204.9h0M110.3 207.3h0M135.2 202.8h0M98.9 207.7h0M127.9 213.3h0M103.4 207.4h0M103.5 204.8h0M121.4 208.0h0M121.0 203.2h0M106.9 204.3h0M129.4 213.4h0M94.9 202.7h0M126.3 211.2h0M110.7 210.8h0M115.7 205.5h0M87.2 200.2h0M115.5 209.0h0M104.8 207.0h0M114.3 211.9h0M119.7 210.8h0M117.3 212.4h0M102.1 208.9h0M129.5 207.6h0M116.2 205.3h0M126.7 211.6h0M123.3 206.2h0M95.6 203.5h0M96.2 206.4h0M88.0 204.9h0M142.7 206.1h0M126.7 205.9h0M92.0 202.7h0M104.4 208.6h0M130.3 208.5h0M134.8 207.9h0M128.2 206.1h0M94.3 204.1h0M137.3 205.1h0M114.9 207.8h0M115.3 206.9h0M125.4 206.9h0M110.6 209.6h0M117.2 205.9h0M98.9 203.9h0M102.6 205.5h0M133.8 208.5h0M137.3 205.2h0M124.3 211.6h0M98.2 204.7h0M126.9 213.6h0M118.4 207.7h0M114.4 208.1h0M127.3 210.7h0M106.9 207.9h0M111.1 205.7h0M137.3 204.8h0M129.3 211.7h0M118.9 207.7h0M121.1 203.9h0M115.4 208.4h0M116.1 210.5h0M108.5 208.6h0M113.5 209.5h0M139.8 204.2h0M111.4 204.0h0M127.1 202.7h0M120.9 207.6h0M136.8 206.9h0M98.1 207.6h0M120.6 204.4h0M90.9 203.2h0M139.4 210.6h0M101.0 206.5h0M132.6 201.8h0M128.4 212.0h0M100.0 204.7h0M116.2 205.5h0M115.7 206.4h0M90.6 202.8h0M135.0 211.4h0M90.6 202.5h0M128.8 208.2h0M102.0 204.9h0M129.9 212.7h0M108.4 209.2h0M91.2 206.9h0M108.9 207.9h0M116.7 211.3h0M135.7 202.8h0M107.4 207.8h0M121.5 208.5h0M130.9 205.5h0M101.0 208.6h0M98.2 208.9h0M113.6 210.1h0M135.5 212.8h0M118.6 209.8h0M119.3 206.5h0M93.9 202.9h0M91.3 206.9h0M103.7 206.1h0M100.7 209.2h0M100.2 207.0h0M132.5 213.0h0" stroke="#111" stroke-width="1.20" stroke-linecap="round" fill="none" opacity="1"/>
<path d="M31.3 185.0 L34.5 181.7 L36.6 184.2" fill="none" stroke="#111" stroke-width="1.4" stroke-linejoin="round" stroke-linecap="round" opacity="1"/>
<path d="M99.7 203.4 L105.6 204.2 L114.1 203.1 L126.2 201.8 L143.2 200.7" fill="none" stroke="#111" stroke-width="1.6" stroke-linejoin="round" stroke-linecap="round" opacity="1"/>
<path d="M81.5 200.0 L92.6 196.8 L102.8 193.6" fill="none" stroke="#222" stroke-width="1.1" stroke-linejoin="round" stroke-linecap="round" opacity="1"/>
<path d="M83.9 201.8 L93.6 199.9 L100.7 198.4" fill="none" stroke="#222" stroke-width="1.1" stroke-linejoin="round" stroke-linecap="round" opacity="1"/>
<path d="M95.7 202.8 L101.7 201.6 L106.4 199.5" fill="none" stroke="#222" stroke-width="1.1" stroke-linejoin="round" stroke-linecap="round" opacity="1"/>
<path d="M143.2 200.7 L143.2 200.2 L145.9 210.4 L149.7 221.4 L153.8 229.5 L159.2 240.5 L164.7 248.5 L170.2 254.3 L174.2 258.4 L175.8 265.2" fill="none" stroke="#111" stroke-width="0.6" stroke-linejoin="round" stroke-linecap="round" opacity="0.8"/>
<path d="M154.9 232.8h0M156.8 236.9h0M145.5 205.4h0M158.8 238.7h0M175.4 259.4h0M171.3 254.5h0M147.7 216.3h0M145.1 205.7h0M157.5 234.7h0M155.8 232.6h0M144.8 207.5h0M167.3 250.8h0M170.1 254.4h0M155.9 232.4h0M157.4 237.0h0M160.9 243.9h0M159.8 239.6h0M172.5 255.5h0M167.8 251.0h0M175.9 265.3h0M156.8 233.8h0M162.5 247.9h0M156.5 236.5h0M168.1 251.2h0M144.5 207.2h0M163.2 247.6h0M165.3 249.1h0M150.7 225.0h0M156.9 235.1h0M175.7 263.2h0M146.1 212.0h0M158.3 239.0h0M162.6 247.9h0M171.2 253.2h0M171.7 255.5h0M145.5 208.0h0M146.1 210.3h0M148.4 217.1h0M154.3 232.5h0M157.1 236.8h0M146.9 210.1h0M173.9 268.9h0M155.2 230.2h0M147.8 215.4h0M165.5 250.4h0M152.6 228.2h0M155.9 233.5h0M172.8 258.4h0M176.4 263.1h0M168.1 251.8h0M163.8 245.1h0M144.5 203.6h0M161.0 244.0h0M173.3 269.9h0M162.1 243.9h0M173.6 269.7h0M167.2 251.8h0M152.5 229.9h0M161.6 241.4h0M148.0 215.9h0M149.1 215.7h0M147.6 214.3h0M154.8 233.4h0M151.0 223.3h0M151.9 223.2h0M175.4 270.9h0M142.9 199.4h0M148.8 216.9h0M151.9 225.6h0M149.9 220.0h0M152.5 225.6h0M170.8 255.0h0M168.4 251.5h0M152.8 224.8h0M170.8 254.5h0M150.4 221.4h0M145.5 208.9h0M145.1 203.5h0M145.7 207.4h0M167.5 251.6h0M147.3 211.2h0M155.7 233.7h0M162.3 244.5h0M169.9 254.8h0M161.2 243.7h0M174.4 258.4h0M148.3 215.4h0M147.7 217.3h0M161.9 245.9h0M171.6 256.0h0M175.2 259.8h0M153.5 227.6h0M174.8 263.0h0M159.4 239.0h0M176.5 266.9h0M172.5 256.7h0M162.1 245.0h0M154.6 229.5h0M159.8 243.7h0M171.0 256.1h0M145.0 206.3h0M157.2 234.5h0M156.4 237.1h0M151.0 221.2h0M146.3 215.7h0M163.8 247.2h0M155.3 231.6h0M145.9 208.0h0M146.7 211.0h0M148.1 219.3h0M165.6 248.9h0M152.7 225.7h0M174.3 258.3h0M168.4 252.7h0M172.0 255.0h0M163.5 246.3h0M160.2 241.4h0M171.9 254.5h0M146.7 210.6h0M143.9 201.7h0M168.9 253.9h0M144.1 205.0h0M144.1 202.3h0M161.5 244.9h0M175.2 264.0h0M158.1 237.2h0M173.1 256.4h0M158.5 238.2h0M170.1 252.3h0M150.5 224.9h0M142.4 201.2h0M155.5 232.5h0M153.4 229.7h0M171.1 255.3h0M145.0 207.4h0M150.3 225.5h0M151.6 223.6h0M170.3 254.4h0M175.3 261.5h0M145.7 212.0h0M143.8 202.3h0M159.7 240.7h0M155.2 233.1h0M159.1 238.6h0M171.9 256.4h0M143.6 201.6h0M176.0 266.3h0M166.6 250.5h0M153.4 228.4h0M156.3 234.5h0M149.4 220.4h0M159.6 241.5h0M171.7 255.9h0M152.2 226.3h0M170.1 252.9h0M161.4 244.3h0M145.9 209.5h0M150.4 220.6h0M161.6 244.4h0M173.2 258.4h0M159.0 239.3h0M175.2 261.4h0M145.7 206.2h0M163.8 248.5h0M150.2 219.7h0M153.2 226.1h0M159.0 238.5h0M164.2 249.4h0M156.1 233.6h0M145.8 209.6h0M174.6 264.2h0M154.8 230.7h0M149.8 220.0h0M173.2 257.8h0M175.1 260.7h0M171.6 254.5h0M142.7 202.8h0M175.6 261.5h0M171.4 256.4h0M150.2 223.8h0M152.2 228.2h0M151.2 224.9h0M162.6 246.3h0M174.0 270.4h0M157.0 236.5h0M142.3 199.9h0M142.2 199.9h0M161.4 241.7h0M174.6 269.8h0M175.4 266.5h0" stroke="#111" stroke-width="1.10" stroke-linecap="round" fill="none" opacity="1"/>
<path d="M175.8 265.2 L174.2 270.7 L168.9 274.7 L167.5 278.8 L162.1 281.4 L134.7 282.9 L95.1 285.5 L30.9 286.1" fill="none" stroke="#111" stroke-width="1.8" stroke-linejoin="round" stroke-linecap="round" opacity="1"/>
<path d="M213.2 184.8 L225.0 185.7 L235.6 188.0 L246.2 191.1 L249.3 189.9 L253.8 187.0 L255.2 185.7" fill="none" stroke="#1e96ee" stroke-width="1.5" stroke-linejoin="round" stroke-linecap="round" opacity="1"/>
<path d="M217.5 188.4h0M220.2 188.9h0M222.2 189.3h0M225.3 189.9h0M227.7 190.3h0M230.0 190.9h0M232.4 191.7h0M235.0 192.4h0M237.6 192.7h0M240.2 193.1h0M242.4 193.6h0M244.9 194.5h0" stroke="#1e96ee" stroke-width="1.56" stroke-linecap="round" fill="none" opacity="1"/>
<path d="M218.5 189.9h0M221.1 190.4h0M224.4 191.0h0M227.2 191.2h0M230.1 191.7h0M233.2 192.6h0M236.0 193.5h0M239.1 193.8h0M242.4 194.8h0M245.6 195.0h0" stroke="#1e96ee" stroke-width="1.40" stroke-linecap="round" fill="none" opacity="1"/>
<path d="M219.1 190.9h0M221.5 191.5h0M224.2 192.2h0M226.3 192.8h0M229.2 193.2h0M231.4 193.9h0M233.7 194.3h0M236.1 194.7h0M239.0 195.0h0M241.2 195.7h0M243.7 195.7h0" stroke="#1e96ee" stroke-width="1.56" stroke-linecap="round" fill="none" opacity="1"/>
<path d="M219.7 192.1h0M222.9 192.3h0M226.2 193.5h0M229.1 193.9h0M231.5 194.4h0M234.9 195.1h0M237.8 195.3h0M241.2 196.3h0M243.9 196.8h0" stroke="#1e96ee" stroke-width="1.40" stroke-linecap="round" fill="none" opacity="1"/>
<path d="M214.3 197.9h0M216.8 197.8h0M219.6 198.2h0M222.0 198.1h0M224.9 198.2h0M227.0 198.6h0M229.6 198.9h0M232.0 199.4h0M234.9 199.3h0M237.4 199.4h0M239.5 199.8h0M242.4 200.4h0M244.8 200.8h0" stroke="#1e96ee" stroke-width="1.56" stroke-linecap="round" fill="none" opacity="1"/>
<path d="M215.0 198.9h0M218.2 198.9h0M221.7 199.0h0M224.2 199.2h0M227.4 199.5h0M230.2 199.7h0M233.4 200.0h0M236.7 200.1h0M239.6 201.0h0M242.5 201.3h0M246.0 201.5h0" stroke="#1e96ee" stroke-width="1.40" stroke-linecap="round" fill="none" opacity="1"/>
<path d="M221.9 200.1h0M224.4 200.1h0M227.4 200.7h0M229.9 201.3h0M232.2 201.5h0M234.5 201.8h0M237.2 202.7h0M239.6 202.8h0" stroke="#1e96ee" stroke-width="1.56" stroke-linecap="round" fill="none" opacity="1"/>
<path d="M223.1 200.9h0M225.8 201.5h0M228.5 202.0h0M231.4 202.6h0M234.1 202.4h0M237.2 202.9h0M239.6 203.6h0" stroke="#1e96ee" stroke-width="1.40" stroke-linecap="round" fill="none" opacity="1"/>
<path d="M219.3 205.7h0M222.4 206.2h0M225.3 206.7h0M228.1 206.9h0M231.3 207.4h0" stroke="#1e96ee" stroke-width="1.56" stroke-linecap="round" fill="none" opacity="1"/>
<path d="M219.9 206.6h0M223.3 207.0h0M226.7 207.5h0M230.7 208.4h0" stroke="#1e96ee" stroke-width="1.40" stroke-linecap="round" fill="none" opacity="1"/>
<path d="M215.7 210.2h0M219.3 211.0h0M222.2 211.3h0M225.7 210.9h0" stroke="#1e96ee" stroke-width="1.56" stroke-linecap="round" fill="none" opacity="1"/>
<path d="M217.1 211.5h0M220.9 211.6h0M223.9 212.4h0" stroke="#1e96ee" stroke-width="1.40" stroke-linecap="round" fill="none" opacity="1"/>
<path d="M216.3 215.2h0M219.3 215.5h0M222.5 215.6h0" stroke="#1e96ee" stroke-width="1.56" stroke-linecap="round" fill="none" opacity="1"/>
<path d="M217.1 216.3h0M220.7 216.0h0M223.7 216.9h0" stroke="#1e96ee" stroke-width="1.40" stroke-linecap="round" fill="none" opacity="1"/>
<path d="M214.7 219.2h0M217.6 220.1h0M221.0 220.7h0" stroke="#1e96ee" stroke-width="1.56" stroke-linecap="round" fill="none" opacity="1"/>
<path d="M215.8 220.4h0M219.4 221.4h0M222.3 221.7h0" stroke="#1e96ee" stroke-width="1.40" stroke-linecap="round" fill="none" opacity="1"/>
<path d="M252.0 190.6h0M251.6 188.0h0M250.9 189.2h0M254.5 189.4h0M255.1 187.3h0M253.0 188.1h0M254.1 191.4h0M255.3 188.8h0M255.0 188.2h0M247.5 193.7h0M254.0 190.9h0M254.4 187.1h0M253.9 186.9h0M255.0 187.4h0M245.7 193.3h0M254.0 188.3h0M248.4 194.5h0M253.0 191.5h0M253.9 190.4h0M252.8 188.2h0M249.4 190.1h0M248.3 189.9h0M248.1 194.0h0M251.1 189.1h0M252.7 188.0h0M253.6 186.9h0M253.3 189.0h0M249.8 193.8h0M252.1 192.3h0M251.8 192.0h0M249.2 195.3h0M249.2 190.8h0M250.3 188.0h0M254.2 189.1h0M253.2 190.3h0M251.5 189.8h0M248.7 189.9h0M250.4 189.5h0M249.0 194.7h0M253.0 189.8h0M252.6 192.1h0M250.8 189.0h0M247.1 193.1h0M252.7 188.6h0M253.1 192.6h0" stroke="#1e96ee" stroke-width="1.40" stroke-linecap="round" fill="none" opacity="1"/>
<path d="M217.3 241.3h0M216.8 246.6h0M216.4 208.7h0M220.0 232.0h0M218.4 218.5h0M215.9 211.2h0M218.9 227.0h0M217.7 219.3h0M216.5 243.4h0M218.5 235.3h0M215.5 257.3h0M218.3 235.3h0M215.7 249.6h0M217.1 245.7h0M216.4 244.4h0M217.2 242.6h0M215.8 211.3h0M216.6 208.4h0M218.0 218.1h0M218.5 238.3h0M215.8 212.0h0M215.6 210.6h0M218.0 222.2h0M217.1 215.0h0M216.5 213.1h0M218.1 241.1h0" stroke="#1e96ee" stroke-width="1.50" stroke-linecap="round" fill="none" opacity="1"/>
<path d="M214.6 268.2h0M214.3 268.1h0" stroke="#1e96ee" stroke-width="1.80" stroke-linecap="round" fill="none" opacity="1"/>
<path d="M214.5 271.0h0M214.5 271.1h0" stroke="#1e96ee" stroke-width="1.80" stroke-linecap="round" fill="none" opacity="1"/>
<path d="M215.1 256.7h0M214.9 256.4h0" stroke="#1e96ee" stroke-width="1.80" stroke-linecap="round" fill="none" opacity="1"/>
<path d="M215.8 207.9h0M215.8 207.7h0" stroke="#1e96ee" stroke-width="1.80" stroke-linecap="round" fill="none" opacity="1"/>
<path d="M213.2 278.3 L215.8 275.5 L218.6 273.9 L221.7 277.4 L231.8 278.3 L246.5 279.3 L260.9 278.3 L275.5 276.8 L289.9 275.5 L305.0 273.9 L314.0 272.0 L323.2 269.5 L332.1 266.3 L338.3 263.2 L340.2 262.5 L340.2 263.8 L338.3 265.7 L332.1 269.8 L323.2 273.3 L314.0 276.1 L305.0 277.7 L289.9 279.6 L275.5 280.9 L260.9 281.5 L246.5 282.4 L231.8 282.4 L221.7 282.4 L218.6 282.4 L215.8 282.4 L213.2 282.4Z" fill="#1e96ee" stroke="none" stroke-width="0" opacity="1"/>
<path d="M270.2 276.4h0M282.3 274.7h0M254.7 277.4h0M308.3 272.9h0M297.3 273.6h0M274.8 276.7h0M241.6 278.2h0M223.6 276.5h0M231.1 276.9h0M257.7 277.4h0M248.2 278.2h0M291.8 274.4h0M279.3 275.3h0M295.8 274.7h0M272.7 276.2h0M256.2 277.5h0M232.1 278.0h0M249.2 277.8h0M234.6 277.9h0M319.0 269.1h0M304.8 273.6h0M302.3 273.7h0M249.7 278.8h0M315.6 271.5h0M271.7 276.1h0M223.1 277.3h0M276.8 276.1h0M329.6 267.2h0M336.9 262.5h0M273.7 276.0h0M312.2 271.5h0M287.3 275.5h0M231.6 277.5h0M290.8 275.0h0M218.2 273.3h0M219.9 274.6h0M229.6 277.6h0M287.8 274.6h0M301.8 273.1h0M300.8 273.6h0M233.6 278.4h0M312.7 271.5h0M292.8 275.2h0M217.3 274.7h0M285.3 274.7h0M218.2 274.2h0M318.1 270.7h0M229.6 276.6h0M310.7 271.2h0M281.8 275.1h0M336.5 262.6h0M251.2 278.0h0M293.8 273.5h0M307.8 273.0h0M216.4 275.1h0M269.7 276.2h0M274.3 276.0h0M279.3 275.0h0M291.8 273.9h0M324.4 268.6h0M317.1 269.6h0M243.6 278.0h0M312.7 272.1h0M293.8 275.0h0M241.1 278.8h0M301.8 273.0h0M267.2 276.2h0M244.6 278.8h0M306.3 272.1h0M242.6 277.7h0M310.7 272.4h0M308.8 272.0h0M335.6 263.7h0M237.1 277.3h0M295.8 273.6h0M298.8 273.2h0M300.8 273.4h0M249.7 278.2h0M329.1 267.3h0M329.1 266.9h0M287.3 275.1h0M242.6 278.9h0M237.1 278.1h0M332.4 265.2h0M248.2 278.6h0M242.1 278.9h0M217.7 273.6h0M220.9 275.3h0M282.8 275.1h0M238.6 277.3h0M301.3 272.7h0M232.1 277.7h0M335.6 264.4h0M307.8 273.3h0M310.7 271.2h0M328.6 267.4h0M298.8 274.3h0M274.8 275.6h0M229.1 277.3h0M309.8 272.0h0M332.9 264.9h0M233.1 278.4h0M223.6 276.0h0M238.6 278.6h0M309.8 272.9h0M326.3 267.6h0M303.3 273.9h0M311.7 271.3h0M257.7 277.2h0M232.6 277.2h0M281.8 275.6h0M285.3 274.6h0M214.9 275.7h0M296.8 274.6h0M316.6 270.9h0M336.0 263.5h0M332.4 265.1h0M256.7 277.5h0M278.8 276.4h0M261.7 277.3h0M213.5 277.7h0M315.2 270.4h0M316.6 269.8h0M336.5 263.9h0M323.9 268.2h0M220.3 274.6h0M275.8 276.2h0M327.7 267.5h0M287.3 275.4h0M217.7 274.1h0M235.1 278.3h0M328.6 267.0h0M280.8 274.8h0M322.0 268.3h0M328.6 266.4h0M261.2 277.4h0M339.2 262.3h0M301.8 273.5h0M259.7 277.9h0M224.6 276.8h0M270.2 276.6h0M214.6 276.7h0M290.3 274.0h0M275.3 275.4h0M318.1 270.4h0M293.3 274.8h0M327.7 266.4h0M308.3 272.4h0M215.2 275.3h0M285.3 274.9h0M225.1 277.4h0M285.3 274.9h0M292.3 274.1h0M220.3 274.7h0M332.0 265.4h0M224.6 277.7h0M320.5 268.8h0M248.7 277.9h0M308.3 271.9h0M241.6 278.3h0M331.0 265.4h0M245.2 278.2h0M291.8 274.3h0M309.3 271.5h0M230.1 278.2h0M250.7 277.6h0M272.7 275.9h0M328.6 267.5h0M334.2 264.9h0M231.6 277.0h0M303.8 273.6h0M235.6 278.0h0M315.6 271.4h0M218.6 272.8h0M214.9 275.5h0M273.7 276.7h0M259.7 278.0h0M228.1 276.9h0M221.3 275.3h0M256.2 277.4h0M310.3 271.6h0M317.1 270.7h0M268.7 276.8h0M217.7 274.1h0M295.8 274.4h0M265.2 277.0h0M279.3 276.4h0M244.1 278.2h0M223.1 277.3h0M226.1 277.8h0M228.6 276.9h0M229.6 278.0h0M292.3 274.0h0M276.8 275.3h0M234.6 277.4h0M277.3 275.3h0M271.2 276.7h0M274.3 276.9h0M234.1 276.9h0M255.2 277.6h0" stroke="#1e96ee" stroke-width="1.20" stroke-linecap="round" fill="none" opacity="1"/>
<path d="M343.1 236.0h0M338.5 241.2h0M344.1 233.9h0M338.6 240.8h0M339.9 238.8h0M339.6 239.6h0M342.8 234.6h0M341.8 237.3h0M340.1 238.5h0M342.4 235.4h0M343.4 234.6h0M343.8 234.1h0M342.1 237.0h0M341.4 237.6h0" stroke="#1e96ee" stroke-width="1.50" stroke-linecap="round" fill="none" opacity="1"/>
<path d="M338.7 241.7 L340.6 237.9 L343.7 234.4" fill="none" stroke="#1e96ee" stroke-width="2.2" stroke-linejoin="round" stroke-linecap="round" opacity="1"/>
<path d="M255.4 181.3 L257.1 185.7 L259.9 192.1 L264.4 199.0 L270.1 207.2 L274.6 212.0 L279.0 216.4 L283.5 220.8 L288.0 225.2 L292.5 229.4 L297.2 233.5 L301.7 237.3 L306.2 240.7 L310.7 243.6 L315.1 246.1 L322.7 250.5 L330.0 254.6 L337.8 258.7 L346.3 262.9 L352.4 265.1 L359.0 267.3" fill="none" stroke="#f8962a" stroke-width="1.8" stroke-linejoin="round" stroke-linecap="round" opacity="0.6"/>
<path d="M311.5 246.0h0M339.5 258.5h0M287.0 226.5h0M263.9 201.4h0M326.7 253.0h0M277.4 213.8h0M359.4 266.6h0M281.6 218.6h0M305.5 238.4h0M268.2 204.3h0M258.1 185.9h0M354.3 264.9h0M350.9 265.2h0M308.4 242.4h0M262.4 195.0h0M320.2 250.8h0M333.0 254.8h0M263.7 198.1h0M315.2 246.7h0M303.3 239.5h0M316.2 246.5h0M348.9 263.6h0M347.0 261.8h0M310.0 244.0h0M304.2 240.6h0M300.2 235.5h0M262.6 196.0h0M322.5 250.1h0M258.7 192.4h0M355.0 265.7h0M314.1 245.9h0M286.3 223.1h0M343.5 260.2h0M269.8 204.1h0M279.1 216.1h0M256.9 182.2h0M255.3 183.7h0M359.3 267.4h0M279.6 218.1h0M357.1 265.5h0M259.9 193.9h0M318.7 249.2h0M259.1 187.7h0M290.1 226.2h0M268.5 205.3h0M311.0 243.6h0M261.5 195.0h0M258.4 187.1h0M323.6 250.5h0M260.4 192.5h0M321.2 249.6h0M286.9 224.9h0M342.3 261.0h0M352.6 265.7h0M320.7 250.3h0M344.4 262.7h0M257.3 186.8h0M274.4 210.4h0M260.1 192.5h0M346.1 263.0h0M269.6 205.3h0M271.7 208.2h0M356.7 265.7h0M334.9 258.5h0M261.8 195.1h0M298.6 235.3h0M309.0 243.1h0M330.3 254.8h0M325.0 251.7h0M303.6 237.1h0M323.8 252.4h0M301.5 235.9h0M269.9 207.8h0M258.6 185.9h0M308.1 244.0h0M307.9 241.8h0M262.6 193.9h0M270.3 206.7h0M300.1 236.3h0M278.6 218.1h0M341.9 260.0h0M261.5 195.4h0M354.2 264.3h0M282.4 220.9h0M318.2 247.8h0M318.0 247.7h0M265.0 202.1h0M340.0 259.9h0M300.5 234.6h0M326.7 253.4h0M261.2 194.1h0M332.9 257.4h0M314.7 245.9h0M341.2 258.6h0M258.7 190.0h0M341.7 260.7h0M308.6 242.3h0M265.0 201.6h0M357.1 267.5h0M267.7 201.3h0M265.5 199.2h0M310.3 243.6h0M328.7 253.9h0M318.4 246.2h0M299.9 238.0h0M283.8 220.5h0M340.7 259.7h0M292.9 229.6h0M289.1 226.7h0M270.0 207.1h0M301.7 236.3h0M254.8 181.2h0M354.4 266.2h0M354.5 265.3h0M260.5 195.8h0M333.4 257.3h0M325.1 253.2h0M331.7 256.4h0M338.5 257.8h0M265.8 203.2h0M283.7 222.3h0M289.0 225.2h0M352.3 265.7h0M273.2 209.9h0M266.2 200.2h0M345.7 262.9h0M303.3 238.1h0M315.5 247.5h0M346.7 261.4h0M287.9 223.2h0M286.5 224.5h0M282.7 220.3h0M326.6 252.8h0M256.2 182.2h0M341.9 262.0h0M276.5 215.5h0M314.0 243.4h0M350.7 264.9h0M297.5 233.6h0M255.8 183.2h0M321.5 251.3h0M328.5 252.4h0M353.6 264.3h0M287.3 226.6h0M309.0 242.4h0M264.9 199.4h0M291.0 227.4h0M335.3 258.3h0M283.7 220.2h0M300.7 236.2h0M302.1 237.4h0M333.7 255.6h0M301.0 235.7h0M315.5 247.8h0M359.0 266.9h0M280.2 219.0h0M323.2 250.7h0M279.3 218.1h0M270.0 207.1h0M270.1 208.1h0M315.8 246.5h0M352.2 265.4h0M256.9 187.0h0M332.2 256.6h0M273.8 212.3h0M315.3 246.1h0M341.3 259.9h0M309.9 245.0h0M337.1 257.6h0M357.9 266.9h0M355.6 266.2h0M308.9 243.1h0M255.4 182.3h0M258.1 186.2h0M264.5 199.0h0M270.0 207.7h0M257.1 184.9h0M294.4 229.3h0M354.1 266.2h0M298.5 233.2h0M297.0 232.4h0M290.9 225.6h0M300.9 239.0h0M275.4 210.8h0M261.5 194.7h0M290.2 228.3h0M288.7 227.0h0M277.9 215.3h0M263.5 199.4h0M297.6 233.9h0M330.0 256.0h0M347.4 262.5h0M347.4 262.3h0M355.9 267.0h0M341.1 259.6h0M312.6 245.8h0M336.8 258.1h0M256.7 187.4h0M266.5 200.9h0M290.1 226.8h0M270.5 209.0h0M295.7 232.6h0M345.7 261.9h0M293.4 229.9h0M355.2 265.9h0M353.7 265.7h0M265.2 200.7h0M268.7 203.7h0M317.0 245.9h0M311.3 244.7h0M288.5 225.9h0M275.4 211.9h0M337.0 257.6h0M274.2 211.6h0M354.0 264.7h0M309.7 244.1h0M298.5 232.8h0M256.0 181.8h0M302.9 240.0h0M262.1 197.5h0M336.0 257.9h0M283.7 220.0h0M338.5 260.2h0M260.4 193.7h0M301.7 236.1h0M335.5 256.8h0M263.4 197.0h0M272.7 209.9h0M281.1 219.5h0M353.3 263.8h0M264.3 197.6h0M308.6 242.9h0M281.3 217.6h0M275.9 215.2h0M283.6 221.4h0M352.7 265.7h0M261.8 194.2h0M307.3 241.0h0M284.9 221.0h0M342.0 261.4h0M298.9 236.6h0M299.3 233.3h0M275.7 212.9h0M338.3 259.9h0M342.8 261.0h0M273.6 213.1h0M356.4 266.2h0M297.4 231.9h0M329.2 253.3h0M265.9 200.9h0M345.6 260.7h0M335.7 258.1h0M306.1 240.2h0M265.2 200.6h0M299.9 236.0h0M284.9 220.6h0M285.2 223.2h0M307.8 242.6h0M258.8 192.3h0M327.2 252.0h0M257.1 187.6h0M334.5 257.0h0M300.5 236.2h0M279.5 218.6h0M330.2 253.8h0M262.3 195.9h0M344.3 261.9h0M262.6 194.9h0M301.5 237.1h0M288.2 223.5h0M271.8 209.1h0M264.9 198.8h0M311.8 243.9h0M257.1 188.3h0M300.6 236.8h0M322.2 250.0h0M260.0 188.0h0M289.0 226.5h0M280.3 218.5h0M287.2 223.9h0M311.4 244.1h0M342.9 261.4h0M319.6 248.3h0M333.1 254.7h0M325.3 251.2h0M284.6 220.6h0M295.4 231.7h0M284.9 221.4h0M278.0 217.1h0M282.7 220.7h0M283.5 223.0h0M270.0 207.0h0M347.9 262.9h0M338.0 257.7h0M279.7 215.2h0M351.1 265.0h0M273.1 209.6h0M266.5 202.5h0M261.0 192.5h0M269.9 205.1h0M353.2 264.5h0M261.3 192.4h0M257.0 182.9h0M272.2 211.0h0M306.7 241.6h0M257.3 187.0h0M265.7 198.9h0M288.2 226.5h0M259.9 191.1h0M336.7 258.4h0M260.7 194.4h0M323.8 251.5h0M344.1 261.6h0M269.3 204.3h0M281.3 216.7h0M316.3 247.1h0M298.0 234.6h0M280.3 215.8h0M255.1 181.9h0M261.4 191.3h0M293.2 230.6h0M289.5 227.5h0M319.7 250.3h0M347.8 264.7h0M345.6 262.7h0M326.3 253.9h0M296.4 233.4h0M339.0 259.9h0M353.9 265.3h0M325.6 252.5h0" stroke="#f8962a" stroke-width="1.50" stroke-linecap="round" fill="none" opacity="1"/>
<path d="M30.90 8.40H181.50V133.80H30.90Z" fill="none" stroke="#a4a4a4" stroke-width="1.1"/>
<path d="M213.40 8.50H364.60V133.80H213.40Z" fill="none" stroke="#a4a4a4" stroke-width="1.1"/>
<path d="M393.40 8.10H545.30V133.50H393.40Z" fill="none" stroke="#a4a4a4" stroke-width="1.1"/>
<path d="M30.90 161.40H182.70V287.40H30.90Z" fill="none" stroke="#a4a4a4" stroke-width="1.1"/>
<path d="M213.20 161.10H365.40V287.50H213.20Z" fill="none" stroke="#a4a4a4" stroke-width="1.1"/>
<path d="M393.30 161.30H545.50V287.40H393.30Z" fill="none" stroke="#a4a4a4" stroke-width="1.1"/>
<text x="27.70" y="136.20" font-size="7.4" text-anchor="end" fill="#333" textLength="3.45" lengthAdjust="spacingAndGlyphs">0</text>
<line x1="29.30" y1="133.80" x2="30.90" y2="133.80" stroke="#666" stroke-width="0.8"/>
<text x="27.70" y="122.27" font-size="7.4" text-anchor="end" fill="#333" textLength="6.90" lengthAdjust="spacingAndGlyphs">10</text>
<line x1="29.30" y1="119.87" x2="30.90" y2="119.87" stroke="#666" stroke-width="0.8"/>
<text x="27.70" y="108.33" font-size="7.4" text-anchor="end" fill="#333" textLength="6.90" lengthAdjust="spacingAndGlyphs">20</text>
<line x1="29.30" y1="105.93" x2="30.90" y2="105.93" stroke="#666" stroke-width="0.8"/>
<text x="27.70" y="94.40" font-size="7.4" text-anchor="end" fill="#333" textLength="6.90" lengthAdjust="spacingAndGlyphs">30</text>
<line x1="29.30" y1="92.00" x2="30.90" y2="92.00" stroke="#666" stroke-width="0.8"/>
<text x="27.70" y="80.47" font-size="7.4" text-anchor="end" fill="#333" textLength="6.90" lengthAdjust="spacingAndGlyphs">40</text>
<line x1="29.30" y1="78.07" x2="30.90" y2="78.07" stroke="#666" stroke-width="0.8"/>
<text x="27.70" y="66.53" font-size="7.4" text-anchor="end" fill="#333" textLength="6.90" lengthAdjust="spacingAndGlyphs">50</text>
<line x1="29.30" y1="64.13" x2="30.90" y2="64.13" stroke="#666" stroke-width="0.8"/>
<text x="27.70" y="52.60" font-size="7.4" text-anchor="end" fill="#333" textLength="6.90" lengthAdjust="spacingAndGlyphs">60</text>
<line x1="29.30" y1="50.20" x2="30.90" y2="50.20" stroke="#666" stroke-width="0.8"/>
<text x="27.70" y="38.67" font-size="7.4" text-anchor="end" fill="#333" textLength="6.90" lengthAdjust="spacingAndGlyphs">70</text>
<line x1="29.30" y1="36.27" x2="30.90" y2="36.27" stroke="#666" stroke-width="0.8"/>
<text x="27.70" y="24.73" font-size="7.4" text-anchor="end" fill="#333" textLength="6.90" lengthAdjust="spacingAndGlyphs">80</text>
<line x1="29.30" y1="22.33" x2="30.90" y2="22.33" stroke="#666" stroke-width="0.8"/>
<text x="27.70" y="10.80" font-size="7.4" text-anchor="end" fill="#333" textLength="6.90" lengthAdjust="spacingAndGlyphs">90</text>
<line x1="29.30" y1="8.40" x2="30.90" y2="8.40" stroke="#666" stroke-width="0.8"/>
<line x1="29.70" y1="126.83" x2="30.90" y2="126.83" stroke="#777" stroke-width="0.6"/>
<line x1="29.70" y1="112.90" x2="30.90" y2="112.90" stroke="#777" stroke-width="0.6"/>
<line x1="29.70" y1="98.97" x2="30.90" y2="98.97" stroke="#777" stroke-width="0.6"/>
<line x1="29.70" y1="85.03" x2="30.90" y2="85.03" stroke="#777" stroke-width="0.6"/>
<line x1="29.70" y1="71.10" x2="30.90" y2="71.10" stroke="#777" stroke-width="0.6"/>
<line x1="29.70" y1="57.17" x2="30.90" y2="57.17" stroke="#777" stroke-width="0.6"/>
<line x1="29.70" y1="43.23" x2="30.90" y2="43.23" stroke="#777" stroke-width="0.6"/>
<line x1="29.70" y1="29.30" x2="30.90" y2="29.30" stroke="#777" stroke-width="0.6"/>
<line x1="29.70" y1="15.37" x2="30.90" y2="15.37" stroke="#777" stroke-width="0.6"/>
<text x="30.90" y="144.10" font-size="6.9" text-anchor="middle" fill="#333" textLength="8.25" lengthAdjust="spacingAndGlyphs">0.0</text>
<line x1="30.90" y1="133.80" x2="30.90" y2="135.40" stroke="#666" stroke-width="0.8"/>
<text x="49.72" y="144.10" font-size="6.9" text-anchor="middle" fill="#333" textLength="8.25" lengthAdjust="spacingAndGlyphs">0.1</text>
<line x1="49.72" y1="133.80" x2="49.72" y2="135.40" stroke="#666" stroke-width="0.8"/>
<text x="68.55" y="144.10" font-size="6.9" text-anchor="middle" fill="#333" textLength="8.25" lengthAdjust="spacingAndGlyphs">0.2</text>
<line x1="68.55" y1="133.80" x2="68.55" y2="135.40" stroke="#666" stroke-width="0.8"/>
<text x="87.37" y="144.10" font-size="6.9" text-anchor="middle" fill="#333" textLength="8.25" lengthAdjust="spacingAndGlyphs">0.3</text>
<line x1="87.37" y1="133.80" x2="87.37" y2="135.40" stroke="#666" stroke-width="0.8"/>
<text x="106.20" y="144.10" font-size="6.9" text-anchor="middle" fill="#333" textLength="8.25" lengthAdjust="spacingAndGlyphs">0.4</text>
<line x1="106.20" y1="133.80" x2="106.20" y2="135.40" stroke="#666" stroke-width="0.8"/>
<text x="125.03" y="144.10" font-size="6.9" text-anchor="middle" fill="#333" textLength="8.25" lengthAdjust="spacingAndGlyphs">0.5</text>
<line x1="125.03" y1="133.80" x2="125.03" y2="135.40" stroke="#666" stroke-width="0.8"/>
<text x="143.85" y="144.10" font-size="6.9" text-anchor="middle" fill="#333" textLength="8.25" lengthAdjust="spacingAndGlyphs">0.6</text>
<line x1="143.85" y1="133.80" x2="143.85" y2="135.40" stroke="#666" stroke-width="0.8"/>
<text x="162.67" y="144.10" font-size="6.9" text-anchor="middle" fill="#333" textLength="8.25" lengthAdjust="spacingAndGlyphs">0.7</text>
<line x1="162.67" y1="133.80" x2="162.67" y2="135.40" stroke="#666" stroke-width="0.8"/>
<text x="181.50" y="144.10" font-size="6.9" text-anchor="middle" fill="#333" textLength="8.25" lengthAdjust="spacingAndGlyphs">0.8</text>
<line x1="181.50" y1="133.80" x2="181.50" y2="135.40" stroke="#666" stroke-width="0.8"/>
<line x1="40.31" y1="133.80" x2="40.31" y2="135.00" stroke="#777" stroke-width="0.6"/>
<line x1="59.14" y1="133.80" x2="59.14" y2="135.00" stroke="#777" stroke-width="0.6"/>
<line x1="77.96" y1="133.80" x2="77.96" y2="135.00" stroke="#777" stroke-width="0.6"/>
<line x1="96.79" y1="133.80" x2="96.79" y2="135.00" stroke="#777" stroke-width="0.6"/>
<line x1="115.61" y1="133.80" x2="115.61" y2="135.00" stroke="#777" stroke-width="0.6"/>
<line x1="134.44" y1="133.80" x2="134.44" y2="135.00" stroke="#777" stroke-width="0.6"/>
<line x1="153.26" y1="133.80" x2="153.26" y2="135.00" stroke="#777" stroke-width="0.6"/>
<line x1="172.09" y1="133.80" x2="172.09" y2="135.00" stroke="#777" stroke-width="0.6"/>
<text x="106.20" y="154.80" font-size="8.6" text-anchor="middle" fill="#333" textLength="48.00" lengthAdjust="spacingAndGlyphs">Advance ratio μ</text>
<text x="209.80" y="136.20" font-size="7.4" text-anchor="end" fill="#333" textLength="3.40" lengthAdjust="spacingAndGlyphs">0</text>
<line x1="211.80" y1="133.80" x2="213.40" y2="133.80" stroke="#666" stroke-width="0.8"/>
<text x="209.80" y="107.72" font-size="7.4" text-anchor="end" fill="#333" textLength="3.40" lengthAdjust="spacingAndGlyphs">5</text>
<line x1="211.80" y1="105.32" x2="213.40" y2="105.32" stroke="#666" stroke-width="0.8"/>
<text x="209.80" y="79.25" font-size="7.4" text-anchor="end" fill="#333" textLength="6.80" lengthAdjust="spacingAndGlyphs">10</text>
<line x1="211.80" y1="76.85" x2="213.40" y2="76.85" stroke="#666" stroke-width="0.8"/>
<text x="209.80" y="50.77" font-size="7.4" text-anchor="end" fill="#333" textLength="6.80" lengthAdjust="spacingAndGlyphs">15</text>
<line x1="211.80" y1="48.37" x2="213.40" y2="48.37" stroke="#666" stroke-width="0.8"/>
<text x="209.80" y="22.29" font-size="7.4" text-anchor="end" fill="#333" textLength="6.80" lengthAdjust="spacingAndGlyphs">20</text>
<line x1="211.80" y1="19.89" x2="213.40" y2="19.89" stroke="#666" stroke-width="0.8"/>
<line x1="212.20" y1="128.10" x2="213.40" y2="128.10" stroke="#777" stroke-width="0.6"/>
<line x1="212.20" y1="122.41" x2="213.40" y2="122.41" stroke="#777" stroke-width="0.6"/>
<line x1="212.20" y1="116.71" x2="213.40" y2="116.71" stroke="#777" stroke-width="0.6"/>
<line x1="212.20" y1="111.02" x2="213.40" y2="111.02" stroke="#777" stroke-width="0.6"/>
<line x1="212.20" y1="99.63" x2="213.40" y2="99.63" stroke="#777" stroke-width="0.6"/>
<line x1="212.20" y1="93.93" x2="213.40" y2="93.93" stroke="#777" stroke-width="0.6"/>
<line x1="212.20" y1="88.24" x2="213.40" y2="88.24" stroke="#777" stroke-width="0.6"/>
<line x1="212.20" y1="82.54" x2="213.40" y2="82.54" stroke="#777" stroke-width="0.6"/>
<line x1="212.20" y1="71.15" x2="213.40" y2="71.15" stroke="#777" stroke-width="0.6"/>
<line x1="212.20" y1="65.45" x2="213.40" y2="65.45" stroke="#777" stroke-width="0.6"/>
<line x1="212.20" y1="59.76" x2="213.40" y2="59.76" stroke="#777" stroke-width="0.6"/>
<line x1="212.20" y1="54.06" x2="213.40" y2="54.06" stroke="#777" stroke-width="0.6"/>
<line x1="212.20" y1="42.67" x2="213.40" y2="42.67" stroke="#777" stroke-width="0.6"/>
<line x1="212.20" y1="36.98" x2="213.40" y2="36.98" stroke="#777" stroke-width="0.6"/>
<line x1="212.20" y1="31.28" x2="213.40" y2="31.28" stroke="#777" stroke-width="0.6"/>
<line x1="212.20" y1="25.59" x2="213.40" y2="25.59" stroke="#777" stroke-width="0.6"/>
<line x1="212.20" y1="14.20" x2="213.40" y2="14.20" stroke="#777" stroke-width="0.6"/>
<line x1="212.20" y1="8.50" x2="213.40" y2="8.50" stroke="#777" stroke-width="0.6"/>
<text x="213.40" y="143.90" font-size="7.0" text-anchor="middle" fill="#333" textLength="7.38" lengthAdjust="spacingAndGlyphs">0.0</text>
<line x1="213.40" y1="133.80" x2="213.40" y2="135.40" stroke="#666" stroke-width="0.8"/>
<text x="237.79" y="143.90" font-size="7.0" text-anchor="middle" fill="#333" textLength="7.38" lengthAdjust="spacingAndGlyphs">0.1</text>
<line x1="237.79" y1="133.80" x2="237.79" y2="135.40" stroke="#666" stroke-width="0.8"/>
<text x="262.17" y="143.90" font-size="7.0" text-anchor="middle" fill="#333" textLength="7.38" lengthAdjust="spacingAndGlyphs">0.2</text>
<line x1="262.17" y1="133.80" x2="262.17" y2="135.40" stroke="#666" stroke-width="0.8"/>
<text x="286.56" y="143.90" font-size="7.0" text-anchor="middle" fill="#333" textLength="7.38" lengthAdjust="spacingAndGlyphs">0.3</text>
<line x1="286.56" y1="133.80" x2="286.56" y2="135.40" stroke="#666" stroke-width="0.8"/>
<text x="310.95" y="143.90" font-size="7.0" text-anchor="middle" fill="#333" textLength="7.38" lengthAdjust="spacingAndGlyphs">0.4</text>
<line x1="310.95" y1="133.80" x2="310.95" y2="135.40" stroke="#666" stroke-width="0.8"/>
<text x="335.34" y="143.90" font-size="7.0" text-anchor="middle" fill="#333" textLength="7.38" lengthAdjust="spacingAndGlyphs">0.5</text>
<line x1="335.34" y1="133.80" x2="335.34" y2="135.40" stroke="#666" stroke-width="0.8"/>
<text x="359.72" y="143.90" font-size="7.0" text-anchor="middle" fill="#333" textLength="7.38" lengthAdjust="spacingAndGlyphs">0.6</text>
<line x1="359.72" y1="133.80" x2="359.72" y2="135.40" stroke="#666" stroke-width="0.8"/>
<line x1="225.59" y1="133.80" x2="225.59" y2="135.00" stroke="#777" stroke-width="0.6"/>
<line x1="249.98" y1="133.80" x2="249.98" y2="135.00" stroke="#777" stroke-width="0.6"/>
<line x1="274.37" y1="133.80" x2="274.37" y2="135.00" stroke="#777" stroke-width="0.6"/>
<line x1="298.75" y1="133.80" x2="298.75" y2="135.00" stroke="#777" stroke-width="0.6"/>
<line x1="323.14" y1="133.80" x2="323.14" y2="135.00" stroke="#777" stroke-width="0.6"/>
<line x1="347.53" y1="133.80" x2="347.53" y2="135.00" stroke="#777" stroke-width="0.6"/>
<text x="289.00" y="154.80" font-size="8.6" text-anchor="middle" fill="#333" textLength="48.00" lengthAdjust="spacingAndGlyphs">Advance ratio μ</text>
<text x="391.90" y="107.60" font-size="9.0" text-anchor="end" fill="#333" textLength="3.95" lengthAdjust="spacingAndGlyphs">5</text>
<line x1="391.80" y1="105.00" x2="393.40" y2="105.00" stroke="#666" stroke-width="0.8"/>
<text x="391.90" y="79.10" font-size="9.0" text-anchor="end" fill="#333" textLength="7.90" lengthAdjust="spacingAndGlyphs">10</text>
<line x1="391.80" y1="76.50" x2="393.40" y2="76.50" stroke="#666" stroke-width="0.8"/>
<text x="391.90" y="50.60" font-size="9.0" text-anchor="end" fill="#333" textLength="7.90" lengthAdjust="spacingAndGlyphs">15</text>
<line x1="391.80" y1="48.00" x2="393.40" y2="48.00" stroke="#666" stroke-width="0.8"/>
<text x="391.90" y="22.10" font-size="9.0" text-anchor="end" fill="#333" textLength="7.90" lengthAdjust="spacingAndGlyphs">20</text>
<line x1="391.80" y1="19.50" x2="393.40" y2="19.50" stroke="#666" stroke-width="0.8"/>
<line x1="392.20" y1="127.80" x2="393.40" y2="127.80" stroke="#777" stroke-width="0.6"/>
<line x1="392.20" y1="122.10" x2="393.40" y2="122.10" stroke="#777" stroke-width="0.6"/>
<line x1="392.20" y1="116.40" x2="393.40" y2="116.40" stroke="#777" stroke-width="0.6"/>
<line x1="392.20" y1="110.70" x2="393.40" y2="110.70" stroke="#777" stroke-width="0.6"/>
<line x1="392.20" y1="99.30" x2="393.40" y2="99.30" stroke="#777" stroke-width="0.6"/>
<line x1="392.20" y1="93.60" x2="393.40" y2="93.60" stroke="#777" stroke-width="0.6"/>
<line x1="392.20" y1="87.90" x2="393.40" y2="87.90" stroke="#777" stroke-width="0.6"/>
<line x1="392.20" y1="82.20" x2="393.40" y2="82.20" stroke="#777" stroke-width="0.6"/>
<line x1="392.20" y1="70.80" x2="393.40" y2="70.80" stroke="#777" stroke-width="0.6"/>
<line x1="392.20" y1="65.10" x2="393.40" y2="65.10" stroke="#777" stroke-width="0.6"/>
<line x1="392.20" y1="59.40" x2="393.40" y2="59.40" stroke="#777" stroke-width="0.6"/>
<line x1="392.20" y1="53.70" x2="393.40" y2="53.70" stroke="#777" stroke-width="0.6"/>
<line x1="392.20" y1="42.30" x2="393.40" y2="42.30" stroke="#777" stroke-width="0.6"/>
<line x1="392.20" y1="36.60" x2="393.40" y2="36.60" stroke="#777" stroke-width="0.6"/>
<line x1="392.20" y1="30.90" x2="393.40" y2="30.90" stroke="#777" stroke-width="0.6"/>
<line x1="392.20" y1="25.20" x2="393.40" y2="25.20" stroke="#777" stroke-width="0.6"/>
<line x1="392.20" y1="13.80" x2="393.40" y2="13.80" stroke="#777" stroke-width="0.6"/>
<line x1="392.20" y1="8.10" x2="393.40" y2="8.10" stroke="#777" stroke-width="0.6"/>
<text x="393.40" y="144.20" font-size="9.0" text-anchor="middle" fill="#333" textLength="10.75" lengthAdjust="spacingAndGlyphs">0.0</text>
<line x1="393.40" y1="133.50" x2="393.40" y2="135.10" stroke="#666" stroke-width="0.8"/>
<text x="417.82" y="144.20" font-size="9.0" text-anchor="middle" fill="#333" textLength="10.75" lengthAdjust="spacingAndGlyphs">0.1</text>
<line x1="417.82" y1="133.50" x2="417.82" y2="135.10" stroke="#666" stroke-width="0.8"/>
<text x="442.24" y="144.20" font-size="9.0" text-anchor="middle" fill="#333" textLength="10.75" lengthAdjust="spacingAndGlyphs">0.2</text>
<line x1="442.24" y1="133.50" x2="442.24" y2="135.10" stroke="#666" stroke-width="0.8"/>
<text x="466.66" y="144.20" font-size="9.0" text-anchor="middle" fill="#333" textLength="10.75" lengthAdjust="spacingAndGlyphs">0.3</text>
<line x1="466.66" y1="133.50" x2="466.66" y2="135.10" stroke="#666" stroke-width="0.8"/>
<text x="491.08" y="144.20" font-size="9.0" text-anchor="middle" fill="#333" textLength="10.75" lengthAdjust="spacingAndGlyphs">0.4</text>
<line x1="491.08" y1="133.50" x2="491.08" y2="135.10" stroke="#666" stroke-width="0.8"/>
<text x="515.51" y="144.20" font-size="9.0" text-anchor="middle" fill="#333" textLength="10.75" lengthAdjust="spacingAndGlyphs">0.5</text>
<line x1="515.51" y1="133.50" x2="515.51" y2="135.10" stroke="#666" stroke-width="0.8"/>
<text x="539.93" y="144.20" font-size="9.0" text-anchor="middle" fill="#333" textLength="10.75" lengthAdjust="spacingAndGlyphs">0.6</text>
<line x1="539.93" y1="133.50" x2="539.93" y2="135.10" stroke="#666" stroke-width="0.8"/>
<text x="469.40" y="155.50" font-size="9.4" text-anchor="middle" fill="#333" textLength="53.50" lengthAdjust="spacingAndGlyphs">Advance ratio μ</text>
<text x="27.50" y="290.20" font-size="8.2" text-anchor="end" fill="#333" textLength="12.42" lengthAdjust="spacingAndGlyphs">0.00</text>
<line x1="29.30" y1="287.40" x2="30.90" y2="287.40" stroke="#666" stroke-width="0.8"/>
<text x="27.50" y="269.20" font-size="8.2" text-anchor="end" fill="#333" textLength="12.42" lengthAdjust="spacingAndGlyphs">0.02</text>
<line x1="29.30" y1="266.40" x2="30.90" y2="266.40" stroke="#666" stroke-width="0.8"/>
<text x="27.50" y="248.20" font-size="8.2" text-anchor="end" fill="#333" textLength="12.42" lengthAdjust="spacingAndGlyphs">0.04</text>
<line x1="29.30" y1="245.40" x2="30.90" y2="245.40" stroke="#666" stroke-width="0.8"/>
<text x="27.50" y="227.20" font-size="8.2" text-anchor="end" fill="#333" textLength="12.42" lengthAdjust="spacingAndGlyphs">0.06</text>
<line x1="29.30" y1="224.40" x2="30.90" y2="224.40" stroke="#666" stroke-width="0.8"/>
<text x="27.50" y="206.20" font-size="8.2" text-anchor="end" fill="#333" textLength="12.42" lengthAdjust="spacingAndGlyphs">0.08</text>
<line x1="29.30" y1="203.40" x2="30.90" y2="203.40" stroke="#666" stroke-width="0.8"/>
<text x="27.50" y="185.20" font-size="8.2" text-anchor="end" fill="#333" textLength="12.42" lengthAdjust="spacingAndGlyphs">0.10</text>
<line x1="29.30" y1="182.40" x2="30.90" y2="182.40" stroke="#666" stroke-width="0.8"/>
<text x="27.50" y="164.20" font-size="8.2" text-anchor="end" fill="#333" textLength="12.42" lengthAdjust="spacingAndGlyphs">0.12</text>
<line x1="29.30" y1="161.40" x2="30.90" y2="161.40" stroke="#666" stroke-width="0.8"/>
<line x1="29.70" y1="276.90" x2="30.90" y2="276.90" stroke="#777" stroke-width="0.6"/>
<line x1="29.70" y1="255.90" x2="30.90" y2="255.90" stroke="#777" stroke-width="0.6"/>
<line x1="29.70" y1="234.90" x2="30.90" y2="234.90" stroke="#777" stroke-width="0.6"/>
<line x1="29.70" y1="213.90" x2="30.90" y2="213.90" stroke="#777" stroke-width="0.6"/>
<line x1="29.70" y1="192.90" x2="30.90" y2="192.90" stroke="#777" stroke-width="0.6"/>
<line x1="29.70" y1="171.90" x2="30.90" y2="171.90" stroke="#777" stroke-width="0.6"/>
<text x="30.90" y="297.70" font-size="7.6" text-anchor="middle" fill="#333" textLength="7.62" lengthAdjust="spacingAndGlyphs">0.0</text>
<line x1="30.90" y1="287.40" x2="30.90" y2="289.00" stroke="#666" stroke-width="0.8"/>
<text x="51.14" y="297.70" font-size="7.6" text-anchor="middle" fill="#333" textLength="7.62" lengthAdjust="spacingAndGlyphs">0.1</text>
<line x1="51.14" y1="287.40" x2="51.14" y2="289.00" stroke="#666" stroke-width="0.8"/>
<text x="71.38" y="297.70" font-size="7.6" text-anchor="middle" fill="#333" textLength="7.62" lengthAdjust="spacingAndGlyphs">0.2</text>
<line x1="71.38" y1="287.40" x2="71.38" y2="289.00" stroke="#666" stroke-width="0.8"/>
<text x="91.62" y="297.70" font-size="7.6" text-anchor="middle" fill="#333" textLength="7.62" lengthAdjust="spacingAndGlyphs">0.3</text>
<line x1="91.62" y1="287.40" x2="91.62" y2="289.00" stroke="#666" stroke-width="0.8"/>
<text x="111.86" y="297.70" font-size="7.6" text-anchor="middle" fill="#333" textLength="7.62" lengthAdjust="spacingAndGlyphs">0.4</text>
<line x1="111.86" y1="287.40" x2="111.86" y2="289.00" stroke="#666" stroke-width="0.8"/>
<text x="132.10" y="297.70" font-size="7.6" text-anchor="middle" fill="#333" textLength="7.62" lengthAdjust="spacingAndGlyphs">0.5</text>
<line x1="132.10" y1="287.40" x2="132.10" y2="289.00" stroke="#666" stroke-width="0.8"/>
<text x="152.34" y="297.70" font-size="7.6" text-anchor="middle" fill="#333" textLength="7.62" lengthAdjust="spacingAndGlyphs">0.6</text>
<line x1="152.34" y1="287.40" x2="152.34" y2="289.00" stroke="#666" stroke-width="0.8"/>
<text x="172.58" y="297.70" font-size="7.6" text-anchor="middle" fill="#333" textLength="7.62" lengthAdjust="spacingAndGlyphs">0.7</text>
<line x1="172.58" y1="287.40" x2="172.58" y2="289.00" stroke="#666" stroke-width="0.8"/>
<line x1="41.02" y1="287.40" x2="41.02" y2="288.60" stroke="#777" stroke-width="0.6"/>
<line x1="61.26" y1="287.40" x2="61.26" y2="288.60" stroke="#777" stroke-width="0.6"/>
<line x1="81.50" y1="287.40" x2="81.50" y2="288.60" stroke="#777" stroke-width="0.6"/>
<line x1="101.74" y1="287.40" x2="101.74" y2="288.60" stroke="#777" stroke-width="0.6"/>
<line x1="121.98" y1="287.40" x2="121.98" y2="288.60" stroke="#777" stroke-width="0.6"/>
<line x1="142.22" y1="287.40" x2="142.22" y2="288.60" stroke="#777" stroke-width="0.6"/>
<line x1="162.46" y1="287.40" x2="162.46" y2="288.60" stroke="#777" stroke-width="0.6"/>
<text x="106.80" y="308.00" font-size="8.6" text-anchor="middle" fill="#333" textLength="48.00" lengthAdjust="spacingAndGlyphs">Advance ratio μ</text>
<text x="210.20" y="290.30" font-size="8.0" text-anchor="end" fill="#333" textLength="12.53" lengthAdjust="spacingAndGlyphs">0.00</text>
<line x1="211.60" y1="287.50" x2="213.20" y2="287.50" stroke="#666" stroke-width="0.8"/>
<text x="210.20" y="258.70" font-size="8.0" text-anchor="end" fill="#333" textLength="12.53" lengthAdjust="spacingAndGlyphs">0.01</text>
<line x1="211.60" y1="255.90" x2="213.20" y2="255.90" stroke="#666" stroke-width="0.8"/>
<text x="210.20" y="227.10" font-size="8.0" text-anchor="end" fill="#333" textLength="12.53" lengthAdjust="spacingAndGlyphs">0.02</text>
<line x1="211.60" y1="224.30" x2="213.20" y2="224.30" stroke="#666" stroke-width="0.8"/>
<text x="210.20" y="195.50" font-size="8.0" text-anchor="end" fill="#333" textLength="12.53" lengthAdjust="spacingAndGlyphs">0.03</text>
<line x1="211.60" y1="192.70" x2="213.20" y2="192.70" stroke="#666" stroke-width="0.8"/>
<text x="210.20" y="163.90" font-size="8.0" text-anchor="end" fill="#333" textLength="12.53" lengthAdjust="spacingAndGlyphs">0.04</text>
<line x1="211.60" y1="161.10" x2="213.20" y2="161.10" stroke="#666" stroke-width="0.8"/>
<line x1="212.00" y1="271.70" x2="213.20" y2="271.70" stroke="#777" stroke-width="0.6"/>
<line x1="212.00" y1="240.10" x2="213.20" y2="240.10" stroke="#777" stroke-width="0.6"/>
<line x1="212.00" y1="208.50" x2="213.20" y2="208.50" stroke="#777" stroke-width="0.6"/>
<line x1="212.00" y1="176.90" x2="213.20" y2="176.90" stroke="#777" stroke-width="0.6"/>
<text x="213.20" y="297.60" font-size="7.8" text-anchor="middle" fill="#333" textLength="8.75" lengthAdjust="spacingAndGlyphs">0.0</text>
<line x1="213.20" y1="287.50" x2="213.20" y2="289.10" stroke="#666" stroke-width="0.8"/>
<text x="236.80" y="297.60" font-size="7.8" text-anchor="middle" fill="#333" textLength="8.75" lengthAdjust="spacingAndGlyphs">0.1</text>
<line x1="236.80" y1="287.50" x2="236.80" y2="289.10" stroke="#666" stroke-width="0.8"/>
<text x="260.39" y="297.60" font-size="7.8" text-anchor="middle" fill="#333" textLength="8.75" lengthAdjust="spacingAndGlyphs">0.2</text>
<line x1="260.39" y1="287.50" x2="260.39" y2="289.10" stroke="#666" stroke-width="0.8"/>
<text x="283.99" y="297.60" font-size="7.8" text-anchor="middle" fill="#333" textLength="8.75" lengthAdjust="spacingAndGlyphs">0.3</text>
<line x1="283.99" y1="287.50" x2="283.99" y2="289.10" stroke="#666" stroke-width="0.8"/>
<text x="307.59" y="297.60" font-size="7.8" text-anchor="middle" fill="#333" textLength="8.75" lengthAdjust="spacingAndGlyphs">0.4</text>
<line x1="307.59" y1="287.50" x2="307.59" y2="289.10" stroke="#666" stroke-width="0.8"/>
<text x="331.18" y="297.60" font-size="7.8" text-anchor="middle" fill="#333" textLength="8.75" lengthAdjust="spacingAndGlyphs">0.5</text>
<line x1="331.18" y1="287.50" x2="331.18" y2="289.10" stroke="#666" stroke-width="0.8"/>
<text x="354.78" y="297.60" font-size="7.8" text-anchor="middle" fill="#333" textLength="8.75" lengthAdjust="spacingAndGlyphs">0.6</text>
<line x1="354.78" y1="287.50" x2="354.78" y2="289.10" stroke="#666" stroke-width="0.8"/>
<line x1="225.00" y1="287.50" x2="225.00" y2="288.70" stroke="#777" stroke-width="0.6"/>
<line x1="248.60" y1="287.50" x2="248.60" y2="288.70" stroke="#777" stroke-width="0.6"/>
<line x1="272.19" y1="287.50" x2="272.19" y2="288.70" stroke="#777" stroke-width="0.6"/>
<line x1="295.79" y1="287.50" x2="295.79" y2="288.70" stroke="#777" stroke-width="0.6"/>
<line x1="319.39" y1="287.50" x2="319.39" y2="288.70" stroke="#777" stroke-width="0.6"/>
<line x1="342.98" y1="287.50" x2="342.98" y2="288.70" stroke="#777" stroke-width="0.6"/>
<text x="289.00" y="308.00" font-size="8.6" text-anchor="middle" fill="#333" textLength="48.00" lengthAdjust="spacingAndGlyphs">Advance ratio μ</text>
<text x="391.60" y="258.98" font-size="9.0" text-anchor="end" fill="#333" textLength="13.65" lengthAdjust="spacingAndGlyphs">0.01</text>
<line x1="391.70" y1="255.88" x2="393.30" y2="255.88" stroke="#666" stroke-width="0.8"/>
<text x="391.60" y="227.45" font-size="9.0" text-anchor="end" fill="#333" textLength="13.65" lengthAdjust="spacingAndGlyphs">0.02</text>
<line x1="391.70" y1="224.35" x2="393.30" y2="224.35" stroke="#666" stroke-width="0.8"/>
<text x="391.60" y="195.92" font-size="9.0" text-anchor="end" fill="#333" textLength="13.65" lengthAdjust="spacingAndGlyphs">0.03</text>
<line x1="391.70" y1="192.82" x2="393.30" y2="192.82" stroke="#666" stroke-width="0.8"/>
<text x="391.60" y="164.40" font-size="9.0" text-anchor="end" fill="#333" textLength="13.65" lengthAdjust="spacingAndGlyphs">0.04</text>
<line x1="391.70" y1="161.30" x2="393.30" y2="161.30" stroke="#666" stroke-width="0.8"/>
<line x1="392.10" y1="281.09" x2="393.30" y2="281.09" stroke="#777" stroke-width="0.6"/>
<line x1="392.10" y1="274.79" x2="393.30" y2="274.79" stroke="#777" stroke-width="0.6"/>
<line x1="392.10" y1="268.48" x2="393.30" y2="268.48" stroke="#777" stroke-width="0.6"/>
<line x1="392.10" y1="262.18" x2="393.30" y2="262.18" stroke="#777" stroke-width="0.6"/>
<line x1="392.10" y1="249.57" x2="393.30" y2="249.57" stroke="#777" stroke-width="0.6"/>
<line x1="392.10" y1="243.26" x2="393.30" y2="243.26" stroke="#777" stroke-width="0.6"/>
<line x1="392.10" y1="236.96" x2="393.30" y2="236.96" stroke="#777" stroke-width="0.6"/>
<line x1="392.10" y1="230.65" x2="393.30" y2="230.65" stroke="#777" stroke-width="0.6"/>
<line x1="392.10" y1="218.05" x2="393.30" y2="218.05" stroke="#777" stroke-width="0.6"/>
<line x1="392.10" y1="211.74" x2="393.30" y2="211.74" stroke="#777" stroke-width="0.6"/>
<line x1="392.10" y1="205.44" x2="393.30" y2="205.44" stroke="#777" stroke-width="0.6"/>
<line x1="392.10" y1="199.13" x2="393.30" y2="199.13" stroke="#777" stroke-width="0.6"/>
<line x1="392.10" y1="186.52" x2="393.30" y2="186.52" stroke="#777" stroke-width="0.6"/>
<line x1="392.10" y1="180.21" x2="393.30" y2="180.21" stroke="#777" stroke-width="0.6"/>
<line x1="392.10" y1="173.91" x2="393.30" y2="173.91" stroke="#777" stroke-width="0.6"/>
<line x1="392.10" y1="167.61" x2="393.30" y2="167.61" stroke="#777" stroke-width="0.6"/>
<text x="393.30" y="297.90" font-size="9.0" text-anchor="middle" fill="#333" textLength="10.25" lengthAdjust="spacingAndGlyphs">0.0</text>
<line x1="393.30" y1="287.40" x2="393.30" y2="285.80" stroke="#666" stroke-width="0.8"/>
<text x="442.08" y="297.90" font-size="9.0" text-anchor="middle" fill="#333" textLength="10.25" lengthAdjust="spacingAndGlyphs">0.2</text>
<line x1="442.08" y1="287.40" x2="442.08" y2="285.80" stroke="#666" stroke-width="0.8"/>
<text x="490.86" y="297.90" font-size="9.0" text-anchor="middle" fill="#333" textLength="10.25" lengthAdjust="spacingAndGlyphs">0.4</text>
<line x1="490.86" y1="287.40" x2="490.86" y2="285.80" stroke="#666" stroke-width="0.8"/>
<text x="539.65" y="297.90" font-size="9.0" text-anchor="middle" fill="#333" textLength="10.25" lengthAdjust="spacingAndGlyphs">0.6</text>
<line x1="539.65" y1="287.40" x2="539.65" y2="285.80" stroke="#666" stroke-width="0.8"/>
<line x1="405.50" y1="287.40" x2="405.50" y2="286.20" stroke="#777" stroke-width="0.6"/>
<line x1="417.69" y1="287.40" x2="417.69" y2="286.20" stroke="#777" stroke-width="0.6"/>
<line x1="429.89" y1="287.40" x2="429.89" y2="286.20" stroke="#777" stroke-width="0.6"/>
<line x1="454.28" y1="287.40" x2="454.28" y2="286.20" stroke="#777" stroke-width="0.6"/>
<line x1="466.47" y1="287.40" x2="466.47" y2="286.20" stroke="#777" stroke-width="0.6"/>
<line x1="478.67" y1="287.40" x2="478.67" y2="286.20" stroke="#777" stroke-width="0.6"/>
<line x1="503.06" y1="287.40" x2="503.06" y2="286.20" stroke="#777" stroke-width="0.6"/>
<line x1="515.26" y1="287.40" x2="515.26" y2="286.20" stroke="#777" stroke-width="0.6"/>
<line x1="527.45" y1="287.40" x2="527.45" y2="286.20" stroke="#777" stroke-width="0.6"/>
<text x="469.40" y="313.00" font-size="9.4" text-anchor="middle" fill="#333" textLength="53.50" lengthAdjust="spacingAndGlyphs">Advance ratio μ</text>
<g transform="translate(15.60,99.00) rotate(-90)" fill="#333"><text x="0" y="0" font-size="8.8" textLength="44.40" lengthAdjust="spacingAndGlyphs">Angle of Attack,</text><text x="48.80" y="0" font-size="8.4" textLength="3.70" lengthAdjust="spacingAndGlyphs">α</text><text x="52.60" y="1.3" font-size="5.6" textLength="3.50" lengthAdjust="spacingAndGlyphs">D</text></g>
<g transform="translate(198.50,99.80) rotate(-90)" fill="#333"><text x="0" y="0" font-size="8.8" textLength="44.90" lengthAdjust="spacingAndGlyphs">Angle of Attack,</text><text x="47.60" y="0" font-size="8.4" textLength="4.00" lengthAdjust="spacingAndGlyphs">α</text><text x="52.60" y="1.3" font-size="5.6" textLength="3.80" lengthAdjust="spacingAndGlyphs">D</text></g>
<g transform="translate(377.40,98.30) rotate(-90)" fill="#333"><text x="0" y="0" font-size="8.8" textLength="44.90" lengthAdjust="spacingAndGlyphs">Angle of Attack,</text><text x="48.10" y="0" font-size="8.4" textLength="4.10" lengthAdjust="spacingAndGlyphs">α</text><text x="53.50" y="1.3" font-size="5.6" textLength="3.70" lengthAdjust="spacingAndGlyphs">D</text></g>
<g transform="translate(9.80,257.60) rotate(-90)" fill="#333"><text x="0" y="0" font-size="8.0" textLength="53.60" lengthAdjust="spacingAndGlyphs">Thrust Coefficient,</text><text x="57.90" y="0" font-size="8.0" textLength="4.60" lengthAdjust="spacingAndGlyphs">C</text><text x="63.20" y="1.6" font-size="5.0" textLength="2.60" lengthAdjust="spacingAndGlyphs">T</text></g>
<g transform="translate(192.10,256.90) rotate(-90)" fill="#333"><text x="0" y="0" font-size="8.0" textLength="53.20" lengthAdjust="spacingAndGlyphs">Thrust Coefficient,</text><text x="57.60" y="0" font-size="8.0" textLength="4.60" lengthAdjust="spacingAndGlyphs">C</text><text x="63.20" y="1.6" font-size="5.0" textLength="2.60" lengthAdjust="spacingAndGlyphs">T</text></g>
<g transform="translate(375.10,255.30) rotate(-90)" fill="#333"><text x="0" y="0" font-size="8.2" textLength="51.60" lengthAdjust="spacingAndGlyphs">Thrust Coefficient,</text><text x="56.30" y="0" font-size="8.2" textLength="4.60" lengthAdjust="spacingAndGlyphs">C</text><text x="62.00" y="1.6" font-size="5.0" textLength="2.60" lengthAdjust="spacingAndGlyphs">T</text></g>
<circle cx="108.2" cy="323.3" r="1.5" fill="none" stroke="#333" stroke-width="1"/>
<text x="121.50" y="325.60" font-size="6.3" text-anchor="start" fill="#333" textLength="23.20" lengthAdjust="spacingAndGlyphs">No Limits</text>
<circle cx="158.4" cy="323.3" r="1.5" fill="none" stroke="#e8202a" stroke-width="1"/>
<text x="171.70" y="325.60" font-size="6.3" text-anchor="start" fill="#333" textLength="37.60" lengthAdjust="spacingAndGlyphs">Static Stall Limit</text>
<circle cx="219.1" cy="323.3" r="1.5" fill="none" stroke="#f59a2e" stroke-width="1"/>
<text x="232.20" y="325.60" font-size="6.3" text-anchor="start" fill="#333" textLength="46.90" lengthAdjust="spacingAndGlyphs">Dynamic Stall Limit</text>
<circle cx="292.4" cy="323.3" r="1.5" fill="none" stroke="#1e90e6" stroke-width="1"/>
<text x="305.70" y="325.60" font-size="6.3" text-anchor="start" fill="#333" textLength="35.80" lengthAdjust="spacingAndGlyphs">Power 1  Limit</text>
<circle cx="354.8" cy="323.3" r="1.5" fill="none" stroke="#22b83a" stroke-width="1"/>
<text x="367.90" y="325.60" font-size="6.3" text-anchor="start" fill="#333" textLength="34.30" lengthAdjust="spacingAndGlyphs">Power 2 Limit</text>
<circle cx="415.3" cy="323.3" r="1.5" fill="none" stroke="#e020e0" stroke-width="1"/>
<text x="429.00" y="325.60" font-size="6.3" text-anchor="start" fill="#333" textLength="34.30" lengthAdjust="spacingAndGlyphs">Power 3 Limit</text>
</svg></body></html>
